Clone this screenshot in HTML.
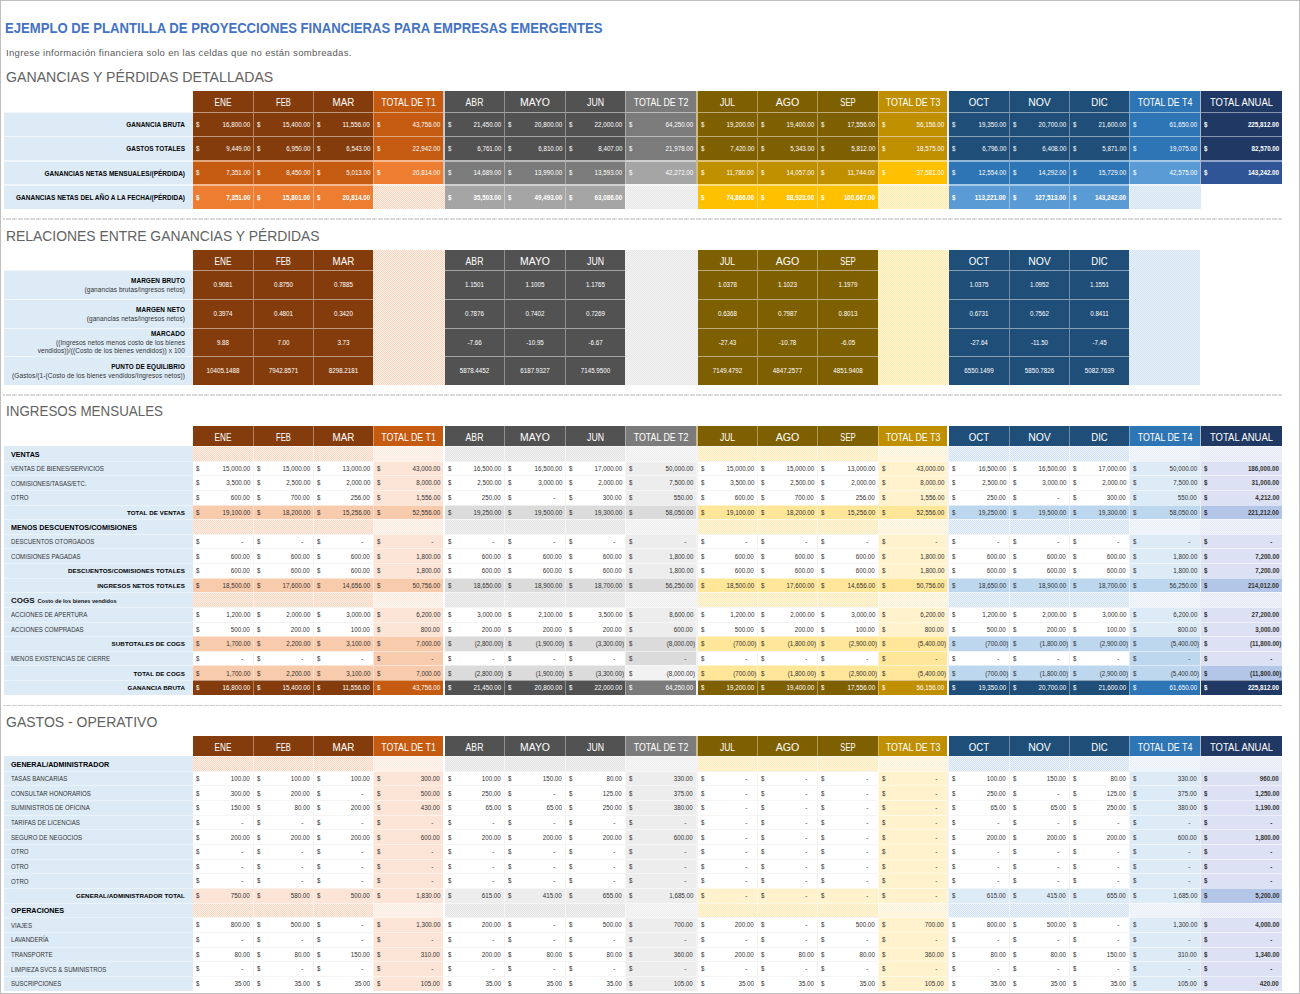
<!DOCTYPE html><html><head><meta charset="utf-8"><title>Plantilla</title><style>
*{margin:0;padding:0;box-sizing:border-box}
html,body{width:1300px;height:994px;overflow:hidden;background:#fff}
body{position:relative;font-family:"Liberation Sans", sans-serif}
body>div{position:absolute}
.t{display:flex;align-items:center;white-space:nowrap;line-height:1;position:absolute}
.tl{justify-content:flex-start}.tr{justify-content:flex-end}.tc{justify-content:center}
.c{font-size:6.8px;line-height:1;white-space:nowrap}
.c i{position:absolute;left:3px;font-style:normal;height:100%;display:flex;align-items:center;transform:scaleX(.9);transform-origin:left center}
.c b{position:absolute;right:3px;font-weight:inherit;height:100%;display:flex;align-items:center;transform:scaleX(.915);transform-origin:right center}
.cc b{left:0;right:0;justify-content:center;transform-origin:center}
.h{font-size:10.2px;color:#fff;line-height:1}
.h b{position:absolute;left:0;right:0;top:1.6px;height:100%;display:flex;align-items:center;justify-content:center;font-weight:normal}
</style></head><body>
<div style="left:0;top:0;width:1300px;height:994px;border:1px solid #BFBFBF;background:#fff"></div>
<div class="t tl" style="left:5px;top:16.3px;width:695px;height:24px;font-size:14px;color:#4472C4;font-weight:bold;transform:scaleX(.9375);transform-origin:left center">EJEMPLO DE PLANTILLA DE PROYECCIONES FINANCIERAS PARA EMPRESAS EMERGENTES</div>
<div class="t tl" style="left:6px;top:45.3px;width:694px;height:15px;font-size:9.5px;color:#595959;letter-spacing:0.34px;">Ingrese información financiera solo en las celdas que no están sombreadas.</div>
<div class="t tl" style="left:6px;top:66.8px;width:694px;height:20.0px;font-size:15px;color:#626262;transform:scaleX(0.943);transform-origin:left center">GANANCIAS Y PÉRDIDAS DETALLADAS</div>
<div class="h" style="left:193px;top:91px;width:60px;height:21px;background:#843C0C;"><b style="transform:scaleX(0.806)">ENE</b></div>
<div class="h" style="left:253px;top:91px;width:60px;height:21px;background:#843C0C;border-left:1px solid rgba(255,255,255,.36);"><b style="transform:scaleX(0.746)">FEB</b></div>
<div class="h" style="left:313px;top:91px;width:60px;height:21px;background:#843C0C;border-left:1px solid rgba(255,255,255,.36);"><b style="transform:scaleX(0.961)">MAR</b></div>
<div class="h" style="left:373px;top:91px;width:70px;height:21px;background:#C55A11;border-left:1px solid rgba(255,255,255,.36);"><b style="transform:scaleX(0.868)">TOTAL DE T1</b></div>
<div class="h" style="left:445px;top:91px;width:59px;height:21px;background:#525252;"><b style="transform:scaleX(0.849)">ABR</b></div>
<div class="h" style="left:504px;top:91px;width:61px;height:21px;background:#525252;border-left:1px solid rgba(255,255,255,.36);"><b style="transform:scaleX(1.024)">MAYO</b></div>
<div class="h" style="left:565px;top:91px;width:60px;height:21px;background:#525252;border-left:1px solid rgba(255,255,255,.36);"><b style="transform:scaleX(0.857)">JUN</b></div>
<div class="h" style="left:625px;top:91px;width:71px;height:21px;background:#7B7B7B;border-left:1px solid rgba(255,255,255,.36);"><b style="transform:scaleX(0.868)">TOTAL DE T2</b></div>
<div class="h" style="left:698px;top:91px;width:59px;height:21px;background:#7F6000;"><b style="transform:scaleX(0.832)">JUL</b></div>
<div class="h" style="left:757px;top:91px;width:60px;height:21px;background:#7F6000;border-left:1px solid rgba(255,255,255,.36);"><b style="transform:scaleX(1.045)">AGO</b></div>
<div class="h" style="left:817px;top:91px;width:61px;height:21px;background:#7F6000;border-left:1px solid rgba(255,255,255,.36);"><b style="transform:scaleX(0.749)">SEP</b></div>
<div class="h" style="left:878px;top:91px;width:69px;height:21px;background:#BF8F00;border-left:1px solid rgba(255,255,255,.36);"><b style="transform:scaleX(0.868)">TOTAL DE T3</b></div>
<div class="h" style="left:949px;top:91px;width:60px;height:21px;background:#1F4E78;"><b style="transform:scaleX(0.952)">OCT</b></div>
<div class="h" style="left:1009px;top:91px;width:60px;height:21px;background:#1F4E78;border-left:1px solid rgba(255,255,255,.36);"><b style="transform:scaleX(1.027)">NOV</b></div>
<div class="h" style="left:1069px;top:91px;width:60px;height:21px;background:#1F4E78;border-left:1px solid rgba(255,255,255,.36);"><b style="transform:scaleX(0.939)">DIC</b></div>
<div class="h" style="left:1129px;top:91px;width:71px;height:21px;background:#2E75B6;border-left:1px solid rgba(255,255,255,.36);"><b style="transform:scaleX(0.868)">TOTAL DE T4</b></div>
<div class="h" style="left:1201px;top:91px;width:81px;height:21px;background:#203864;"><b style="transform:scaleX(0.93)">TOTAL ANUAL</b></div>
<div style="left:4px;top:112px;width:189px;height:24px;background:#DDEBF7;border-top:1px solid rgba(255,255,255,.55);"></div>
<div class="t tr" style="left:4px;top:113.9px;width:189px;height:23px;font-size:6.45px;color:#000;font-weight:bold;padding:0 8px;letter-spacing:0.03px;">GANANCIA BRUTA</div>
<div class="c" style="left:193px;top:112px;width:60px;height:24px;background:#843C0C;border-top:1px solid rgba(255,255,255,.47);color:#fff;"><i style="top:0.8px">$</i><b style="top:0.8px;">16,800.00</b></div>
<div class="c" style="left:253px;top:112px;width:60px;height:24px;background:#843C0C;border-top:1px solid rgba(255,255,255,.47);border-left:1px solid rgba(255,255,255,.36);color:#fff;"><i style="top:0.8px">$</i><b style="top:0.8px;">15,400.00</b></div>
<div class="c" style="left:313px;top:112px;width:60px;height:24px;background:#843C0C;border-top:1px solid rgba(255,255,255,.47);border-left:1px solid rgba(255,255,255,.36);color:#fff;"><i style="top:0.8px">$</i><b style="top:0.8px;">11,556.00</b></div>
<div class="c" style="left:373px;top:112px;width:70px;height:24px;background:#C55A11;border-top:1px solid rgba(255,255,255,.47);border-left:1px solid rgba(255,255,255,.36);color:#fff;"><i style="top:0.8px">$</i><b style="top:0.8px;">43,756.00</b></div>
<div class="c" style="left:445px;top:112px;width:59px;height:24px;background:#525252;border-top:1px solid rgba(255,255,255,.47);color:#fff;"><i style="top:0.8px">$</i><b style="top:0.8px;">21,450.00</b></div>
<div class="c" style="left:504px;top:112px;width:61px;height:24px;background:#525252;border-top:1px solid rgba(255,255,255,.47);border-left:1px solid rgba(255,255,255,.36);color:#fff;"><i style="top:0.8px">$</i><b style="top:0.8px;">20,800.00</b></div>
<div class="c" style="left:565px;top:112px;width:60px;height:24px;background:#525252;border-top:1px solid rgba(255,255,255,.47);border-left:1px solid rgba(255,255,255,.36);color:#fff;"><i style="top:0.8px">$</i><b style="top:0.8px;">22,000.00</b></div>
<div class="c" style="left:625px;top:112px;width:71px;height:24px;background:#7B7B7B;border-top:1px solid rgba(255,255,255,.47);border-left:1px solid rgba(255,255,255,.36);color:#fff;"><i style="top:0.8px">$</i><b style="top:0.8px;">64,250.00</b></div>
<div class="c" style="left:698px;top:112px;width:59px;height:24px;background:#7F6000;border-top:1px solid rgba(255,255,255,.47);color:#fff;"><i style="top:0.8px">$</i><b style="top:0.8px;">19,200.00</b></div>
<div class="c" style="left:757px;top:112px;width:60px;height:24px;background:#7F6000;border-top:1px solid rgba(255,255,255,.47);border-left:1px solid rgba(255,255,255,.36);color:#fff;"><i style="top:0.8px">$</i><b style="top:0.8px;">19,400.00</b></div>
<div class="c" style="left:817px;top:112px;width:61px;height:24px;background:#7F6000;border-top:1px solid rgba(255,255,255,.47);border-left:1px solid rgba(255,255,255,.36);color:#fff;"><i style="top:0.8px">$</i><b style="top:0.8px;">17,556.00</b></div>
<div class="c" style="left:878px;top:112px;width:69px;height:24px;background:#BF8F00;border-top:1px solid rgba(255,255,255,.47);border-left:1px solid rgba(255,255,255,.36);color:#fff;"><i style="top:0.8px">$</i><b style="top:0.8px;">56,156.00</b></div>
<div class="c" style="left:949px;top:112px;width:60px;height:24px;background:#1F4E78;border-top:1px solid rgba(255,255,255,.47);color:#fff;"><i style="top:0.8px">$</i><b style="top:0.8px;">19,350.00</b></div>
<div class="c" style="left:1009px;top:112px;width:60px;height:24px;background:#1F4E78;border-top:1px solid rgba(255,255,255,.47);border-left:1px solid rgba(255,255,255,.36);color:#fff;"><i style="top:0.8px">$</i><b style="top:0.8px;">20,700.00</b></div>
<div class="c" style="left:1069px;top:112px;width:60px;height:24px;background:#1F4E78;border-top:1px solid rgba(255,255,255,.47);border-left:1px solid rgba(255,255,255,.36);color:#fff;"><i style="top:0.8px">$</i><b style="top:0.8px;">21,600.00</b></div>
<div class="c" style="left:1129px;top:112px;width:71px;height:24px;background:#2E75B6;border-top:1px solid rgba(255,255,255,.47);border-left:1px solid rgba(255,255,255,.36);color:#fff;"><i style="top:0.8px">$</i><b style="top:0.8px;">61,650.00</b></div>
<div class="c" style="left:1201px;top:112px;width:81px;height:24px;background:#203864;border-top:1px solid rgba(255,255,255,.47);color:#fff;font-weight:bold;"><i style="top:0.8px">$</i><b style="top:0.8px;">225,812.00</b></div>
<div style="left:4px;top:136px;width:189px;height:24px;background:#DDEBF7;border-top:1px solid rgba(255,255,255,.55);"></div>
<div class="t tr" style="left:4px;top:137.9px;width:189px;height:23px;font-size:6.45px;color:#000;font-weight:bold;padding:0 8px;letter-spacing:0.03px;">GASTOS TOTALES</div>
<div class="c" style="left:193px;top:136px;width:60px;height:24px;background:#843C0C;border-top:1px solid rgba(255,255,255,.47);color:#fff;"><i style="top:0.8px">$</i><b style="top:0.8px;">9,449.00</b></div>
<div class="c" style="left:253px;top:136px;width:60px;height:24px;background:#843C0C;border-top:1px solid rgba(255,255,255,.47);border-left:1px solid rgba(255,255,255,.36);color:#fff;"><i style="top:0.8px">$</i><b style="top:0.8px;">6,950.00</b></div>
<div class="c" style="left:313px;top:136px;width:60px;height:24px;background:#843C0C;border-top:1px solid rgba(255,255,255,.47);border-left:1px solid rgba(255,255,255,.36);color:#fff;"><i style="top:0.8px">$</i><b style="top:0.8px;">6,543.00</b></div>
<div class="c" style="left:373px;top:136px;width:70px;height:24px;background:#C55A11;border-top:1px solid rgba(255,255,255,.47);border-left:1px solid rgba(255,255,255,.36);color:#fff;"><i style="top:0.8px">$</i><b style="top:0.8px;">22,942.00</b></div>
<div class="c" style="left:445px;top:136px;width:59px;height:24px;background:#525252;border-top:1px solid rgba(255,255,255,.47);color:#fff;"><i style="top:0.8px">$</i><b style="top:0.8px;">6,761.00</b></div>
<div class="c" style="left:504px;top:136px;width:61px;height:24px;background:#525252;border-top:1px solid rgba(255,255,255,.47);border-left:1px solid rgba(255,255,255,.36);color:#fff;"><i style="top:0.8px">$</i><b style="top:0.8px;">6,810.00</b></div>
<div class="c" style="left:565px;top:136px;width:60px;height:24px;background:#525252;border-top:1px solid rgba(255,255,255,.47);border-left:1px solid rgba(255,255,255,.36);color:#fff;"><i style="top:0.8px">$</i><b style="top:0.8px;">8,407.00</b></div>
<div class="c" style="left:625px;top:136px;width:71px;height:24px;background:#7B7B7B;border-top:1px solid rgba(255,255,255,.47);border-left:1px solid rgba(255,255,255,.36);color:#fff;"><i style="top:0.8px">$</i><b style="top:0.8px;">21,978.00</b></div>
<div class="c" style="left:698px;top:136px;width:59px;height:24px;background:#7F6000;border-top:1px solid rgba(255,255,255,.47);color:#fff;"><i style="top:0.8px">$</i><b style="top:0.8px;">7,420.00</b></div>
<div class="c" style="left:757px;top:136px;width:60px;height:24px;background:#7F6000;border-top:1px solid rgba(255,255,255,.47);border-left:1px solid rgba(255,255,255,.36);color:#fff;"><i style="top:0.8px">$</i><b style="top:0.8px;">5,343.00</b></div>
<div class="c" style="left:817px;top:136px;width:61px;height:24px;background:#7F6000;border-top:1px solid rgba(255,255,255,.47);border-left:1px solid rgba(255,255,255,.36);color:#fff;"><i style="top:0.8px">$</i><b style="top:0.8px;">5,812.00</b></div>
<div class="c" style="left:878px;top:136px;width:69px;height:24px;background:#BF8F00;border-top:1px solid rgba(255,255,255,.47);border-left:1px solid rgba(255,255,255,.36);color:#fff;"><i style="top:0.8px">$</i><b style="top:0.8px;">18,575.00</b></div>
<div class="c" style="left:949px;top:136px;width:60px;height:24px;background:#1F4E78;border-top:1px solid rgba(255,255,255,.47);color:#fff;"><i style="top:0.8px">$</i><b style="top:0.8px;">6,796.00</b></div>
<div class="c" style="left:1009px;top:136px;width:60px;height:24px;background:#1F4E78;border-top:1px solid rgba(255,255,255,.47);border-left:1px solid rgba(255,255,255,.36);color:#fff;"><i style="top:0.8px">$</i><b style="top:0.8px;">6,408.00</b></div>
<div class="c" style="left:1069px;top:136px;width:60px;height:24px;background:#1F4E78;border-top:1px solid rgba(255,255,255,.47);border-left:1px solid rgba(255,255,255,.36);color:#fff;"><i style="top:0.8px">$</i><b style="top:0.8px;">5,871.00</b></div>
<div class="c" style="left:1129px;top:136px;width:71px;height:24px;background:#2E75B6;border-top:1px solid rgba(255,255,255,.47);border-left:1px solid rgba(255,255,255,.36);color:#fff;"><i style="top:0.8px">$</i><b style="top:0.8px;">19,075.00</b></div>
<div class="c" style="left:1201px;top:136px;width:81px;height:24px;background:#203864;border-top:1px solid rgba(255,255,255,.47);color:#fff;font-weight:bold;"><i style="top:0.8px">$</i><b style="top:0.8px;">82,570.00</b></div>
<div style="left:4px;top:160px;width:189px;height:24px;background:#DDEBF7;border-top:2px solid rgba(255,255,255,.55);"></div>
<div class="t tr" style="left:4px;top:162.9px;width:189px;height:22px;font-size:6.45px;color:#000;font-weight:bold;padding:0 8px;letter-spacing:0.03px;">GANANCIAS NETAS MENSUALES/(PÉRDIDA)</div>
<div class="c" style="left:193px;top:160px;width:60px;height:24px;background:#C55A11;border-top:2px solid rgba(255,255,255,.47);color:#fff;"><i style="top:0.8px">$</i><b style="top:0.8px;">7,351.00</b></div>
<div class="c" style="left:253px;top:160px;width:60px;height:24px;background:#C55A11;border-top:2px solid rgba(255,255,255,.47);border-left:1px solid rgba(255,255,255,.36);color:#fff;"><i style="top:0.8px">$</i><b style="top:0.8px;">8,450.00</b></div>
<div class="c" style="left:313px;top:160px;width:60px;height:24px;background:#C55A11;border-top:2px solid rgba(255,255,255,.47);border-left:1px solid rgba(255,255,255,.36);color:#fff;"><i style="top:0.8px">$</i><b style="top:0.8px;">5,013.00</b></div>
<div class="c" style="left:373px;top:160px;width:70px;height:24px;background:#ED7D31;border-top:2px solid rgba(255,255,255,.47);border-left:1px solid rgba(255,255,255,.36);color:#fff;"><i style="top:0.8px">$</i><b style="top:0.8px;">20,814.00</b></div>
<div class="c" style="left:445px;top:160px;width:59px;height:24px;background:#7B7B7B;border-top:2px solid rgba(255,255,255,.47);color:#fff;"><i style="top:0.8px">$</i><b style="top:0.8px;">14,689.00</b></div>
<div class="c" style="left:504px;top:160px;width:61px;height:24px;background:#7B7B7B;border-top:2px solid rgba(255,255,255,.47);border-left:1px solid rgba(255,255,255,.36);color:#fff;"><i style="top:0.8px">$</i><b style="top:0.8px;">13,990.00</b></div>
<div class="c" style="left:565px;top:160px;width:60px;height:24px;background:#7B7B7B;border-top:2px solid rgba(255,255,255,.47);border-left:1px solid rgba(255,255,255,.36);color:#fff;"><i style="top:0.8px">$</i><b style="top:0.8px;">13,593.00</b></div>
<div class="c" style="left:625px;top:160px;width:71px;height:24px;background:#A5A5A5;border-top:2px solid rgba(255,255,255,.47);border-left:1px solid rgba(255,255,255,.36);color:#fff;"><i style="top:0.8px">$</i><b style="top:0.8px;">42,272.00</b></div>
<div class="c" style="left:698px;top:160px;width:59px;height:24px;background:#BF8F00;border-top:2px solid rgba(255,255,255,.47);color:#fff;"><i style="top:0.8px">$</i><b style="top:0.8px;">11,780.00</b></div>
<div class="c" style="left:757px;top:160px;width:60px;height:24px;background:#BF8F00;border-top:2px solid rgba(255,255,255,.47);border-left:1px solid rgba(255,255,255,.36);color:#fff;"><i style="top:0.8px">$</i><b style="top:0.8px;">14,057.00</b></div>
<div class="c" style="left:817px;top:160px;width:61px;height:24px;background:#BF8F00;border-top:2px solid rgba(255,255,255,.47);border-left:1px solid rgba(255,255,255,.36);color:#fff;"><i style="top:0.8px">$</i><b style="top:0.8px;">11,744.00</b></div>
<div class="c" style="left:878px;top:160px;width:69px;height:24px;background:#FFC000;border-top:2px solid rgba(255,255,255,.47);border-left:1px solid rgba(255,255,255,.36);color:#fff;"><i style="top:0.8px">$</i><b style="top:0.8px;">37,581.00</b></div>
<div class="c" style="left:949px;top:160px;width:60px;height:24px;background:#2E75B6;border-top:2px solid rgba(255,255,255,.47);color:#fff;"><i style="top:0.8px">$</i><b style="top:0.8px;">12,554.00</b></div>
<div class="c" style="left:1009px;top:160px;width:60px;height:24px;background:#2E75B6;border-top:2px solid rgba(255,255,255,.47);border-left:1px solid rgba(255,255,255,.36);color:#fff;"><i style="top:0.8px">$</i><b style="top:0.8px;">14,292.00</b></div>
<div class="c" style="left:1069px;top:160px;width:60px;height:24px;background:#2E75B6;border-top:2px solid rgba(255,255,255,.47);border-left:1px solid rgba(255,255,255,.36);color:#fff;"><i style="top:0.8px">$</i><b style="top:0.8px;">15,729.00</b></div>
<div class="c" style="left:1129px;top:160px;width:71px;height:24px;background:#5B9BD5;border-top:2px solid rgba(255,255,255,.47);border-left:1px solid rgba(255,255,255,.36);color:#fff;"><i style="top:0.8px">$</i><b style="top:0.8px;">42,575.00</b></div>
<div class="c" style="left:1201px;top:160px;width:81px;height:24px;background:#2F5597;border-top:2px solid rgba(255,255,255,.47);color:#fff;font-weight:bold;"><i style="top:0.8px">$</i><b style="top:0.8px;">143,242.00</b></div>
<div style="left:4px;top:184px;width:189px;height:24.5px;background:#DDEBF7;border-top:2px solid rgba(255,255,255,.55);"></div>
<div class="t tr" style="left:4px;top:186.9px;width:189px;height:22.5px;font-size:6.45px;color:#000;font-weight:bold;padding:0 8px;letter-spacing:0.03px;">GANANCIAS NETAS DEL AÑO A LA FECHA/(PÉRDIDA)</div>
<div class="c" style="left:193px;top:184px;width:60px;height:24.5px;background:#ED7D31;border-top:2px solid rgba(255,255,255,.47);color:#fff;font-weight:bold;"><i style="top:0.8px">$</i><b style="top:0.8px;">7,351.00</b></div>
<div class="c" style="left:253px;top:184px;width:60px;height:24.5px;background:#ED7D31;border-top:2px solid rgba(255,255,255,.47);border-left:1px solid rgba(255,255,255,.36);color:#fff;font-weight:bold;"><i style="top:0.8px">$</i><b style="top:0.8px;">15,801.00</b></div>
<div class="c" style="left:313px;top:184px;width:60px;height:24.5px;background:#ED7D31;border-top:2px solid rgba(255,255,255,.47);border-left:1px solid rgba(255,255,255,.36);color:#fff;font-weight:bold;"><i style="top:0.8px">$</i><b style="top:0.8px;">20,814.00</b></div>
<div style="left:373px;top:184px;width:72px;height:24.5px;background:repeating-conic-gradient(#F9D4BB 0 25%,#FDF1E9 0 50%) 0 0/2px 2px;border-top:2px solid rgba(255,255,255,.5);border-left:1px solid rgba(255,255,255,.5);"></div>
<div class="c" style="left:445px;top:184px;width:59px;height:24.5px;background:#A5A5A5;border-top:2px solid rgba(255,255,255,.47);color:#fff;font-weight:bold;"><i style="top:0.8px">$</i><b style="top:0.8px;">35,503.00</b></div>
<div class="c" style="left:504px;top:184px;width:61px;height:24.5px;background:#A5A5A5;border-top:2px solid rgba(255,255,255,.47);border-left:1px solid rgba(255,255,255,.36);color:#fff;font-weight:bold;"><i style="top:0.8px">$</i><b style="top:0.8px;">49,493.00</b></div>
<div class="c" style="left:565px;top:184px;width:60px;height:24.5px;background:#A5A5A5;border-top:2px solid rgba(255,255,255,.47);border-left:1px solid rgba(255,255,255,.36);color:#fff;font-weight:bold;"><i style="top:0.8px">$</i><b style="top:0.8px;">63,086.00</b></div>
<div style="left:625px;top:184px;width:73px;height:24.5px;background:repeating-conic-gradient(#E8E8E8 0 25%,#F2F2F2 0 50%) 0 0/2px 2px;border-top:2px solid rgba(255,255,255,.5);border-left:1px solid rgba(255,255,255,.5);"></div>
<div class="c" style="left:698px;top:184px;width:59px;height:24.5px;background:#FFC000;border-top:2px solid rgba(255,255,255,.47);color:#fff;font-weight:bold;"><i style="top:0.8px">$</i><b style="top:0.8px;">74,866.00</b></div>
<div class="c" style="left:757px;top:184px;width:60px;height:24.5px;background:#FFC000;border-top:2px solid rgba(255,255,255,.47);border-left:1px solid rgba(255,255,255,.36);color:#fff;font-weight:bold;"><i style="top:0.8px">$</i><b style="top:0.8px;">88,923.00</b></div>
<div class="c" style="left:817px;top:184px;width:61px;height:24.5px;background:#FFC000;border-top:2px solid rgba(255,255,255,.47);border-left:1px solid rgba(255,255,255,.36);color:#fff;font-weight:bold;"><i style="top:0.8px">$</i><b style="top:0.8px;">100,667.00</b></div>
<div style="left:878px;top:184px;width:71px;height:24.5px;background:repeating-conic-gradient(#FFEAA8 0 25%,#FFF5DA 0 50%) 0 0/2px 2px;border-top:2px solid rgba(255,255,255,.5);border-left:1px solid rgba(255,255,255,.5);"></div>
<div class="c" style="left:949px;top:184px;width:60px;height:24.5px;background:#5B9BD5;border-top:2px solid rgba(255,255,255,.47);color:#fff;font-weight:bold;"><i style="top:0.8px">$</i><b style="top:0.8px;">113,221.00</b></div>
<div class="c" style="left:1009px;top:184px;width:60px;height:24.5px;background:#5B9BD5;border-top:2px solid rgba(255,255,255,.47);border-left:1px solid rgba(255,255,255,.36);color:#fff;font-weight:bold;"><i style="top:0.8px">$</i><b style="top:0.8px;">127,513.00</b></div>
<div class="c" style="left:1069px;top:184px;width:60px;height:24.5px;background:#5B9BD5;border-top:2px solid rgba(255,255,255,.47);border-left:1px solid rgba(255,255,255,.36);color:#fff;font-weight:bold;"><i style="top:0.8px">$</i><b style="top:0.8px;">143,242.00</b></div>
<div style="left:1129px;top:184px;width:71.5px;height:24.5px;background:repeating-conic-gradient(#D4E5F4 0 25%,#E6EFF8 0 50%) 0 0/2px 2px;border-top:2px solid rgba(255,255,255,.5);border-left:1px solid rgba(255,255,255,.5);"></div>
<div style="left:443px;top:91px;width:2px;height:93px;background:#C9C9C9;"></div>
<div style="left:696px;top:91px;width:2px;height:93px;background:#CDBB85;"></div>
<div style="left:947px;top:91px;width:2px;height:93px;background:#E8EDF6;"></div>
<div style="left:1200px;top:91px;width:1px;height:93px;background:#A9B7CF;"></div>
<div style="left:3px;top:218px;width:1279px;height:2px;background:repeating-linear-gradient(90deg,#D9D9D9 0 4.6px,transparent 4.6px 6px) -3px 0/6px 100%"></div>
<div class="t tl" style="left:6px;top:225.3px;width:694px;height:20.0px;font-size:15px;color:#626262;transform:scaleX(0.926);transform-origin:left center">RELACIONES ENTRE GANANCIAS Y PÉRDIDAS</div>
<div style="left:373px;top:249.5px;width:72px;height:135.5px;background:repeating-conic-gradient(#F9D4BB 0 25%,#FDF1E9 0 50%) 0 0/2px 2px;"></div>
<div style="left:625px;top:249.5px;width:73px;height:135.5px;background:repeating-conic-gradient(#E8E8E8 0 25%,#F2F2F2 0 50%) 0 0/2px 2px;"></div>
<div style="left:878px;top:249.5px;width:71px;height:135.5px;background:repeating-conic-gradient(#FFEAA8 0 25%,#FFF5DA 0 50%) 0 0/2px 2px;"></div>
<div style="left:1129px;top:249.5px;width:71px;height:135.5px;background:repeating-conic-gradient(#D4E5F4 0 25%,#E6EFF8 0 50%) 0 0/2px 2px;"></div>
<div class="h" style="left:193px;top:250px;width:60px;height:20px;background:#843C0C;"><b style="top:2.4px;transform:scaleX(0.806)">ENE</b></div>
<div class="h" style="left:253px;top:250px;width:60px;height:20px;background:#843C0C;border-left:1px solid rgba(255,255,255,.36);"><b style="top:2.4px;transform:scaleX(0.746)">FEB</b></div>
<div class="h" style="left:313px;top:250px;width:60px;height:20px;background:#843C0C;border-left:1px solid rgba(255,255,255,.36);"><b style="top:2.4px;transform:scaleX(0.961)">MAR</b></div>
<div class="h" style="left:445px;top:250px;width:59px;height:20px;background:#525252;"><b style="top:2.4px;transform:scaleX(0.849)">ABR</b></div>
<div class="h" style="left:504px;top:250px;width:61px;height:20px;background:#525252;border-left:1px solid rgba(255,255,255,.36);"><b style="top:2.4px;transform:scaleX(1.024)">MAYO</b></div>
<div class="h" style="left:565px;top:250px;width:60px;height:20px;background:#525252;border-left:1px solid rgba(255,255,255,.36);"><b style="top:2.4px;transform:scaleX(0.857)">JUN</b></div>
<div class="h" style="left:698px;top:250px;width:59px;height:20px;background:#7F6000;"><b style="top:2.4px;transform:scaleX(0.832)">JUL</b></div>
<div class="h" style="left:757px;top:250px;width:60px;height:20px;background:#7F6000;border-left:1px solid rgba(255,255,255,.36);"><b style="top:2.4px;transform:scaleX(1.045)">AGO</b></div>
<div class="h" style="left:817px;top:250px;width:61px;height:20px;background:#7F6000;border-left:1px solid rgba(255,255,255,.36);"><b style="top:2.4px;transform:scaleX(0.749)">SEP</b></div>
<div class="h" style="left:949px;top:250px;width:60px;height:20px;background:#1F4E78;"><b style="top:2.4px;transform:scaleX(0.952)">OCT</b></div>
<div class="h" style="left:1009px;top:250px;width:60px;height:20px;background:#1F4E78;border-left:1px solid rgba(255,255,255,.36);"><b style="top:2.4px;transform:scaleX(1.027)">NOV</b></div>
<div class="h" style="left:1069px;top:250px;width:60px;height:20px;background:#1F4E78;border-left:1px solid rgba(255,255,255,.36);"><b style="top:2.4px;transform:scaleX(0.939)">DIC</b></div>
<div style="left:4px;top:270px;width:189px;height:29px;background:#DDEBF7;border-top:1px solid rgba(255,255,255,.55);"></div>
<div class="t tr" style="left:4px;top:276.7px;width:189px;height:8.9px;font-size:6.4px;color:#000;font-weight:bold;padding:0 8px;letter-spacing:0.1px;">MARGEN BRUTO</div>
<div class="t tr" style="left:4px;top:285.6px;width:189px;height:8.9px;font-size:6.5px;color:#333;padding:0 8px;letter-spacing:0.08px;">(ganancias brutas/ingresos netos)</div>
<div class="c cc" style="left:193px;top:270px;width:60px;height:29px;background:#843C0C;border-top:1px solid rgba(255,255,255,.47);color:#fff;"><b style="top:0.8px">0.9081</b></div>
<div class="c cc" style="left:253px;top:270px;width:60px;height:29px;background:#843C0C;border-top:1px solid rgba(255,255,255,.47);border-left:1px solid rgba(255,255,255,.36);color:#fff;"><b style="top:0.8px">0.8750</b></div>
<div class="c cc" style="left:313px;top:270px;width:60px;height:29px;background:#843C0C;border-top:1px solid rgba(255,255,255,.47);border-left:1px solid rgba(255,255,255,.36);color:#fff;"><b style="top:0.8px">0.7885</b></div>
<div class="c cc" style="left:445px;top:270px;width:59px;height:29px;background:#525252;border-top:1px solid rgba(255,255,255,.47);color:#fff;"><b style="top:0.8px">1.1501</b></div>
<div class="c cc" style="left:504px;top:270px;width:61px;height:29px;background:#525252;border-top:1px solid rgba(255,255,255,.47);border-left:1px solid rgba(255,255,255,.36);color:#fff;"><b style="top:0.8px">1.1005</b></div>
<div class="c cc" style="left:565px;top:270px;width:60px;height:29px;background:#525252;border-top:1px solid rgba(255,255,255,.47);border-left:1px solid rgba(255,255,255,.36);color:#fff;"><b style="top:0.8px">1.1765</b></div>
<div class="c cc" style="left:698px;top:270px;width:59px;height:29px;background:#7F6000;border-top:1px solid rgba(255,255,255,.47);color:#fff;"><b style="top:0.8px">1.0378</b></div>
<div class="c cc" style="left:757px;top:270px;width:60px;height:29px;background:#7F6000;border-top:1px solid rgba(255,255,255,.47);border-left:1px solid rgba(255,255,255,.36);color:#fff;"><b style="top:0.8px">1.1023</b></div>
<div class="c cc" style="left:817px;top:270px;width:61px;height:29px;background:#7F6000;border-top:1px solid rgba(255,255,255,.47);border-left:1px solid rgba(255,255,255,.36);color:#fff;"><b style="top:0.8px">1.1979</b></div>
<div class="c cc" style="left:949px;top:270px;width:60px;height:29px;background:#1F4E78;border-top:1px solid rgba(255,255,255,.47);color:#fff;"><b style="top:0.8px">1.0375</b></div>
<div class="c cc" style="left:1009px;top:270px;width:60px;height:29px;background:#1F4E78;border-top:1px solid rgba(255,255,255,.47);border-left:1px solid rgba(255,255,255,.36);color:#fff;"><b style="top:0.8px">1.0952</b></div>
<div class="c cc" style="left:1069px;top:270px;width:60px;height:29px;background:#1F4E78;border-top:1px solid rgba(255,255,255,.47);border-left:1px solid rgba(255,255,255,.36);color:#fff;"><b style="top:0.8px">1.1551</b></div>
<div style="left:4px;top:299px;width:189px;height:28.5px;background:#DDEBF7;border-top:1px solid rgba(255,255,255,.55);"></div>
<div class="t tr" style="left:4px;top:305.45px;width:189px;height:8.9px;font-size:6.4px;color:#000;font-weight:bold;padding:0 8px;letter-spacing:0.1px;">MARGEN NETO</div>
<div class="t tr" style="left:4px;top:314.35px;width:189px;height:8.9px;font-size:6.5px;color:#333;padding:0 8px;letter-spacing:0.08px;">(ganancias netas/ingresos netos)</div>
<div class="c cc" style="left:193px;top:299px;width:60px;height:28.5px;background:#843C0C;border-top:1px solid rgba(255,255,255,.47);color:#fff;"><b style="top:0.8px">0.3974</b></div>
<div class="c cc" style="left:253px;top:299px;width:60px;height:28.5px;background:#843C0C;border-top:1px solid rgba(255,255,255,.47);border-left:1px solid rgba(255,255,255,.36);color:#fff;"><b style="top:0.8px">0.4801</b></div>
<div class="c cc" style="left:313px;top:299px;width:60px;height:28.5px;background:#843C0C;border-top:1px solid rgba(255,255,255,.47);border-left:1px solid rgba(255,255,255,.36);color:#fff;"><b style="top:0.8px">0.3420</b></div>
<div class="c cc" style="left:445px;top:299px;width:59px;height:28.5px;background:#525252;border-top:1px solid rgba(255,255,255,.47);color:#fff;"><b style="top:0.8px">0.7876</b></div>
<div class="c cc" style="left:504px;top:299px;width:61px;height:28.5px;background:#525252;border-top:1px solid rgba(255,255,255,.47);border-left:1px solid rgba(255,255,255,.36);color:#fff;"><b style="top:0.8px">0.7402</b></div>
<div class="c cc" style="left:565px;top:299px;width:60px;height:28.5px;background:#525252;border-top:1px solid rgba(255,255,255,.47);border-left:1px solid rgba(255,255,255,.36);color:#fff;"><b style="top:0.8px">0.7269</b></div>
<div class="c cc" style="left:698px;top:299px;width:59px;height:28.5px;background:#7F6000;border-top:1px solid rgba(255,255,255,.47);color:#fff;"><b style="top:0.8px">0.6368</b></div>
<div class="c cc" style="left:757px;top:299px;width:60px;height:28.5px;background:#7F6000;border-top:1px solid rgba(255,255,255,.47);border-left:1px solid rgba(255,255,255,.36);color:#fff;"><b style="top:0.8px">0.7987</b></div>
<div class="c cc" style="left:817px;top:299px;width:61px;height:28.5px;background:#7F6000;border-top:1px solid rgba(255,255,255,.47);border-left:1px solid rgba(255,255,255,.36);color:#fff;"><b style="top:0.8px">0.8013</b></div>
<div class="c cc" style="left:949px;top:299px;width:60px;height:28.5px;background:#1F4E78;border-top:1px solid rgba(255,255,255,.47);color:#fff;"><b style="top:0.8px">0.6731</b></div>
<div class="c cc" style="left:1009px;top:299px;width:60px;height:28.5px;background:#1F4E78;border-top:1px solid rgba(255,255,255,.47);border-left:1px solid rgba(255,255,255,.36);color:#fff;"><b style="top:0.8px">0.7562</b></div>
<div class="c cc" style="left:1069px;top:299px;width:60px;height:28.5px;background:#1F4E78;border-top:1px solid rgba(255,255,255,.47);border-left:1px solid rgba(255,255,255,.36);color:#fff;"><b style="top:0.8px">0.8411</b></div>
<div style="left:4px;top:327.5px;width:189px;height:28.5px;background:#DDEBF7;border-top:1px solid rgba(255,255,255,.55);"></div>
<div class="t tr" style="left:4px;top:329.5px;width:189px;height:8.9px;font-size:6.4px;color:#000;font-weight:bold;padding:0 8px;letter-spacing:0.1px;">MARCADO</div>
<div class="t tr" style="left:4px;top:338.4px;width:189px;height:8.9px;font-size:6.5px;color:#333;padding:0 8px;letter-spacing:0.08px;">((Ingresos netos menos costo de los bienes</div>
<div class="t tr" style="left:4px;top:347.3px;width:189px;height:8.9px;font-size:6.5px;color:#333;padding:0 8px;letter-spacing:0.08px;">vendidos))/((Costo de los bienes vendidos)) x 100</div>
<div class="c cc" style="left:193px;top:327.5px;width:60px;height:28.5px;background:#843C0C;border-top:1px solid rgba(255,255,255,.47);color:#fff;"><b style="top:0.8px">9.88</b></div>
<div class="c cc" style="left:253px;top:327.5px;width:60px;height:28.5px;background:#843C0C;border-top:1px solid rgba(255,255,255,.47);border-left:1px solid rgba(255,255,255,.36);color:#fff;"><b style="top:0.8px">7.00</b></div>
<div class="c cc" style="left:313px;top:327.5px;width:60px;height:28.5px;background:#843C0C;border-top:1px solid rgba(255,255,255,.47);border-left:1px solid rgba(255,255,255,.36);color:#fff;"><b style="top:0.8px">3.73</b></div>
<div class="c cc" style="left:445px;top:327.5px;width:59px;height:28.5px;background:#525252;border-top:1px solid rgba(255,255,255,.47);color:#fff;"><b style="top:0.8px">-7.66</b></div>
<div class="c cc" style="left:504px;top:327.5px;width:61px;height:28.5px;background:#525252;border-top:1px solid rgba(255,255,255,.47);border-left:1px solid rgba(255,255,255,.36);color:#fff;"><b style="top:0.8px">-10.95</b></div>
<div class="c cc" style="left:565px;top:327.5px;width:60px;height:28.5px;background:#525252;border-top:1px solid rgba(255,255,255,.47);border-left:1px solid rgba(255,255,255,.36);color:#fff;"><b style="top:0.8px">-6.67</b></div>
<div class="c cc" style="left:698px;top:327.5px;width:59px;height:28.5px;background:#7F6000;border-top:1px solid rgba(255,255,255,.47);color:#fff;"><b style="top:0.8px">-27.43</b></div>
<div class="c cc" style="left:757px;top:327.5px;width:60px;height:28.5px;background:#7F6000;border-top:1px solid rgba(255,255,255,.47);border-left:1px solid rgba(255,255,255,.36);color:#fff;"><b style="top:0.8px">-10.78</b></div>
<div class="c cc" style="left:817px;top:327.5px;width:61px;height:28.5px;background:#7F6000;border-top:1px solid rgba(255,255,255,.47);border-left:1px solid rgba(255,255,255,.36);color:#fff;"><b style="top:0.8px">-6.05</b></div>
<div class="c cc" style="left:949px;top:327.5px;width:60px;height:28.5px;background:#1F4E78;border-top:1px solid rgba(255,255,255,.47);color:#fff;"><b style="top:0.8px">-27.64</b></div>
<div class="c cc" style="left:1009px;top:327.5px;width:60px;height:28.5px;background:#1F4E78;border-top:1px solid rgba(255,255,255,.47);border-left:1px solid rgba(255,255,255,.36);color:#fff;"><b style="top:0.8px">-11.50</b></div>
<div class="c cc" style="left:1069px;top:327.5px;width:60px;height:28.5px;background:#1F4E78;border-top:1px solid rgba(255,255,255,.47);border-left:1px solid rgba(255,255,255,.36);color:#fff;"><b style="top:0.8px">-7.45</b></div>
<div style="left:4px;top:356px;width:189px;height:29px;background:#DDEBF7;border-top:1px solid rgba(255,255,255,.55);"></div>
<div class="t tr" style="left:4px;top:362.7px;width:189px;height:8.9px;font-size:6.4px;color:#000;font-weight:bold;padding:0 8px;letter-spacing:0.1px;">PUNTO DE EQUILIBRIO</div>
<div class="t tr" style="left:4px;top:371.6px;width:189px;height:8.9px;font-size:6.5px;color:#333;padding:0 8px;letter-spacing:0.08px;">(Gastos/(1-(Costo de los bienes vendidos/Ingresos netos))</div>
<div class="c cc" style="left:193px;top:356px;width:60px;height:29px;background:#843C0C;border-top:1px solid rgba(255,255,255,.47);color:#fff;"><b style="top:0.8px">10405.1488</b></div>
<div class="c cc" style="left:253px;top:356px;width:60px;height:29px;background:#843C0C;border-top:1px solid rgba(255,255,255,.47);border-left:1px solid rgba(255,255,255,.36);color:#fff;"><b style="top:0.8px">7942.8571</b></div>
<div class="c cc" style="left:313px;top:356px;width:60px;height:29px;background:#843C0C;border-top:1px solid rgba(255,255,255,.47);border-left:1px solid rgba(255,255,255,.36);color:#fff;"><b style="top:0.8px">8298.2181</b></div>
<div class="c cc" style="left:445px;top:356px;width:59px;height:29px;background:#525252;border-top:1px solid rgba(255,255,255,.47);color:#fff;"><b style="top:0.8px">5878.4452</b></div>
<div class="c cc" style="left:504px;top:356px;width:61px;height:29px;background:#525252;border-top:1px solid rgba(255,255,255,.47);border-left:1px solid rgba(255,255,255,.36);color:#fff;"><b style="top:0.8px">6187.9327</b></div>
<div class="c cc" style="left:565px;top:356px;width:60px;height:29px;background:#525252;border-top:1px solid rgba(255,255,255,.47);border-left:1px solid rgba(255,255,255,.36);color:#fff;"><b style="top:0.8px">7145.9500</b></div>
<div class="c cc" style="left:698px;top:356px;width:59px;height:29px;background:#7F6000;border-top:1px solid rgba(255,255,255,.47);color:#fff;"><b style="top:0.8px">7149.4792</b></div>
<div class="c cc" style="left:757px;top:356px;width:60px;height:29px;background:#7F6000;border-top:1px solid rgba(255,255,255,.47);border-left:1px solid rgba(255,255,255,.36);color:#fff;"><b style="top:0.8px">4847.2577</b></div>
<div class="c cc" style="left:817px;top:356px;width:61px;height:29px;background:#7F6000;border-top:1px solid rgba(255,255,255,.47);border-left:1px solid rgba(255,255,255,.36);color:#fff;"><b style="top:0.8px">4851.9408</b></div>
<div class="c cc" style="left:949px;top:356px;width:60px;height:29px;background:#1F4E78;border-top:1px solid rgba(255,255,255,.47);color:#fff;"><b style="top:0.8px">6550.1499</b></div>
<div class="c cc" style="left:1009px;top:356px;width:60px;height:29px;background:#1F4E78;border-top:1px solid rgba(255,255,255,.47);border-left:1px solid rgba(255,255,255,.36);color:#fff;"><b style="top:0.8px">5850.7826</b></div>
<div class="c cc" style="left:1069px;top:356px;width:60px;height:29px;background:#1F4E78;border-top:1px solid rgba(255,255,255,.47);border-left:1px solid rgba(255,255,255,.36);color:#fff;"><b style="top:0.8px">5082.7639</b></div>
<div style="left:3px;top:394px;width:1279px;height:2px;background:repeating-linear-gradient(90deg,#D9D9D9 0 4.6px,transparent 4.6px 6px) -3px 0/6px 100%"></div>
<div class="t tl" style="left:6px;top:400.8px;width:694px;height:20.0px;font-size:15px;color:#626262;transform:scaleX(0.893);transform-origin:left center">INGRESOS MENSUALES</div>
<div class="h" style="left:193px;top:426px;width:60px;height:20px;background:#843C0C;"><b style="top:2.4px;transform:scaleX(0.806)">ENE</b></div>
<div class="h" style="left:253px;top:426px;width:60px;height:20px;background:#843C0C;border-left:1px solid rgba(255,255,255,.36);"><b style="top:2.4px;transform:scaleX(0.746)">FEB</b></div>
<div class="h" style="left:313px;top:426px;width:60px;height:20px;background:#843C0C;border-left:1px solid rgba(255,255,255,.36);"><b style="top:2.4px;transform:scaleX(0.961)">MAR</b></div>
<div class="h" style="left:373px;top:426px;width:70px;height:20px;background:#C55A11;border-left:1px solid rgba(255,255,255,.36);"><b style="top:2.4px;transform:scaleX(0.868)">TOTAL DE T1</b></div>
<div class="h" style="left:445px;top:426px;width:59px;height:20px;background:#525252;"><b style="top:2.4px;transform:scaleX(0.849)">ABR</b></div>
<div class="h" style="left:504px;top:426px;width:61px;height:20px;background:#525252;border-left:1px solid rgba(255,255,255,.36);"><b style="top:2.4px;transform:scaleX(1.024)">MAYO</b></div>
<div class="h" style="left:565px;top:426px;width:60px;height:20px;background:#525252;border-left:1px solid rgba(255,255,255,.36);"><b style="top:2.4px;transform:scaleX(0.857)">JUN</b></div>
<div class="h" style="left:625px;top:426px;width:71px;height:20px;background:#7B7B7B;border-left:1px solid rgba(255,255,255,.36);"><b style="top:2.4px;transform:scaleX(0.868)">TOTAL DE T2</b></div>
<div class="h" style="left:698px;top:426px;width:59px;height:20px;background:#7F6000;"><b style="top:2.4px;transform:scaleX(0.832)">JUL</b></div>
<div class="h" style="left:757px;top:426px;width:60px;height:20px;background:#7F6000;border-left:1px solid rgba(255,255,255,.36);"><b style="top:2.4px;transform:scaleX(1.045)">AGO</b></div>
<div class="h" style="left:817px;top:426px;width:61px;height:20px;background:#7F6000;border-left:1px solid rgba(255,255,255,.36);"><b style="top:2.4px;transform:scaleX(0.749)">SEP</b></div>
<div class="h" style="left:878px;top:426px;width:69px;height:20px;background:#BF8F00;border-left:1px solid rgba(255,255,255,.36);"><b style="top:2.4px;transform:scaleX(0.868)">TOTAL DE T3</b></div>
<div class="h" style="left:949px;top:426px;width:60px;height:20px;background:#1F4E78;"><b style="top:2.4px;transform:scaleX(0.952)">OCT</b></div>
<div class="h" style="left:1009px;top:426px;width:60px;height:20px;background:#1F4E78;border-left:1px solid rgba(255,255,255,.36);"><b style="top:2.4px;transform:scaleX(1.027)">NOV</b></div>
<div class="h" style="left:1069px;top:426px;width:60px;height:20px;background:#1F4E78;border-left:1px solid rgba(255,255,255,.36);"><b style="top:2.4px;transform:scaleX(0.939)">DIC</b></div>
<div class="h" style="left:1129px;top:426px;width:71px;height:20px;background:#2E75B6;border-left:1px solid rgba(255,255,255,.36);"><b style="top:2.4px;transform:scaleX(0.868)">TOTAL DE T4</b></div>
<div class="h" style="left:1201px;top:426px;width:81px;height:20px;background:#203864;"><b style="top:2.4px;transform:scaleX(0.93)">TOTAL ANUAL</b></div>
<div style="left:4px;top:446.0px;width:189px;height:14.63px;background:#DDEBF7;"></div>
<div class="t tl" style="left:11px;top:446.9px;width:182px;height:14.63px;font-size:7.2px;color:#000;font-weight:bold;">VENTAS</div>
<div style="left:193px;top:446.0px;width:60px;height:14.63px;background:repeating-conic-gradient(#F9D6C0 0 25%,#FDEFE6 0 50%) 0 0/2px 2px;border-top:1px solid rgba(255,255,255,.5);"></div>
<div style="left:253px;top:446.0px;width:60px;height:14.63px;background:repeating-conic-gradient(#F9D6C0 0 25%,#FDEFE6 0 50%) 0 0/2px 2px;border-top:1px solid rgba(255,255,255,.5);border-left:1px solid rgba(255,255,255,.5);"></div>
<div style="left:313px;top:446.0px;width:60px;height:14.63px;background:repeating-conic-gradient(#F9D6C0 0 25%,#FDEFE6 0 50%) 0 0/2px 2px;border-top:1px solid rgba(255,255,255,.5);border-left:1px solid rgba(255,255,255,.5);"></div>
<div style="left:373px;top:446.0px;width:70px;height:14.63px;background:repeating-conic-gradient(#FCEBE0 0 25%,#FEF5EF 0 50%) 0 0/2px 2px;border-top:1px solid rgba(255,255,255,.5);border-left:1px solid rgba(255,255,255,.5);"></div>
<div style="left:445px;top:446.0px;width:59px;height:14.63px;background:repeating-conic-gradient(#E2E2E2 0 25%,#F2F2F2 0 50%) 0 0/2px 2px;border-top:1px solid rgba(255,255,255,.5);"></div>
<div style="left:504px;top:446.0px;width:61px;height:14.63px;background:repeating-conic-gradient(#E2E2E2 0 25%,#F2F2F2 0 50%) 0 0/2px 2px;border-top:1px solid rgba(255,255,255,.5);border-left:1px solid rgba(255,255,255,.5);"></div>
<div style="left:565px;top:446.0px;width:60px;height:14.63px;background:repeating-conic-gradient(#E2E2E2 0 25%,#F2F2F2 0 50%) 0 0/2px 2px;border-top:1px solid rgba(255,255,255,.5);border-left:1px solid rgba(255,255,255,.5);"></div>
<div style="left:625px;top:446.0px;width:71px;height:14.63px;background:repeating-conic-gradient(#EEEEEE 0 25%,#F7F7F7 0 50%) 0 0/2px 2px;border-top:1px solid rgba(255,255,255,.5);border-left:1px solid rgba(255,255,255,.5);"></div>
<div style="left:698px;top:446.0px;width:59px;height:14.63px;background:repeating-conic-gradient(#FDEBBE 0 25%,#FFF6DA 0 50%) 0 0/2px 2px;border-top:1px solid rgba(255,255,255,.5);"></div>
<div style="left:757px;top:446.0px;width:60px;height:14.63px;background:repeating-conic-gradient(#FDEBBE 0 25%,#FFF6DA 0 50%) 0 0/2px 2px;border-top:1px solid rgba(255,255,255,.5);border-left:1px solid rgba(255,255,255,.5);"></div>
<div style="left:817px;top:446.0px;width:61px;height:14.63px;background:repeating-conic-gradient(#FDEBBE 0 25%,#FFF6DA 0 50%) 0 0/2px 2px;border-top:1px solid rgba(255,255,255,.5);border-left:1px solid rgba(255,255,255,.5);"></div>
<div style="left:878px;top:446.0px;width:69px;height:14.63px;background:repeating-conic-gradient(#FFF1D4 0 25%,#FFF9EC 0 50%) 0 0/2px 2px;border-top:1px solid rgba(255,255,255,.5);border-left:1px solid rgba(255,255,255,.5);"></div>
<div style="left:949px;top:446.0px;width:60px;height:14.63px;background:repeating-conic-gradient(#CFE0F1 0 25%,#ECF3FA 0 50%) 0 0/2px 2px;border-top:1px solid rgba(255,255,255,.5);"></div>
<div style="left:1009px;top:446.0px;width:60px;height:14.63px;background:repeating-conic-gradient(#CFE0F1 0 25%,#ECF3FA 0 50%) 0 0/2px 2px;border-top:1px solid rgba(255,255,255,.5);border-left:1px solid rgba(255,255,255,.5);"></div>
<div style="left:1069px;top:446.0px;width:60px;height:14.63px;background:repeating-conic-gradient(#CFE0F1 0 25%,#ECF3FA 0 50%) 0 0/2px 2px;border-top:1px solid rgba(255,255,255,.5);border-left:1px solid rgba(255,255,255,.5);"></div>
<div style="left:1129px;top:446.0px;width:71px;height:14.63px;background:repeating-conic-gradient(#E8F0F9 0 25%,#F3F7FC 0 50%) 0 0/2px 2px;border-top:1px solid rgba(255,255,255,.5);border-left:1px solid rgba(255,255,255,.5);"></div>
<div style="left:1201px;top:446.0px;width:81px;height:14.63px;background:repeating-conic-gradient(#E4E9F5 0 25%,#F0F3FA 0 50%) 0 0/2px 2px;border-top:1px solid rgba(255,255,255,.5);"></div>
<div style="left:4px;top:460.63px;width:189px;height:14.63px;background:#DDEBF7;border-top:1px solid rgba(255,255,255,.38);"></div>
<div class="t tl" style="left:11px;top:462.03px;width:182px;height:14.63px;font-size:6.8px;color:#333;transform:scaleX(.895);transform-origin:left center">VENTAS DE BIENES/SERVICIOS</div>
<div class="c" style="left:193px;top:460.63px;width:60px;height:14.63px;border-top:1px solid #F4F4F4;color:#333;"><i style="top:0.8px">$</i><b style="top:0.8px;">15,000.00</b></div>
<div class="c" style="left:253px;top:460.63px;width:60px;height:14.63px;border-top:1px solid #F4F4F4;border-left:1px solid #F4F4F4;color:#333;"><i style="top:0.8px">$</i><b style="top:0.8px;">15,000.00</b></div>
<div class="c" style="left:313px;top:460.63px;width:60px;height:14.63px;border-top:1px solid #F4F4F4;border-left:1px solid #F4F4F4;color:#333;"><i style="top:0.8px">$</i><b style="top:0.8px;">13,000.00</b></div>
<div class="c" style="left:373px;top:460.63px;width:70px;height:14.63px;background:#FCE4D6;border-top:1px solid rgba(255,255,255,.5);border-left:1px solid rgba(255,255,255,.5);color:#333;"><i style="top:0.8px">$</i><b style="top:0.8px;">43,000.00</b></div>
<div class="c" style="left:445px;top:460.63px;width:59px;height:14.63px;border-top:1px solid #F4F4F4;color:#333;"><i style="top:0.8px">$</i><b style="top:0.8px;">16,500.00</b></div>
<div class="c" style="left:504px;top:460.63px;width:61px;height:14.63px;border-top:1px solid #F4F4F4;border-left:1px solid #F4F4F4;color:#333;"><i style="top:0.8px">$</i><b style="top:0.8px;">16,500.00</b></div>
<div class="c" style="left:565px;top:460.63px;width:60px;height:14.63px;border-top:1px solid #F4F4F4;border-left:1px solid #F4F4F4;color:#333;"><i style="top:0.8px">$</i><b style="top:0.8px;">17,000.00</b></div>
<div class="c" style="left:625px;top:460.63px;width:71px;height:14.63px;background:#EDEDED;border-top:1px solid rgba(255,255,255,.5);border-left:1px solid rgba(255,255,255,.5);color:#333;"><i style="top:0.8px">$</i><b style="top:0.8px;">50,000.00</b></div>
<div class="c" style="left:698px;top:460.63px;width:59px;height:14.63px;border-top:1px solid #F4F4F4;color:#333;"><i style="top:0.8px">$</i><b style="top:0.8px;">15,000.00</b></div>
<div class="c" style="left:757px;top:460.63px;width:60px;height:14.63px;border-top:1px solid #F4F4F4;border-left:1px solid #F4F4F4;color:#333;"><i style="top:0.8px">$</i><b style="top:0.8px;">15,000.00</b></div>
<div class="c" style="left:817px;top:460.63px;width:61px;height:14.63px;border-top:1px solid #F4F4F4;border-left:1px solid #F4F4F4;color:#333;"><i style="top:0.8px">$</i><b style="top:0.8px;">13,000.00</b></div>
<div class="c" style="left:878px;top:460.63px;width:69px;height:14.63px;background:#FFF2CC;border-top:1px solid rgba(255,255,255,.5);border-left:1px solid rgba(255,255,255,.5);color:#333;"><i style="top:0.8px">$</i><b style="top:0.8px;">43,000.00</b></div>
<div class="c" style="left:949px;top:460.63px;width:60px;height:14.63px;border-top:1px solid #F4F4F4;color:#333;"><i style="top:0.8px">$</i><b style="top:0.8px;">16,500.00</b></div>
<div class="c" style="left:1009px;top:460.63px;width:60px;height:14.63px;border-top:1px solid #F4F4F4;border-left:1px solid #F4F4F4;color:#333;"><i style="top:0.8px">$</i><b style="top:0.8px;">16,500.00</b></div>
<div class="c" style="left:1069px;top:460.63px;width:60px;height:14.63px;border-top:1px solid #F4F4F4;border-left:1px solid #F4F4F4;color:#333;"><i style="top:0.8px">$</i><b style="top:0.8px;">17,000.00</b></div>
<div class="c" style="left:1129px;top:460.63px;width:71px;height:14.63px;background:#DDEBF7;border-top:1px solid rgba(255,255,255,.5);border-left:1px solid rgba(255,255,255,.5);color:#333;"><i style="top:0.8px">$</i><b style="top:0.8px;">50,000.00</b></div>
<div class="c" style="left:1201px;top:460.63px;width:81px;height:14.63px;background:#DCE2F3;border-top:1px solid rgba(255,255,255,.5);color:#333;font-weight:bold;"><i style="top:0.8px">$</i><b style="top:0.8px;">186,000.00</b></div>
<div style="left:4px;top:475.26px;width:189px;height:14.63px;background:#DDEBF7;border-top:1px solid rgba(255,255,255,.38);"></div>
<div class="t tl" style="left:11px;top:476.66px;width:182px;height:14.63px;font-size:6.8px;color:#333;transform:scaleX(.895);transform-origin:left center">COMISIONES/TASAS/ETC.</div>
<div class="c" style="left:193px;top:475.26px;width:60px;height:14.63px;border-top:1px solid #F4F4F4;color:#333;"><i style="top:0.8px">$</i><b style="top:0.8px;">3,500.00</b></div>
<div class="c" style="left:253px;top:475.26px;width:60px;height:14.63px;border-top:1px solid #F4F4F4;border-left:1px solid #F4F4F4;color:#333;"><i style="top:0.8px">$</i><b style="top:0.8px;">2,500.00</b></div>
<div class="c" style="left:313px;top:475.26px;width:60px;height:14.63px;border-top:1px solid #F4F4F4;border-left:1px solid #F4F4F4;color:#333;"><i style="top:0.8px">$</i><b style="top:0.8px;">2,000.00</b></div>
<div class="c" style="left:373px;top:475.26px;width:70px;height:14.63px;background:#FCE4D6;border-top:1px solid rgba(255,255,255,.5);border-left:1px solid rgba(255,255,255,.5);color:#333;"><i style="top:0.8px">$</i><b style="top:0.8px;">8,000.00</b></div>
<div class="c" style="left:445px;top:475.26px;width:59px;height:14.63px;border-top:1px solid #F4F4F4;color:#333;"><i style="top:0.8px">$</i><b style="top:0.8px;">2,500.00</b></div>
<div class="c" style="left:504px;top:475.26px;width:61px;height:14.63px;border-top:1px solid #F4F4F4;border-left:1px solid #F4F4F4;color:#333;"><i style="top:0.8px">$</i><b style="top:0.8px;">3,000.00</b></div>
<div class="c" style="left:565px;top:475.26px;width:60px;height:14.63px;border-top:1px solid #F4F4F4;border-left:1px solid #F4F4F4;color:#333;"><i style="top:0.8px">$</i><b style="top:0.8px;">2,000.00</b></div>
<div class="c" style="left:625px;top:475.26px;width:71px;height:14.63px;background:#EDEDED;border-top:1px solid rgba(255,255,255,.5);border-left:1px solid rgba(255,255,255,.5);color:#333;"><i style="top:0.8px">$</i><b style="top:0.8px;">7,500.00</b></div>
<div class="c" style="left:698px;top:475.26px;width:59px;height:14.63px;border-top:1px solid #F4F4F4;color:#333;"><i style="top:0.8px">$</i><b style="top:0.8px;">3,500.00</b></div>
<div class="c" style="left:757px;top:475.26px;width:60px;height:14.63px;border-top:1px solid #F4F4F4;border-left:1px solid #F4F4F4;color:#333;"><i style="top:0.8px">$</i><b style="top:0.8px;">2,500.00</b></div>
<div class="c" style="left:817px;top:475.26px;width:61px;height:14.63px;border-top:1px solid #F4F4F4;border-left:1px solid #F4F4F4;color:#333;"><i style="top:0.8px">$</i><b style="top:0.8px;">2,000.00</b></div>
<div class="c" style="left:878px;top:475.26px;width:69px;height:14.63px;background:#FFF2CC;border-top:1px solid rgba(255,255,255,.5);border-left:1px solid rgba(255,255,255,.5);color:#333;"><i style="top:0.8px">$</i><b style="top:0.8px;">8,000.00</b></div>
<div class="c" style="left:949px;top:475.26px;width:60px;height:14.63px;border-top:1px solid #F4F4F4;color:#333;"><i style="top:0.8px">$</i><b style="top:0.8px;">2,500.00</b></div>
<div class="c" style="left:1009px;top:475.26px;width:60px;height:14.63px;border-top:1px solid #F4F4F4;border-left:1px solid #F4F4F4;color:#333;"><i style="top:0.8px">$</i><b style="top:0.8px;">3,000.00</b></div>
<div class="c" style="left:1069px;top:475.26px;width:60px;height:14.63px;border-top:1px solid #F4F4F4;border-left:1px solid #F4F4F4;color:#333;"><i style="top:0.8px">$</i><b style="top:0.8px;">2,000.00</b></div>
<div class="c" style="left:1129px;top:475.26px;width:71px;height:14.63px;background:#DDEBF7;border-top:1px solid rgba(255,255,255,.5);border-left:1px solid rgba(255,255,255,.5);color:#333;"><i style="top:0.8px">$</i><b style="top:0.8px;">7,500.00</b></div>
<div class="c" style="left:1201px;top:475.26px;width:81px;height:14.63px;background:#DCE2F3;border-top:1px solid rgba(255,255,255,.5);color:#333;font-weight:bold;"><i style="top:0.8px">$</i><b style="top:0.8px;">31,000.00</b></div>
<div style="left:4px;top:489.89px;width:189px;height:14.63px;background:#DDEBF7;border-top:1px solid rgba(255,255,255,.38);"></div>
<div class="t tl" style="left:11px;top:491.29px;width:182px;height:14.63px;font-size:6.8px;color:#333;transform:scaleX(.895);transform-origin:left center">OTRO</div>
<div class="c" style="left:193px;top:489.89px;width:60px;height:14.63px;border-top:1px solid #F4F4F4;color:#333;"><i style="top:0.8px">$</i><b style="top:0.8px;">600.00</b></div>
<div class="c" style="left:253px;top:489.89px;width:60px;height:14.63px;border-top:1px solid #F4F4F4;border-left:1px solid #F4F4F4;color:#333;"><i style="top:0.8px">$</i><b style="top:0.8px;">700.00</b></div>
<div class="c" style="left:313px;top:489.89px;width:60px;height:14.63px;border-top:1px solid #F4F4F4;border-left:1px solid #F4F4F4;color:#333;"><i style="top:0.8px">$</i><b style="top:0.8px;">256.00</b></div>
<div class="c" style="left:373px;top:489.89px;width:70px;height:14.63px;background:#FCE4D6;border-top:1px solid rgba(255,255,255,.5);border-left:1px solid rgba(255,255,255,.5);color:#333;"><i style="top:0.8px">$</i><b style="top:0.8px;">1,556.00</b></div>
<div class="c" style="left:445px;top:489.89px;width:59px;height:14.63px;border-top:1px solid #F4F4F4;color:#333;"><i style="top:0.8px">$</i><b style="top:0.8px;">250.00</b></div>
<div class="c" style="left:504px;top:489.89px;width:61px;height:14.63px;border-top:1px solid #F4F4F4;border-left:1px solid #F4F4F4;color:#333;"><i style="top:0.8px">$</i><b style="top:0.8px;right:9.7px;">-</b></div>
<div class="c" style="left:565px;top:489.89px;width:60px;height:14.63px;border-top:1px solid #F4F4F4;border-left:1px solid #F4F4F4;color:#333;"><i style="top:0.8px">$</i><b style="top:0.8px;">300.00</b></div>
<div class="c" style="left:625px;top:489.89px;width:71px;height:14.63px;background:#EDEDED;border-top:1px solid rgba(255,255,255,.5);border-left:1px solid rgba(255,255,255,.5);color:#333;"><i style="top:0.8px">$</i><b style="top:0.8px;">550.00</b></div>
<div class="c" style="left:698px;top:489.89px;width:59px;height:14.63px;border-top:1px solid #F4F4F4;color:#333;"><i style="top:0.8px">$</i><b style="top:0.8px;">600.00</b></div>
<div class="c" style="left:757px;top:489.89px;width:60px;height:14.63px;border-top:1px solid #F4F4F4;border-left:1px solid #F4F4F4;color:#333;"><i style="top:0.8px">$</i><b style="top:0.8px;">700.00</b></div>
<div class="c" style="left:817px;top:489.89px;width:61px;height:14.63px;border-top:1px solid #F4F4F4;border-left:1px solid #F4F4F4;color:#333;"><i style="top:0.8px">$</i><b style="top:0.8px;">256.00</b></div>
<div class="c" style="left:878px;top:489.89px;width:69px;height:14.63px;background:#FFF2CC;border-top:1px solid rgba(255,255,255,.5);border-left:1px solid rgba(255,255,255,.5);color:#333;"><i style="top:0.8px">$</i><b style="top:0.8px;">1,556.00</b></div>
<div class="c" style="left:949px;top:489.89px;width:60px;height:14.63px;border-top:1px solid #F4F4F4;color:#333;"><i style="top:0.8px">$</i><b style="top:0.8px;">250.00</b></div>
<div class="c" style="left:1009px;top:489.89px;width:60px;height:14.63px;border-top:1px solid #F4F4F4;border-left:1px solid #F4F4F4;color:#333;"><i style="top:0.8px">$</i><b style="top:0.8px;right:9.7px;">-</b></div>
<div class="c" style="left:1069px;top:489.89px;width:60px;height:14.63px;border-top:1px solid #F4F4F4;border-left:1px solid #F4F4F4;color:#333;"><i style="top:0.8px">$</i><b style="top:0.8px;">300.00</b></div>
<div class="c" style="left:1129px;top:489.89px;width:71px;height:14.63px;background:#DDEBF7;border-top:1px solid rgba(255,255,255,.5);border-left:1px solid rgba(255,255,255,.5);color:#333;"><i style="top:0.8px">$</i><b style="top:0.8px;">550.00</b></div>
<div class="c" style="left:1201px;top:489.89px;width:81px;height:14.63px;background:#DCE2F3;border-top:1px solid rgba(255,255,255,.5);color:#333;font-weight:bold;"><i style="top:0.8px">$</i><b style="top:0.8px;">4,212.00</b></div>
<div style="left:4px;top:504.52px;width:189px;height:14.63px;background:#DDEBF7;border-top:1px solid rgba(255,255,255,.38);"></div>
<div class="t tr" style="left:4px;top:505.42px;width:189px;height:14.63px;font-size:6.2px;color:#000;font-weight:bold;padding:0 8px;letter-spacing:0.1px;">TOTAL DE VENTAS</div>
<div class="c" style="left:193px;top:504.52px;width:60px;height:14.63px;background:#F8CBAD;border-top:1px solid rgba(255,255,255,.5);color:#333;"><i style="top:0.8px">$</i><b style="top:0.8px;">19,100.00</b></div>
<div class="c" style="left:253px;top:504.52px;width:60px;height:14.63px;background:#F8CBAD;border-top:1px solid rgba(255,255,255,.5);border-left:1px solid rgba(255,255,255,.5);color:#333;"><i style="top:0.8px">$</i><b style="top:0.8px;">18,200.00</b></div>
<div class="c" style="left:313px;top:504.52px;width:60px;height:14.63px;background:#F8CBAD;border-top:1px solid rgba(255,255,255,.5);border-left:1px solid rgba(255,255,255,.5);color:#333;"><i style="top:0.8px">$</i><b style="top:0.8px;">15,256.00</b></div>
<div class="c" style="left:373px;top:504.52px;width:70px;height:14.63px;background:#F8CBAD;border-top:1px solid rgba(255,255,255,.5);border-left:1px solid rgba(255,255,255,.5);color:#333;"><i style="top:0.8px">$</i><b style="top:0.8px;">52,556.00</b></div>
<div class="c" style="left:445px;top:504.52px;width:59px;height:14.63px;background:#DBDBDB;border-top:1px solid rgba(255,255,255,.5);color:#333;"><i style="top:0.8px">$</i><b style="top:0.8px;">19,250.00</b></div>
<div class="c" style="left:504px;top:504.52px;width:61px;height:14.63px;background:#DBDBDB;border-top:1px solid rgba(255,255,255,.5);border-left:1px solid rgba(255,255,255,.5);color:#333;"><i style="top:0.8px">$</i><b style="top:0.8px;">19,500.00</b></div>
<div class="c" style="left:565px;top:504.52px;width:60px;height:14.63px;background:#DBDBDB;border-top:1px solid rgba(255,255,255,.5);border-left:1px solid rgba(255,255,255,.5);color:#333;"><i style="top:0.8px">$</i><b style="top:0.8px;">19,300.00</b></div>
<div class="c" style="left:625px;top:504.52px;width:71px;height:14.63px;background:#DBDBDB;border-top:1px solid rgba(255,255,255,.5);border-left:1px solid rgba(255,255,255,.5);color:#333;"><i style="top:0.8px">$</i><b style="top:0.8px;">58,050.00</b></div>
<div class="c" style="left:698px;top:504.52px;width:59px;height:14.63px;background:#FFE699;border-top:1px solid rgba(255,255,255,.5);color:#333;"><i style="top:0.8px">$</i><b style="top:0.8px;">19,100.00</b></div>
<div class="c" style="left:757px;top:504.52px;width:60px;height:14.63px;background:#FFE699;border-top:1px solid rgba(255,255,255,.5);border-left:1px solid rgba(255,255,255,.5);color:#333;"><i style="top:0.8px">$</i><b style="top:0.8px;">18,200.00</b></div>
<div class="c" style="left:817px;top:504.52px;width:61px;height:14.63px;background:#FFE699;border-top:1px solid rgba(255,255,255,.5);border-left:1px solid rgba(255,255,255,.5);color:#333;"><i style="top:0.8px">$</i><b style="top:0.8px;">15,256.00</b></div>
<div class="c" style="left:878px;top:504.52px;width:69px;height:14.63px;background:#FFE699;border-top:1px solid rgba(255,255,255,.5);border-left:1px solid rgba(255,255,255,.5);color:#333;"><i style="top:0.8px">$</i><b style="top:0.8px;">52,556.00</b></div>
<div class="c" style="left:949px;top:504.52px;width:60px;height:14.63px;background:#BDD7EE;border-top:1px solid rgba(255,255,255,.5);color:#333;"><i style="top:0.8px">$</i><b style="top:0.8px;">19,250.00</b></div>
<div class="c" style="left:1009px;top:504.52px;width:60px;height:14.63px;background:#BDD7EE;border-top:1px solid rgba(255,255,255,.5);border-left:1px solid rgba(255,255,255,.5);color:#333;"><i style="top:0.8px">$</i><b style="top:0.8px;">19,500.00</b></div>
<div class="c" style="left:1069px;top:504.52px;width:60px;height:14.63px;background:#BDD7EE;border-top:1px solid rgba(255,255,255,.5);border-left:1px solid rgba(255,255,255,.5);color:#333;"><i style="top:0.8px">$</i><b style="top:0.8px;">19,300.00</b></div>
<div class="c" style="left:1129px;top:504.52px;width:71px;height:14.63px;background:#BDD7EE;border-top:1px solid rgba(255,255,255,.5);border-left:1px solid rgba(255,255,255,.5);color:#333;"><i style="top:0.8px">$</i><b style="top:0.8px;">58,050.00</b></div>
<div class="c" style="left:1201px;top:504.52px;width:81px;height:14.63px;background:#B4C6E7;border-top:1px solid rgba(255,255,255,.5);color:#333;font-weight:bold;"><i style="top:0.8px">$</i><b style="top:0.8px;">221,212.00</b></div>
<div style="left:4px;top:519.15px;width:189px;height:14.63px;background:#DDEBF7;border-top:1px solid rgba(255,255,255,.38);"></div>
<div class="t tl" style="left:11px;top:520.05px;width:182px;height:14.63px;font-size:7.2px;color:#000;font-weight:bold;">MENOS DESCUENTOS/COMISIONES</div>
<div style="left:193px;top:519.15px;width:60px;height:14.63px;background:repeating-conic-gradient(#F9D6C0 0 25%,#FDEFE6 0 50%) 0 0/2px 2px;border-top:1px solid rgba(255,255,255,.5);"></div>
<div style="left:253px;top:519.15px;width:60px;height:14.63px;background:repeating-conic-gradient(#F9D6C0 0 25%,#FDEFE6 0 50%) 0 0/2px 2px;border-top:1px solid rgba(255,255,255,.5);border-left:1px solid rgba(255,255,255,.5);"></div>
<div style="left:313px;top:519.15px;width:60px;height:14.63px;background:repeating-conic-gradient(#F9D6C0 0 25%,#FDEFE6 0 50%) 0 0/2px 2px;border-top:1px solid rgba(255,255,255,.5);border-left:1px solid rgba(255,255,255,.5);"></div>
<div style="left:373px;top:519.15px;width:70px;height:14.63px;background:repeating-conic-gradient(#FCEBE0 0 25%,#FEF5EF 0 50%) 0 0/2px 2px;border-top:1px solid rgba(255,255,255,.5);border-left:1px solid rgba(255,255,255,.5);"></div>
<div style="left:445px;top:519.15px;width:59px;height:14.63px;background:repeating-conic-gradient(#E2E2E2 0 25%,#F2F2F2 0 50%) 0 0/2px 2px;border-top:1px solid rgba(255,255,255,.5);"></div>
<div style="left:504px;top:519.15px;width:61px;height:14.63px;background:repeating-conic-gradient(#E2E2E2 0 25%,#F2F2F2 0 50%) 0 0/2px 2px;border-top:1px solid rgba(255,255,255,.5);border-left:1px solid rgba(255,255,255,.5);"></div>
<div style="left:565px;top:519.15px;width:60px;height:14.63px;background:repeating-conic-gradient(#E2E2E2 0 25%,#F2F2F2 0 50%) 0 0/2px 2px;border-top:1px solid rgba(255,255,255,.5);border-left:1px solid rgba(255,255,255,.5);"></div>
<div style="left:625px;top:519.15px;width:71px;height:14.63px;background:repeating-conic-gradient(#EEEEEE 0 25%,#F7F7F7 0 50%) 0 0/2px 2px;border-top:1px solid rgba(255,255,255,.5);border-left:1px solid rgba(255,255,255,.5);"></div>
<div style="left:698px;top:519.15px;width:59px;height:14.63px;background:repeating-conic-gradient(#FDEBBE 0 25%,#FFF6DA 0 50%) 0 0/2px 2px;border-top:1px solid rgba(255,255,255,.5);"></div>
<div style="left:757px;top:519.15px;width:60px;height:14.63px;background:repeating-conic-gradient(#FDEBBE 0 25%,#FFF6DA 0 50%) 0 0/2px 2px;border-top:1px solid rgba(255,255,255,.5);border-left:1px solid rgba(255,255,255,.5);"></div>
<div style="left:817px;top:519.15px;width:61px;height:14.63px;background:repeating-conic-gradient(#FDEBBE 0 25%,#FFF6DA 0 50%) 0 0/2px 2px;border-top:1px solid rgba(255,255,255,.5);border-left:1px solid rgba(255,255,255,.5);"></div>
<div style="left:878px;top:519.15px;width:69px;height:14.63px;background:repeating-conic-gradient(#FFF1D4 0 25%,#FFF9EC 0 50%) 0 0/2px 2px;border-top:1px solid rgba(255,255,255,.5);border-left:1px solid rgba(255,255,255,.5);"></div>
<div style="left:949px;top:519.15px;width:60px;height:14.63px;background:repeating-conic-gradient(#CFE0F1 0 25%,#ECF3FA 0 50%) 0 0/2px 2px;border-top:1px solid rgba(255,255,255,.5);"></div>
<div style="left:1009px;top:519.15px;width:60px;height:14.63px;background:repeating-conic-gradient(#CFE0F1 0 25%,#ECF3FA 0 50%) 0 0/2px 2px;border-top:1px solid rgba(255,255,255,.5);border-left:1px solid rgba(255,255,255,.5);"></div>
<div style="left:1069px;top:519.15px;width:60px;height:14.63px;background:repeating-conic-gradient(#CFE0F1 0 25%,#ECF3FA 0 50%) 0 0/2px 2px;border-top:1px solid rgba(255,255,255,.5);border-left:1px solid rgba(255,255,255,.5);"></div>
<div style="left:1129px;top:519.15px;width:71px;height:14.63px;background:repeating-conic-gradient(#E8F0F9 0 25%,#F3F7FC 0 50%) 0 0/2px 2px;border-top:1px solid rgba(255,255,255,.5);border-left:1px solid rgba(255,255,255,.5);"></div>
<div style="left:1201px;top:519.15px;width:81px;height:14.63px;background:repeating-conic-gradient(#E4E9F5 0 25%,#F0F3FA 0 50%) 0 0/2px 2px;border-top:1px solid rgba(255,255,255,.5);"></div>
<div style="left:4px;top:533.78px;width:189px;height:14.63px;background:#DDEBF7;border-top:1px solid rgba(255,255,255,.38);"></div>
<div class="t tl" style="left:11px;top:535.18px;width:182px;height:14.63px;font-size:6.8px;color:#333;transform:scaleX(.895);transform-origin:left center">DESCUENTOS OTORGADOS</div>
<div class="c" style="left:193px;top:533.78px;width:60px;height:14.63px;border-top:1px solid #F4F4F4;color:#333;"><i style="top:0.8px">$</i><b style="top:0.8px;right:9.7px;">-</b></div>
<div class="c" style="left:253px;top:533.78px;width:60px;height:14.63px;border-top:1px solid #F4F4F4;border-left:1px solid #F4F4F4;color:#333;"><i style="top:0.8px">$</i><b style="top:0.8px;right:9.7px;">-</b></div>
<div class="c" style="left:313px;top:533.78px;width:60px;height:14.63px;border-top:1px solid #F4F4F4;border-left:1px solid #F4F4F4;color:#333;"><i style="top:0.8px">$</i><b style="top:0.8px;right:9.7px;">-</b></div>
<div class="c" style="left:373px;top:533.78px;width:70px;height:14.63px;background:#FCE4D6;border-top:1px solid rgba(255,255,255,.5);border-left:1px solid rgba(255,255,255,.5);color:#333;"><i style="top:0.8px">$</i><b style="top:0.8px;right:9.7px;">-</b></div>
<div class="c" style="left:445px;top:533.78px;width:59px;height:14.63px;border-top:1px solid #F4F4F4;color:#333;"><i style="top:0.8px">$</i><b style="top:0.8px;right:9.7px;">-</b></div>
<div class="c" style="left:504px;top:533.78px;width:61px;height:14.63px;border-top:1px solid #F4F4F4;border-left:1px solid #F4F4F4;color:#333;"><i style="top:0.8px">$</i><b style="top:0.8px;right:9.7px;">-</b></div>
<div class="c" style="left:565px;top:533.78px;width:60px;height:14.63px;border-top:1px solid #F4F4F4;border-left:1px solid #F4F4F4;color:#333;"><i style="top:0.8px">$</i><b style="top:0.8px;right:9.7px;">-</b></div>
<div class="c" style="left:625px;top:533.78px;width:71px;height:14.63px;background:#EDEDED;border-top:1px solid rgba(255,255,255,.5);border-left:1px solid rgba(255,255,255,.5);color:#333;"><i style="top:0.8px">$</i><b style="top:0.8px;right:9.7px;">-</b></div>
<div class="c" style="left:698px;top:533.78px;width:59px;height:14.63px;border-top:1px solid #F4F4F4;color:#333;"><i style="top:0.8px">$</i><b style="top:0.8px;right:9.7px;">-</b></div>
<div class="c" style="left:757px;top:533.78px;width:60px;height:14.63px;border-top:1px solid #F4F4F4;border-left:1px solid #F4F4F4;color:#333;"><i style="top:0.8px">$</i><b style="top:0.8px;right:9.7px;">-</b></div>
<div class="c" style="left:817px;top:533.78px;width:61px;height:14.63px;border-top:1px solid #F4F4F4;border-left:1px solid #F4F4F4;color:#333;"><i style="top:0.8px">$</i><b style="top:0.8px;right:9.7px;">-</b></div>
<div class="c" style="left:878px;top:533.78px;width:69px;height:14.63px;background:#FFF2CC;border-top:1px solid rgba(255,255,255,.5);border-left:1px solid rgba(255,255,255,.5);color:#333;"><i style="top:0.8px">$</i><b style="top:0.8px;right:9.7px;">-</b></div>
<div class="c" style="left:949px;top:533.78px;width:60px;height:14.63px;border-top:1px solid #F4F4F4;color:#333;"><i style="top:0.8px">$</i><b style="top:0.8px;right:9.7px;">-</b></div>
<div class="c" style="left:1009px;top:533.78px;width:60px;height:14.63px;border-top:1px solid #F4F4F4;border-left:1px solid #F4F4F4;color:#333;"><i style="top:0.8px">$</i><b style="top:0.8px;right:9.7px;">-</b></div>
<div class="c" style="left:1069px;top:533.78px;width:60px;height:14.63px;border-top:1px solid #F4F4F4;border-left:1px solid #F4F4F4;color:#333;"><i style="top:0.8px">$</i><b style="top:0.8px;right:9.7px;">-</b></div>
<div class="c" style="left:1129px;top:533.78px;width:71px;height:14.63px;background:#DDEBF7;border-top:1px solid rgba(255,255,255,.5);border-left:1px solid rgba(255,255,255,.5);color:#333;"><i style="top:0.8px">$</i><b style="top:0.8px;right:9.7px;">-</b></div>
<div class="c" style="left:1201px;top:533.78px;width:81px;height:14.63px;background:#DCE2F3;border-top:1px solid rgba(255,255,255,.5);color:#333;font-weight:bold;"><i style="top:0.8px">$</i><b style="top:0.8px;right:9.7px;">-</b></div>
<div style="left:4px;top:548.41px;width:189px;height:14.63px;background:#DDEBF7;border-top:1px solid rgba(255,255,255,.38);"></div>
<div class="t tl" style="left:11px;top:549.81px;width:182px;height:14.63px;font-size:6.8px;color:#333;transform:scaleX(.895);transform-origin:left center">COMISIONES PAGADAS</div>
<div class="c" style="left:193px;top:548.41px;width:60px;height:14.63px;border-top:1px solid #F4F4F4;color:#333;"><i style="top:0.8px">$</i><b style="top:0.8px;">600.00</b></div>
<div class="c" style="left:253px;top:548.41px;width:60px;height:14.63px;border-top:1px solid #F4F4F4;border-left:1px solid #F4F4F4;color:#333;"><i style="top:0.8px">$</i><b style="top:0.8px;">600.00</b></div>
<div class="c" style="left:313px;top:548.41px;width:60px;height:14.63px;border-top:1px solid #F4F4F4;border-left:1px solid #F4F4F4;color:#333;"><i style="top:0.8px">$</i><b style="top:0.8px;">600.00</b></div>
<div class="c" style="left:373px;top:548.41px;width:70px;height:14.63px;background:#FCE4D6;border-top:1px solid rgba(255,255,255,.5);border-left:1px solid rgba(255,255,255,.5);color:#333;"><i style="top:0.8px">$</i><b style="top:0.8px;">1,800.00</b></div>
<div class="c" style="left:445px;top:548.41px;width:59px;height:14.63px;border-top:1px solid #F4F4F4;color:#333;"><i style="top:0.8px">$</i><b style="top:0.8px;">600.00</b></div>
<div class="c" style="left:504px;top:548.41px;width:61px;height:14.63px;border-top:1px solid #F4F4F4;border-left:1px solid #F4F4F4;color:#333;"><i style="top:0.8px">$</i><b style="top:0.8px;">600.00</b></div>
<div class="c" style="left:565px;top:548.41px;width:60px;height:14.63px;border-top:1px solid #F4F4F4;border-left:1px solid #F4F4F4;color:#333;"><i style="top:0.8px">$</i><b style="top:0.8px;">600.00</b></div>
<div class="c" style="left:625px;top:548.41px;width:71px;height:14.63px;background:#EDEDED;border-top:1px solid rgba(255,255,255,.5);border-left:1px solid rgba(255,255,255,.5);color:#333;"><i style="top:0.8px">$</i><b style="top:0.8px;">1,800.00</b></div>
<div class="c" style="left:698px;top:548.41px;width:59px;height:14.63px;border-top:1px solid #F4F4F4;color:#333;"><i style="top:0.8px">$</i><b style="top:0.8px;">600.00</b></div>
<div class="c" style="left:757px;top:548.41px;width:60px;height:14.63px;border-top:1px solid #F4F4F4;border-left:1px solid #F4F4F4;color:#333;"><i style="top:0.8px">$</i><b style="top:0.8px;">600.00</b></div>
<div class="c" style="left:817px;top:548.41px;width:61px;height:14.63px;border-top:1px solid #F4F4F4;border-left:1px solid #F4F4F4;color:#333;"><i style="top:0.8px">$</i><b style="top:0.8px;">600.00</b></div>
<div class="c" style="left:878px;top:548.41px;width:69px;height:14.63px;background:#FFF2CC;border-top:1px solid rgba(255,255,255,.5);border-left:1px solid rgba(255,255,255,.5);color:#333;"><i style="top:0.8px">$</i><b style="top:0.8px;">1,800.00</b></div>
<div class="c" style="left:949px;top:548.41px;width:60px;height:14.63px;border-top:1px solid #F4F4F4;color:#333;"><i style="top:0.8px">$</i><b style="top:0.8px;">600.00</b></div>
<div class="c" style="left:1009px;top:548.41px;width:60px;height:14.63px;border-top:1px solid #F4F4F4;border-left:1px solid #F4F4F4;color:#333;"><i style="top:0.8px">$</i><b style="top:0.8px;">600.00</b></div>
<div class="c" style="left:1069px;top:548.41px;width:60px;height:14.63px;border-top:1px solid #F4F4F4;border-left:1px solid #F4F4F4;color:#333;"><i style="top:0.8px">$</i><b style="top:0.8px;">600.00</b></div>
<div class="c" style="left:1129px;top:548.41px;width:71px;height:14.63px;background:#DDEBF7;border-top:1px solid rgba(255,255,255,.5);border-left:1px solid rgba(255,255,255,.5);color:#333;"><i style="top:0.8px">$</i><b style="top:0.8px;">1,800.00</b></div>
<div class="c" style="left:1201px;top:548.41px;width:81px;height:14.63px;background:#DCE2F3;border-top:1px solid rgba(255,255,255,.5);color:#333;font-weight:bold;"><i style="top:0.8px">$</i><b style="top:0.8px;">7,200.00</b></div>
<div style="left:4px;top:563.04px;width:189px;height:14.63px;background:#DDEBF7;border-top:1px solid rgba(255,255,255,.38);"></div>
<div class="t tr" style="left:4px;top:563.94px;width:189px;height:14.63px;font-size:6.2px;color:#000;font-weight:bold;padding:0 8px;letter-spacing:0.1px;">DESCUENTOS/COMISIONES TOTALES</div>
<div class="c" style="left:193px;top:563.04px;width:60px;height:14.63px;border-top:1px solid #F4F4F4;color:#333;"><i style="top:0.8px">$</i><b style="top:0.8px;">600.00</b></div>
<div class="c" style="left:253px;top:563.04px;width:60px;height:14.63px;border-top:1px solid #F4F4F4;border-left:1px solid #F4F4F4;color:#333;"><i style="top:0.8px">$</i><b style="top:0.8px;">600.00</b></div>
<div class="c" style="left:313px;top:563.04px;width:60px;height:14.63px;border-top:1px solid #F4F4F4;border-left:1px solid #F4F4F4;color:#333;"><i style="top:0.8px">$</i><b style="top:0.8px;">600.00</b></div>
<div class="c" style="left:373px;top:563.04px;width:70px;height:14.63px;background:#FCE4D6;border-top:1px solid rgba(255,255,255,.5);border-left:1px solid rgba(255,255,255,.5);color:#333;"><i style="top:0.8px">$</i><b style="top:0.8px;">1,800.00</b></div>
<div class="c" style="left:445px;top:563.04px;width:59px;height:14.63px;border-top:1px solid #F4F4F4;color:#333;"><i style="top:0.8px">$</i><b style="top:0.8px;">600.00</b></div>
<div class="c" style="left:504px;top:563.04px;width:61px;height:14.63px;border-top:1px solid #F4F4F4;border-left:1px solid #F4F4F4;color:#333;"><i style="top:0.8px">$</i><b style="top:0.8px;">600.00</b></div>
<div class="c" style="left:565px;top:563.04px;width:60px;height:14.63px;border-top:1px solid #F4F4F4;border-left:1px solid #F4F4F4;color:#333;"><i style="top:0.8px">$</i><b style="top:0.8px;">600.00</b></div>
<div class="c" style="left:625px;top:563.04px;width:71px;height:14.63px;background:#EDEDED;border-top:1px solid rgba(255,255,255,.5);border-left:1px solid rgba(255,255,255,.5);color:#333;"><i style="top:0.8px">$</i><b style="top:0.8px;">1,800.00</b></div>
<div class="c" style="left:698px;top:563.04px;width:59px;height:14.63px;border-top:1px solid #F4F4F4;color:#333;"><i style="top:0.8px">$</i><b style="top:0.8px;">600.00</b></div>
<div class="c" style="left:757px;top:563.04px;width:60px;height:14.63px;border-top:1px solid #F4F4F4;border-left:1px solid #F4F4F4;color:#333;"><i style="top:0.8px">$</i><b style="top:0.8px;">600.00</b></div>
<div class="c" style="left:817px;top:563.04px;width:61px;height:14.63px;border-top:1px solid #F4F4F4;border-left:1px solid #F4F4F4;color:#333;"><i style="top:0.8px">$</i><b style="top:0.8px;">600.00</b></div>
<div class="c" style="left:878px;top:563.04px;width:69px;height:14.63px;background:#FFF2CC;border-top:1px solid rgba(255,255,255,.5);border-left:1px solid rgba(255,255,255,.5);color:#333;"><i style="top:0.8px">$</i><b style="top:0.8px;">1,800.00</b></div>
<div class="c" style="left:949px;top:563.04px;width:60px;height:14.63px;border-top:1px solid #F4F4F4;color:#333;"><i style="top:0.8px">$</i><b style="top:0.8px;">600.00</b></div>
<div class="c" style="left:1009px;top:563.04px;width:60px;height:14.63px;border-top:1px solid #F4F4F4;border-left:1px solid #F4F4F4;color:#333;"><i style="top:0.8px">$</i><b style="top:0.8px;">600.00</b></div>
<div class="c" style="left:1069px;top:563.04px;width:60px;height:14.63px;border-top:1px solid #F4F4F4;border-left:1px solid #F4F4F4;color:#333;"><i style="top:0.8px">$</i><b style="top:0.8px;">600.00</b></div>
<div class="c" style="left:1129px;top:563.04px;width:71px;height:14.63px;background:#DDEBF7;border-top:1px solid rgba(255,255,255,.5);border-left:1px solid rgba(255,255,255,.5);color:#333;"><i style="top:0.8px">$</i><b style="top:0.8px;">1,800.00</b></div>
<div class="c" style="left:1201px;top:563.04px;width:81px;height:14.63px;background:#DCE2F3;border-top:1px solid rgba(255,255,255,.5);color:#333;font-weight:bold;"><i style="top:0.8px">$</i><b style="top:0.8px;">7,200.00</b></div>
<div style="left:4px;top:577.67px;width:189px;height:14.63px;background:#DDEBF7;border-top:1px solid rgba(255,255,255,.38);"></div>
<div class="t tr" style="left:4px;top:578.57px;width:189px;height:14.63px;font-size:6.2px;color:#000;font-weight:bold;padding:0 8px;letter-spacing:0.1px;">INGRESOS NETOS TOTALES</div>
<div class="c" style="left:193px;top:577.67px;width:60px;height:14.63px;background:#F8CBAD;border-top:1px solid rgba(255,255,255,.5);color:#333;"><i style="top:0.8px">$</i><b style="top:0.8px;">18,500.00</b></div>
<div class="c" style="left:253px;top:577.67px;width:60px;height:14.63px;background:#F8CBAD;border-top:1px solid rgba(255,255,255,.5);border-left:1px solid rgba(255,255,255,.5);color:#333;"><i style="top:0.8px">$</i><b style="top:0.8px;">17,600.00</b></div>
<div class="c" style="left:313px;top:577.67px;width:60px;height:14.63px;background:#F8CBAD;border-top:1px solid rgba(255,255,255,.5);border-left:1px solid rgba(255,255,255,.5);color:#333;"><i style="top:0.8px">$</i><b style="top:0.8px;">14,656.00</b></div>
<div class="c" style="left:373px;top:577.67px;width:70px;height:14.63px;background:#F8CBAD;border-top:1px solid rgba(255,255,255,.5);border-left:1px solid rgba(255,255,255,.5);color:#333;"><i style="top:0.8px">$</i><b style="top:0.8px;">50,756.00</b></div>
<div class="c" style="left:445px;top:577.67px;width:59px;height:14.63px;background:#DBDBDB;border-top:1px solid rgba(255,255,255,.5);color:#333;"><i style="top:0.8px">$</i><b style="top:0.8px;">18,650.00</b></div>
<div class="c" style="left:504px;top:577.67px;width:61px;height:14.63px;background:#DBDBDB;border-top:1px solid rgba(255,255,255,.5);border-left:1px solid rgba(255,255,255,.5);color:#333;"><i style="top:0.8px">$</i><b style="top:0.8px;">18,900.00</b></div>
<div class="c" style="left:565px;top:577.67px;width:60px;height:14.63px;background:#DBDBDB;border-top:1px solid rgba(255,255,255,.5);border-left:1px solid rgba(255,255,255,.5);color:#333;"><i style="top:0.8px">$</i><b style="top:0.8px;">18,700.00</b></div>
<div class="c" style="left:625px;top:577.67px;width:71px;height:14.63px;background:#DBDBDB;border-top:1px solid rgba(255,255,255,.5);border-left:1px solid rgba(255,255,255,.5);color:#333;"><i style="top:0.8px">$</i><b style="top:0.8px;">56,250.00</b></div>
<div class="c" style="left:698px;top:577.67px;width:59px;height:14.63px;background:#FFE699;border-top:1px solid rgba(255,255,255,.5);color:#333;"><i style="top:0.8px">$</i><b style="top:0.8px;">18,500.00</b></div>
<div class="c" style="left:757px;top:577.67px;width:60px;height:14.63px;background:#FFE699;border-top:1px solid rgba(255,255,255,.5);border-left:1px solid rgba(255,255,255,.5);color:#333;"><i style="top:0.8px">$</i><b style="top:0.8px;">17,600.00</b></div>
<div class="c" style="left:817px;top:577.67px;width:61px;height:14.63px;background:#FFE699;border-top:1px solid rgba(255,255,255,.5);border-left:1px solid rgba(255,255,255,.5);color:#333;"><i style="top:0.8px">$</i><b style="top:0.8px;">14,656.00</b></div>
<div class="c" style="left:878px;top:577.67px;width:69px;height:14.63px;background:#FFE699;border-top:1px solid rgba(255,255,255,.5);border-left:1px solid rgba(255,255,255,.5);color:#333;"><i style="top:0.8px">$</i><b style="top:0.8px;">50,756.00</b></div>
<div class="c" style="left:949px;top:577.67px;width:60px;height:14.63px;background:#BDD7EE;border-top:1px solid rgba(255,255,255,.5);color:#333;"><i style="top:0.8px">$</i><b style="top:0.8px;">18,650.00</b></div>
<div class="c" style="left:1009px;top:577.67px;width:60px;height:14.63px;background:#BDD7EE;border-top:1px solid rgba(255,255,255,.5);border-left:1px solid rgba(255,255,255,.5);color:#333;"><i style="top:0.8px">$</i><b style="top:0.8px;">18,900.00</b></div>
<div class="c" style="left:1069px;top:577.67px;width:60px;height:14.63px;background:#BDD7EE;border-top:1px solid rgba(255,255,255,.5);border-left:1px solid rgba(255,255,255,.5);color:#333;"><i style="top:0.8px">$</i><b style="top:0.8px;">18,700.00</b></div>
<div class="c" style="left:1129px;top:577.67px;width:71px;height:14.63px;background:#BDD7EE;border-top:1px solid rgba(255,255,255,.5);border-left:1px solid rgba(255,255,255,.5);color:#333;"><i style="top:0.8px">$</i><b style="top:0.8px;">56,250.00</b></div>
<div class="c" style="left:1201px;top:577.67px;width:81px;height:14.63px;background:#B4C6E7;border-top:1px solid rgba(255,255,255,.5);color:#333;font-weight:bold;"><i style="top:0.8px">$</i><b style="top:0.8px;">214,012.00</b></div>
<div style="left:4px;top:592.3px;width:189px;height:14.63px;background:#DDEBF7;border-top:1px solid rgba(255,255,255,.38);"></div>
<div class="t tl" style="left:11px;top:593.1999999999999px;width:180px;height:14.63px;color:#111;font-weight:bold;font-size:8px">COGS<span style="font-size:5.6px;margin-left:3px;position:relative;top:0.8px">Costo de los bienes vendidos</span></div>
<div style="left:193px;top:592.3px;width:60px;height:14.63px;background:repeating-conic-gradient(#F9D6C0 0 25%,#FDEFE6 0 50%) 0 0/2px 2px;border-top:1px solid rgba(255,255,255,.5);"></div>
<div style="left:253px;top:592.3px;width:60px;height:14.63px;background:repeating-conic-gradient(#F9D6C0 0 25%,#FDEFE6 0 50%) 0 0/2px 2px;border-top:1px solid rgba(255,255,255,.5);border-left:1px solid rgba(255,255,255,.5);"></div>
<div style="left:313px;top:592.3px;width:60px;height:14.63px;background:repeating-conic-gradient(#F9D6C0 0 25%,#FDEFE6 0 50%) 0 0/2px 2px;border-top:1px solid rgba(255,255,255,.5);border-left:1px solid rgba(255,255,255,.5);"></div>
<div style="left:373px;top:592.3px;width:70px;height:14.63px;background:repeating-conic-gradient(#FCEBE0 0 25%,#FEF5EF 0 50%) 0 0/2px 2px;border-top:1px solid rgba(255,255,255,.5);border-left:1px solid rgba(255,255,255,.5);"></div>
<div style="left:445px;top:592.3px;width:59px;height:14.63px;background:repeating-conic-gradient(#E2E2E2 0 25%,#F2F2F2 0 50%) 0 0/2px 2px;border-top:1px solid rgba(255,255,255,.5);"></div>
<div style="left:504px;top:592.3px;width:61px;height:14.63px;background:repeating-conic-gradient(#E2E2E2 0 25%,#F2F2F2 0 50%) 0 0/2px 2px;border-top:1px solid rgba(255,255,255,.5);border-left:1px solid rgba(255,255,255,.5);"></div>
<div style="left:565px;top:592.3px;width:60px;height:14.63px;background:repeating-conic-gradient(#E2E2E2 0 25%,#F2F2F2 0 50%) 0 0/2px 2px;border-top:1px solid rgba(255,255,255,.5);border-left:1px solid rgba(255,255,255,.5);"></div>
<div style="left:625px;top:592.3px;width:71px;height:14.63px;background:repeating-conic-gradient(#EEEEEE 0 25%,#F7F7F7 0 50%) 0 0/2px 2px;border-top:1px solid rgba(255,255,255,.5);border-left:1px solid rgba(255,255,255,.5);"></div>
<div style="left:698px;top:592.3px;width:59px;height:14.63px;background:repeating-conic-gradient(#FDEBBE 0 25%,#FFF6DA 0 50%) 0 0/2px 2px;border-top:1px solid rgba(255,255,255,.5);"></div>
<div style="left:757px;top:592.3px;width:60px;height:14.63px;background:repeating-conic-gradient(#FDEBBE 0 25%,#FFF6DA 0 50%) 0 0/2px 2px;border-top:1px solid rgba(255,255,255,.5);border-left:1px solid rgba(255,255,255,.5);"></div>
<div style="left:817px;top:592.3px;width:61px;height:14.63px;background:repeating-conic-gradient(#FDEBBE 0 25%,#FFF6DA 0 50%) 0 0/2px 2px;border-top:1px solid rgba(255,255,255,.5);border-left:1px solid rgba(255,255,255,.5);"></div>
<div style="left:878px;top:592.3px;width:69px;height:14.63px;background:repeating-conic-gradient(#FFF1D4 0 25%,#FFF9EC 0 50%) 0 0/2px 2px;border-top:1px solid rgba(255,255,255,.5);border-left:1px solid rgba(255,255,255,.5);"></div>
<div style="left:949px;top:592.3px;width:60px;height:14.63px;background:repeating-conic-gradient(#CFE0F1 0 25%,#ECF3FA 0 50%) 0 0/2px 2px;border-top:1px solid rgba(255,255,255,.5);"></div>
<div style="left:1009px;top:592.3px;width:60px;height:14.63px;background:repeating-conic-gradient(#CFE0F1 0 25%,#ECF3FA 0 50%) 0 0/2px 2px;border-top:1px solid rgba(255,255,255,.5);border-left:1px solid rgba(255,255,255,.5);"></div>
<div style="left:1069px;top:592.3px;width:60px;height:14.63px;background:repeating-conic-gradient(#CFE0F1 0 25%,#ECF3FA 0 50%) 0 0/2px 2px;border-top:1px solid rgba(255,255,255,.5);border-left:1px solid rgba(255,255,255,.5);"></div>
<div style="left:1129px;top:592.3px;width:71px;height:14.63px;background:repeating-conic-gradient(#E8F0F9 0 25%,#F3F7FC 0 50%) 0 0/2px 2px;border-top:1px solid rgba(255,255,255,.5);border-left:1px solid rgba(255,255,255,.5);"></div>
<div style="left:1201px;top:592.3px;width:81px;height:14.63px;background:repeating-conic-gradient(#E4E9F5 0 25%,#F0F3FA 0 50%) 0 0/2px 2px;border-top:1px solid rgba(255,255,255,.5);"></div>
<div style="left:4px;top:606.93px;width:189px;height:14.63px;background:#DDEBF7;border-top:1px solid rgba(255,255,255,.38);"></div>
<div class="t tl" style="left:11px;top:608.33px;width:182px;height:14.63px;font-size:6.8px;color:#333;transform:scaleX(.895);transform-origin:left center">ACCIONES DE APERTURA</div>
<div class="c" style="left:193px;top:606.93px;width:60px;height:14.63px;border-top:1px solid #F4F4F4;color:#333;"><i style="top:0.8px">$</i><b style="top:0.8px;">1,200.00</b></div>
<div class="c" style="left:253px;top:606.93px;width:60px;height:14.63px;border-top:1px solid #F4F4F4;border-left:1px solid #F4F4F4;color:#333;"><i style="top:0.8px">$</i><b style="top:0.8px;">2,000.00</b></div>
<div class="c" style="left:313px;top:606.93px;width:60px;height:14.63px;border-top:1px solid #F4F4F4;border-left:1px solid #F4F4F4;color:#333;"><i style="top:0.8px">$</i><b style="top:0.8px;">3,000.00</b></div>
<div class="c" style="left:373px;top:606.93px;width:70px;height:14.63px;background:#FCE4D6;border-top:1px solid rgba(255,255,255,.5);border-left:1px solid rgba(255,255,255,.5);color:#333;"><i style="top:0.8px">$</i><b style="top:0.8px;">6,200.00</b></div>
<div class="c" style="left:445px;top:606.93px;width:59px;height:14.63px;border-top:1px solid #F4F4F4;color:#333;"><i style="top:0.8px">$</i><b style="top:0.8px;">3,000.00</b></div>
<div class="c" style="left:504px;top:606.93px;width:61px;height:14.63px;border-top:1px solid #F4F4F4;border-left:1px solid #F4F4F4;color:#333;"><i style="top:0.8px">$</i><b style="top:0.8px;">2,100.00</b></div>
<div class="c" style="left:565px;top:606.93px;width:60px;height:14.63px;border-top:1px solid #F4F4F4;border-left:1px solid #F4F4F4;color:#333;"><i style="top:0.8px">$</i><b style="top:0.8px;">3,500.00</b></div>
<div class="c" style="left:625px;top:606.93px;width:71px;height:14.63px;background:#EDEDED;border-top:1px solid rgba(255,255,255,.5);border-left:1px solid rgba(255,255,255,.5);color:#333;"><i style="top:0.8px">$</i><b style="top:0.8px;">8,600.00</b></div>
<div class="c" style="left:698px;top:606.93px;width:59px;height:14.63px;border-top:1px solid #F4F4F4;color:#333;"><i style="top:0.8px">$</i><b style="top:0.8px;">1,200.00</b></div>
<div class="c" style="left:757px;top:606.93px;width:60px;height:14.63px;border-top:1px solid #F4F4F4;border-left:1px solid #F4F4F4;color:#333;"><i style="top:0.8px">$</i><b style="top:0.8px;">2,000.00</b></div>
<div class="c" style="left:817px;top:606.93px;width:61px;height:14.63px;border-top:1px solid #F4F4F4;border-left:1px solid #F4F4F4;color:#333;"><i style="top:0.8px">$</i><b style="top:0.8px;">3,000.00</b></div>
<div class="c" style="left:878px;top:606.93px;width:69px;height:14.63px;background:#FFF2CC;border-top:1px solid rgba(255,255,255,.5);border-left:1px solid rgba(255,255,255,.5);color:#333;"><i style="top:0.8px">$</i><b style="top:0.8px;">6,200.00</b></div>
<div class="c" style="left:949px;top:606.93px;width:60px;height:14.63px;border-top:1px solid #F4F4F4;color:#333;"><i style="top:0.8px">$</i><b style="top:0.8px;">1,200.00</b></div>
<div class="c" style="left:1009px;top:606.93px;width:60px;height:14.63px;border-top:1px solid #F4F4F4;border-left:1px solid #F4F4F4;color:#333;"><i style="top:0.8px">$</i><b style="top:0.8px;">2,000.00</b></div>
<div class="c" style="left:1069px;top:606.93px;width:60px;height:14.63px;border-top:1px solid #F4F4F4;border-left:1px solid #F4F4F4;color:#333;"><i style="top:0.8px">$</i><b style="top:0.8px;">3,000.00</b></div>
<div class="c" style="left:1129px;top:606.93px;width:71px;height:14.63px;background:#DDEBF7;border-top:1px solid rgba(255,255,255,.5);border-left:1px solid rgba(255,255,255,.5);color:#333;"><i style="top:0.8px">$</i><b style="top:0.8px;">6,200.00</b></div>
<div class="c" style="left:1201px;top:606.93px;width:81px;height:14.63px;background:#DCE2F3;border-top:1px solid rgba(255,255,255,.5);color:#333;font-weight:bold;"><i style="top:0.8px">$</i><b style="top:0.8px;">27,200.00</b></div>
<div style="left:4px;top:621.56px;width:189px;height:14.63px;background:#DDEBF7;border-top:1px solid rgba(255,255,255,.38);"></div>
<div class="t tl" style="left:11px;top:622.96px;width:182px;height:14.63px;font-size:6.8px;color:#333;transform:scaleX(.895);transform-origin:left center">ACCIONES COMPRADAS</div>
<div class="c" style="left:193px;top:621.56px;width:60px;height:14.63px;border-top:1px solid #F4F4F4;color:#333;"><i style="top:0.8px">$</i><b style="top:0.8px;">500.00</b></div>
<div class="c" style="left:253px;top:621.56px;width:60px;height:14.63px;border-top:1px solid #F4F4F4;border-left:1px solid #F4F4F4;color:#333;"><i style="top:0.8px">$</i><b style="top:0.8px;">200.00</b></div>
<div class="c" style="left:313px;top:621.56px;width:60px;height:14.63px;border-top:1px solid #F4F4F4;border-left:1px solid #F4F4F4;color:#333;"><i style="top:0.8px">$</i><b style="top:0.8px;">100.00</b></div>
<div class="c" style="left:373px;top:621.56px;width:70px;height:14.63px;background:#FCE4D6;border-top:1px solid rgba(255,255,255,.5);border-left:1px solid rgba(255,255,255,.5);color:#333;"><i style="top:0.8px">$</i><b style="top:0.8px;">800.00</b></div>
<div class="c" style="left:445px;top:621.56px;width:59px;height:14.63px;border-top:1px solid #F4F4F4;color:#333;"><i style="top:0.8px">$</i><b style="top:0.8px;">200.00</b></div>
<div class="c" style="left:504px;top:621.56px;width:61px;height:14.63px;border-top:1px solid #F4F4F4;border-left:1px solid #F4F4F4;color:#333;"><i style="top:0.8px">$</i><b style="top:0.8px;">200.00</b></div>
<div class="c" style="left:565px;top:621.56px;width:60px;height:14.63px;border-top:1px solid #F4F4F4;border-left:1px solid #F4F4F4;color:#333;"><i style="top:0.8px">$</i><b style="top:0.8px;">200.00</b></div>
<div class="c" style="left:625px;top:621.56px;width:71px;height:14.63px;background:#EDEDED;border-top:1px solid rgba(255,255,255,.5);border-left:1px solid rgba(255,255,255,.5);color:#333;"><i style="top:0.8px">$</i><b style="top:0.8px;">600.00</b></div>
<div class="c" style="left:698px;top:621.56px;width:59px;height:14.63px;border-top:1px solid #F4F4F4;color:#333;"><i style="top:0.8px">$</i><b style="top:0.8px;">500.00</b></div>
<div class="c" style="left:757px;top:621.56px;width:60px;height:14.63px;border-top:1px solid #F4F4F4;border-left:1px solid #F4F4F4;color:#333;"><i style="top:0.8px">$</i><b style="top:0.8px;">200.00</b></div>
<div class="c" style="left:817px;top:621.56px;width:61px;height:14.63px;border-top:1px solid #F4F4F4;border-left:1px solid #F4F4F4;color:#333;"><i style="top:0.8px">$</i><b style="top:0.8px;">100.00</b></div>
<div class="c" style="left:878px;top:621.56px;width:69px;height:14.63px;background:#FFF2CC;border-top:1px solid rgba(255,255,255,.5);border-left:1px solid rgba(255,255,255,.5);color:#333;"><i style="top:0.8px">$</i><b style="top:0.8px;">800.00</b></div>
<div class="c" style="left:949px;top:621.56px;width:60px;height:14.63px;border-top:1px solid #F4F4F4;color:#333;"><i style="top:0.8px">$</i><b style="top:0.8px;">500.00</b></div>
<div class="c" style="left:1009px;top:621.56px;width:60px;height:14.63px;border-top:1px solid #F4F4F4;border-left:1px solid #F4F4F4;color:#333;"><i style="top:0.8px">$</i><b style="top:0.8px;">200.00</b></div>
<div class="c" style="left:1069px;top:621.56px;width:60px;height:14.63px;border-top:1px solid #F4F4F4;border-left:1px solid #F4F4F4;color:#333;"><i style="top:0.8px">$</i><b style="top:0.8px;">100.00</b></div>
<div class="c" style="left:1129px;top:621.56px;width:71px;height:14.63px;background:#DDEBF7;border-top:1px solid rgba(255,255,255,.5);border-left:1px solid rgba(255,255,255,.5);color:#333;"><i style="top:0.8px">$</i><b style="top:0.8px;">800.00</b></div>
<div class="c" style="left:1201px;top:621.56px;width:81px;height:14.63px;background:#DCE2F3;border-top:1px solid rgba(255,255,255,.5);color:#333;font-weight:bold;"><i style="top:0.8px">$</i><b style="top:0.8px;">3,000.00</b></div>
<div style="left:4px;top:636.19px;width:189px;height:14.63px;background:#DDEBF7;border-top:1px solid rgba(255,255,255,.38);"></div>
<div class="t tr" style="left:4px;top:637.09px;width:189px;height:14.63px;font-size:6.2px;color:#000;font-weight:bold;padding:0 8px;letter-spacing:0.1px;">SUBTOTALES DE COGS</div>
<div class="c" style="left:193px;top:636.19px;width:60px;height:14.63px;background:#F8CBAD;border-top:1px solid rgba(255,255,255,.5);color:#333;"><i style="top:0.8px">$</i><b style="top:0.8px;">1,700.00</b></div>
<div class="c" style="left:253px;top:636.19px;width:60px;height:14.63px;background:#F8CBAD;border-top:1px solid rgba(255,255,255,.5);border-left:1px solid rgba(255,255,255,.5);color:#333;"><i style="top:0.8px">$</i><b style="top:0.8px;">2,200.00</b></div>
<div class="c" style="left:313px;top:636.19px;width:60px;height:14.63px;background:#F8CBAD;border-top:1px solid rgba(255,255,255,.5);border-left:1px solid rgba(255,255,255,.5);color:#333;"><i style="top:0.8px">$</i><b style="top:0.8px;">3,100.00</b></div>
<div class="c" style="left:373px;top:636.19px;width:70px;height:14.63px;background:#F8CBAD;border-top:1px solid rgba(255,255,255,.5);border-left:1px solid rgba(255,255,255,.5);color:#333;"><i style="top:0.8px">$</i><b style="top:0.8px;">7,000.00</b></div>
<div class="c" style="left:445px;top:636.19px;width:59px;height:14.63px;background:#DBDBDB;border-top:1px solid rgba(255,255,255,.5);color:#333;"><i style="top:0.8px">$</i><b style="top:0.8px;right:1px;">(2,800.00)</b></div>
<div class="c" style="left:504px;top:636.19px;width:61px;height:14.63px;background:#DBDBDB;border-top:1px solid rgba(255,255,255,.5);border-left:1px solid rgba(255,255,255,.5);color:#333;"><i style="top:0.8px">$</i><b style="top:0.8px;right:1px;">(1,900.00)</b></div>
<div class="c" style="left:565px;top:636.19px;width:60px;height:14.63px;background:#DBDBDB;border-top:1px solid rgba(255,255,255,.5);border-left:1px solid rgba(255,255,255,.5);color:#333;"><i style="top:0.8px">$</i><b style="top:0.8px;right:1px;">(3,300.00)</b></div>
<div class="c" style="left:625px;top:636.19px;width:71px;height:14.63px;background:#DBDBDB;border-top:1px solid rgba(255,255,255,.5);border-left:1px solid rgba(255,255,255,.5);color:#333;"><i style="top:0.8px">$</i><b style="top:0.8px;right:1px;">(8,000.00)</b></div>
<div class="c" style="left:698px;top:636.19px;width:59px;height:14.63px;background:#FFE699;border-top:1px solid rgba(255,255,255,.5);color:#333;"><i style="top:0.8px">$</i><b style="top:0.8px;right:1px;">(700.00)</b></div>
<div class="c" style="left:757px;top:636.19px;width:60px;height:14.63px;background:#FFE699;border-top:1px solid rgba(255,255,255,.5);border-left:1px solid rgba(255,255,255,.5);color:#333;"><i style="top:0.8px">$</i><b style="top:0.8px;right:1px;">(1,800.00)</b></div>
<div class="c" style="left:817px;top:636.19px;width:61px;height:14.63px;background:#FFE699;border-top:1px solid rgba(255,255,255,.5);border-left:1px solid rgba(255,255,255,.5);color:#333;"><i style="top:0.8px">$</i><b style="top:0.8px;right:1px;">(2,900.00)</b></div>
<div class="c" style="left:878px;top:636.19px;width:69px;height:14.63px;background:#FFE699;border-top:1px solid rgba(255,255,255,.5);border-left:1px solid rgba(255,255,255,.5);color:#333;"><i style="top:0.8px">$</i><b style="top:0.8px;right:1px;">(5,400.00)</b></div>
<div class="c" style="left:949px;top:636.19px;width:60px;height:14.63px;background:#BDD7EE;border-top:1px solid rgba(255,255,255,.5);color:#333;"><i style="top:0.8px">$</i><b style="top:0.8px;right:1px;">(700.00)</b></div>
<div class="c" style="left:1009px;top:636.19px;width:60px;height:14.63px;background:#BDD7EE;border-top:1px solid rgba(255,255,255,.5);border-left:1px solid rgba(255,255,255,.5);color:#333;"><i style="top:0.8px">$</i><b style="top:0.8px;right:1px;">(1,800.00)</b></div>
<div class="c" style="left:1069px;top:636.19px;width:60px;height:14.63px;background:#BDD7EE;border-top:1px solid rgba(255,255,255,.5);border-left:1px solid rgba(255,255,255,.5);color:#333;"><i style="top:0.8px">$</i><b style="top:0.8px;right:1px;">(2,900.00)</b></div>
<div class="c" style="left:1129px;top:636.19px;width:71px;height:14.63px;background:#BDD7EE;border-top:1px solid rgba(255,255,255,.5);border-left:1px solid rgba(255,255,255,.5);color:#333;"><i style="top:0.8px">$</i><b style="top:0.8px;right:1px;">(5,400.00)</b></div>
<div class="c" style="left:1201px;top:636.19px;width:81px;height:14.63px;background:#DCE2F3;border-top:1px solid rgba(255,255,255,.5);color:#333;font-weight:bold;"><i style="top:0.8px">$</i><b style="top:0.8px;right:1px;">(11,800.00)</b></div>
<div style="left:4px;top:650.82px;width:189px;height:14.63px;background:#DDEBF7;border-top:1px solid rgba(255,255,255,.38);"></div>
<div class="t tl" style="left:11px;top:652.22px;width:182px;height:14.63px;font-size:6.8px;color:#333;transform:scaleX(.895);transform-origin:left center">MENOS EXISTENCIAS DE CIERRE</div>
<div class="c" style="left:193px;top:650.82px;width:60px;height:14.63px;border-top:1px solid #F4F4F4;color:#333;"><i style="top:0.8px">$</i><b style="top:0.8px;right:9.7px;">-</b></div>
<div class="c" style="left:253px;top:650.82px;width:60px;height:14.63px;border-top:1px solid #F4F4F4;border-left:1px solid #F4F4F4;color:#333;"><i style="top:0.8px">$</i><b style="top:0.8px;right:9.7px;">-</b></div>
<div class="c" style="left:313px;top:650.82px;width:60px;height:14.63px;border-top:1px solid #F4F4F4;border-left:1px solid #F4F4F4;color:#333;"><i style="top:0.8px">$</i><b style="top:0.8px;right:9.7px;">-</b></div>
<div class="c" style="left:373px;top:650.82px;width:70px;height:14.63px;background:#F8CBAD;border-top:1px solid rgba(255,255,255,.5);border-left:1px solid rgba(255,255,255,.5);color:#333;"><i style="top:0.8px">$</i><b style="top:0.8px;right:9.7px;">-</b></div>
<div class="c" style="left:445px;top:650.82px;width:59px;height:14.63px;border-top:1px solid #F4F4F4;color:#333;"><i style="top:0.8px">$</i><b style="top:0.8px;right:9.7px;">-</b></div>
<div class="c" style="left:504px;top:650.82px;width:61px;height:14.63px;border-top:1px solid #F4F4F4;border-left:1px solid #F4F4F4;color:#333;"><i style="top:0.8px">$</i><b style="top:0.8px;right:9.7px;">-</b></div>
<div class="c" style="left:565px;top:650.82px;width:60px;height:14.63px;border-top:1px solid #F4F4F4;border-left:1px solid #F4F4F4;color:#333;"><i style="top:0.8px">$</i><b style="top:0.8px;right:9.7px;">-</b></div>
<div class="c" style="left:625px;top:650.82px;width:71px;height:14.63px;background:#DBDBDB;border-top:1px solid rgba(255,255,255,.5);border-left:1px solid rgba(255,255,255,.5);color:#333;"><i style="top:0.8px">$</i><b style="top:0.8px;right:9.7px;">-</b></div>
<div class="c" style="left:698px;top:650.82px;width:59px;height:14.63px;border-top:1px solid #F4F4F4;color:#333;"><i style="top:0.8px">$</i><b style="top:0.8px;right:9.7px;">-</b></div>
<div class="c" style="left:757px;top:650.82px;width:60px;height:14.63px;border-top:1px solid #F4F4F4;border-left:1px solid #F4F4F4;color:#333;"><i style="top:0.8px">$</i><b style="top:0.8px;right:9.7px;">-</b></div>
<div class="c" style="left:817px;top:650.82px;width:61px;height:14.63px;border-top:1px solid #F4F4F4;border-left:1px solid #F4F4F4;color:#333;"><i style="top:0.8px">$</i><b style="top:0.8px;right:9.7px;">-</b></div>
<div class="c" style="left:878px;top:650.82px;width:69px;height:14.63px;background:#FFE699;border-top:1px solid rgba(255,255,255,.5);border-left:1px solid rgba(255,255,255,.5);color:#333;"><i style="top:0.8px">$</i><b style="top:0.8px;right:9.7px;">-</b></div>
<div class="c" style="left:949px;top:650.82px;width:60px;height:14.63px;border-top:1px solid #F4F4F4;color:#333;"><i style="top:0.8px">$</i><b style="top:0.8px;right:9.7px;">-</b></div>
<div class="c" style="left:1009px;top:650.82px;width:60px;height:14.63px;border-top:1px solid #F4F4F4;border-left:1px solid #F4F4F4;color:#333;"><i style="top:0.8px">$</i><b style="top:0.8px;right:9.7px;">-</b></div>
<div class="c" style="left:1069px;top:650.82px;width:60px;height:14.63px;border-top:1px solid #F4F4F4;border-left:1px solid #F4F4F4;color:#333;"><i style="top:0.8px">$</i><b style="top:0.8px;right:9.7px;">-</b></div>
<div class="c" style="left:1129px;top:650.82px;width:71px;height:14.63px;background:#BDD7EE;border-top:1px solid rgba(255,255,255,.5);border-left:1px solid rgba(255,255,255,.5);color:#333;"><i style="top:0.8px">$</i><b style="top:0.8px;right:9.7px;">-</b></div>
<div class="c" style="left:1201px;top:650.82px;width:81px;height:14.63px;background:#DCE2F3;border-top:1px solid rgba(255,255,255,.5);color:#333;font-weight:bold;"><i style="top:0.8px">$</i><b style="top:0.8px;right:9.7px;">-</b></div>
<div style="left:4px;top:665.45px;width:189px;height:14.63px;background:#DDEBF7;border-top:1px solid rgba(255,255,255,.38);"></div>
<div class="t tr" style="left:4px;top:666.35px;width:189px;height:14.63px;font-size:6.2px;color:#000;font-weight:bold;padding:0 8px;letter-spacing:0.1px;">TOTAL DE COGS</div>
<div class="c" style="left:193px;top:665.45px;width:60px;height:14.63px;background:#F8CBAD;border-top:1px solid rgba(255,255,255,.5);color:#333;"><i style="top:0.8px">$</i><b style="top:0.8px;">1,700.00</b></div>
<div class="c" style="left:253px;top:665.45px;width:60px;height:14.63px;background:#F8CBAD;border-top:1px solid rgba(255,255,255,.5);border-left:1px solid rgba(255,255,255,.5);color:#333;"><i style="top:0.8px">$</i><b style="top:0.8px;">2,200.00</b></div>
<div class="c" style="left:313px;top:665.45px;width:60px;height:14.63px;background:#F8CBAD;border-top:1px solid rgba(255,255,255,.5);border-left:1px solid rgba(255,255,255,.5);color:#333;"><i style="top:0.8px">$</i><b style="top:0.8px;">3,100.00</b></div>
<div class="c" style="left:373px;top:665.45px;width:70px;height:14.63px;background:#F8CBAD;border-top:1px solid rgba(255,255,255,.5);border-left:1px solid rgba(255,255,255,.5);color:#333;"><i style="top:0.8px">$</i><b style="top:0.8px;">7,000.00</b></div>
<div class="c" style="left:445px;top:665.45px;width:59px;height:14.63px;background:#DBDBDB;border-top:1px solid rgba(255,255,255,.5);color:#333;"><i style="top:0.8px">$</i><b style="top:0.8px;right:1px;">(2,800.00)</b></div>
<div class="c" style="left:504px;top:665.45px;width:61px;height:14.63px;background:#DBDBDB;border-top:1px solid rgba(255,255,255,.5);border-left:1px solid rgba(255,255,255,.5);color:#333;"><i style="top:0.8px">$</i><b style="top:0.8px;right:1px;">(1,900.00)</b></div>
<div class="c" style="left:565px;top:665.45px;width:60px;height:14.63px;background:#DBDBDB;border-top:1px solid rgba(255,255,255,.5);border-left:1px solid rgba(255,255,255,.5);color:#333;"><i style="top:0.8px">$</i><b style="top:0.8px;right:1px;">(3,300.00)</b></div>
<div class="c" style="left:625px;top:665.45px;width:71px;height:14.63px;background:#F2F2F2;border-top:1px solid rgba(255,255,255,.5);border-left:1px solid rgba(255,255,255,.5);color:#333;"><i style="top:0.8px">$</i><b style="top:0.8px;right:1px;">(8,000.00)</b></div>
<div class="c" style="left:698px;top:665.45px;width:59px;height:14.63px;background:#FFE699;border-top:1px solid rgba(255,255,255,.5);color:#333;"><i style="top:0.8px">$</i><b style="top:0.8px;right:1px;">(700.00)</b></div>
<div class="c" style="left:757px;top:665.45px;width:60px;height:14.63px;background:#FFE699;border-top:1px solid rgba(255,255,255,.5);border-left:1px solid rgba(255,255,255,.5);color:#333;"><i style="top:0.8px">$</i><b style="top:0.8px;right:1px;">(1,800.00)</b></div>
<div class="c" style="left:817px;top:665.45px;width:61px;height:14.63px;background:#FFE699;border-top:1px solid rgba(255,255,255,.5);border-left:1px solid rgba(255,255,255,.5);color:#333;"><i style="top:0.8px">$</i><b style="top:0.8px;right:1px;">(2,900.00)</b></div>
<div class="c" style="left:878px;top:665.45px;width:69px;height:14.63px;background:#FFE699;border-top:1px solid rgba(255,255,255,.5);border-left:1px solid rgba(255,255,255,.5);color:#333;"><i style="top:0.8px">$</i><b style="top:0.8px;right:1px;">(5,400.00)</b></div>
<div class="c" style="left:949px;top:665.45px;width:60px;height:14.63px;background:#BDD7EE;border-top:1px solid rgba(255,255,255,.5);color:#333;"><i style="top:0.8px">$</i><b style="top:0.8px;right:1px;">(700.00)</b></div>
<div class="c" style="left:1009px;top:665.45px;width:60px;height:14.63px;background:#BDD7EE;border-top:1px solid rgba(255,255,255,.5);border-left:1px solid rgba(255,255,255,.5);color:#333;"><i style="top:0.8px">$</i><b style="top:0.8px;right:1px;">(1,800.00)</b></div>
<div class="c" style="left:1069px;top:665.45px;width:60px;height:14.63px;background:#BDD7EE;border-top:1px solid rgba(255,255,255,.5);border-left:1px solid rgba(255,255,255,.5);color:#333;"><i style="top:0.8px">$</i><b style="top:0.8px;right:1px;">(2,900.00)</b></div>
<div class="c" style="left:1129px;top:665.45px;width:71px;height:14.63px;background:#BDD7EE;border-top:1px solid rgba(255,255,255,.5);border-left:1px solid rgba(255,255,255,.5);color:#333;"><i style="top:0.8px">$</i><b style="top:0.8px;right:1px;">(5,400.00)</b></div>
<div class="c" style="left:1201px;top:665.45px;width:81px;height:14.63px;background:#B4C6E7;border-top:1px solid rgba(255,255,255,.5);color:#333;font-weight:bold;"><i style="top:0.8px">$</i><b style="top:0.8px;right:1px;">(11,800.00)</b></div>
<div style="left:4px;top:680.08px;width:189px;height:14.63px;background:#DDEBF7;border-top:1px solid rgba(255,255,255,.38);"></div>
<div class="t tr" style="left:4px;top:680.98px;width:189px;height:14.63px;font-size:6.2px;color:#000;font-weight:bold;padding:0 8px;letter-spacing:0.1px;">GANANCIA BRUTA</div>
<div class="c" style="left:193px;top:680.08px;width:60px;height:14.63px;background:#843C0C;border-top:1px solid rgba(255,255,255,.47);color:#fff;"><i style="top:0.8px">$</i><b style="top:0.8px;">16,800.00</b></div>
<div class="c" style="left:253px;top:680.08px;width:60px;height:14.63px;background:#843C0C;border-top:1px solid rgba(255,255,255,.47);border-left:1px solid rgba(255,255,255,.36);color:#fff;"><i style="top:0.8px">$</i><b style="top:0.8px;">15,400.00</b></div>
<div class="c" style="left:313px;top:680.08px;width:60px;height:14.63px;background:#843C0C;border-top:1px solid rgba(255,255,255,.47);border-left:1px solid rgba(255,255,255,.36);color:#fff;"><i style="top:0.8px">$</i><b style="top:0.8px;">11,556.00</b></div>
<div class="c" style="left:373px;top:680.08px;width:70px;height:14.63px;background:#C55A11;border-top:1px solid rgba(255,255,255,.47);border-left:1px solid rgba(255,255,255,.36);color:#fff;"><i style="top:0.8px">$</i><b style="top:0.8px;">43,756.00</b></div>
<div class="c" style="left:445px;top:680.08px;width:59px;height:14.63px;background:#525252;border-top:1px solid rgba(255,255,255,.47);color:#fff;"><i style="top:0.8px">$</i><b style="top:0.8px;">21,450.00</b></div>
<div class="c" style="left:504px;top:680.08px;width:61px;height:14.63px;background:#525252;border-top:1px solid rgba(255,255,255,.47);border-left:1px solid rgba(255,255,255,.36);color:#fff;"><i style="top:0.8px">$</i><b style="top:0.8px;">20,800.00</b></div>
<div class="c" style="left:565px;top:680.08px;width:60px;height:14.63px;background:#525252;border-top:1px solid rgba(255,255,255,.47);border-left:1px solid rgba(255,255,255,.36);color:#fff;"><i style="top:0.8px">$</i><b style="top:0.8px;">22,000.00</b></div>
<div class="c" style="left:625px;top:680.08px;width:71px;height:14.63px;background:#7B7B7B;border-top:1px solid rgba(255,255,255,.47);border-left:1px solid rgba(255,255,255,.36);color:#fff;"><i style="top:0.8px">$</i><b style="top:0.8px;">64,250.00</b></div>
<div class="c" style="left:698px;top:680.08px;width:59px;height:14.63px;background:#7F6000;border-top:1px solid rgba(255,255,255,.47);color:#fff;"><i style="top:0.8px">$</i><b style="top:0.8px;">19,200.00</b></div>
<div class="c" style="left:757px;top:680.08px;width:60px;height:14.63px;background:#7F6000;border-top:1px solid rgba(255,255,255,.47);border-left:1px solid rgba(255,255,255,.36);color:#fff;"><i style="top:0.8px">$</i><b style="top:0.8px;">19,400.00</b></div>
<div class="c" style="left:817px;top:680.08px;width:61px;height:14.63px;background:#7F6000;border-top:1px solid rgba(255,255,255,.47);border-left:1px solid rgba(255,255,255,.36);color:#fff;"><i style="top:0.8px">$</i><b style="top:0.8px;">17,556.00</b></div>
<div class="c" style="left:878px;top:680.08px;width:69px;height:14.63px;background:#BF8F00;border-top:1px solid rgba(255,255,255,.47);border-left:1px solid rgba(255,255,255,.36);color:#fff;"><i style="top:0.8px">$</i><b style="top:0.8px;">56,156.00</b></div>
<div class="c" style="left:949px;top:680.08px;width:60px;height:14.63px;background:#1F4E78;border-top:1px solid rgba(255,255,255,.47);color:#fff;"><i style="top:0.8px">$</i><b style="top:0.8px;">19,350.00</b></div>
<div class="c" style="left:1009px;top:680.08px;width:60px;height:14.63px;background:#1F4E78;border-top:1px solid rgba(255,255,255,.47);border-left:1px solid rgba(255,255,255,.36);color:#fff;"><i style="top:0.8px">$</i><b style="top:0.8px;">20,700.00</b></div>
<div class="c" style="left:1069px;top:680.08px;width:60px;height:14.63px;background:#1F4E78;border-top:1px solid rgba(255,255,255,.47);border-left:1px solid rgba(255,255,255,.36);color:#fff;"><i style="top:0.8px">$</i><b style="top:0.8px;">21,600.00</b></div>
<div class="c" style="left:1129px;top:680.08px;width:71px;height:14.63px;background:#2E75B6;border-top:1px solid rgba(255,255,255,.47);border-left:1px solid rgba(255,255,255,.36);color:#fff;"><i style="top:0.8px">$</i><b style="top:0.8px;">61,650.00</b></div>
<div class="c" style="left:1201px;top:680.08px;width:81px;height:14.63px;background:#203864;border-top:1px solid rgba(255,255,255,.47);color:#fff;font-weight:bold;"><i style="top:0.8px">$</i><b style="top:0.8px;">225,812.00</b></div>
<div style="left:443px;top:446px;width:2px;height:248.71px;background:#FFFFFF;"></div>
<div style="left:443px;top:426px;width:2px;height:20px;background:#FFFFFF;"></div>
<div style="left:696px;top:446px;width:2px;height:248.71px;background:#F3F3F3;"></div>
<div style="left:696px;top:426px;width:2px;height:20px;background:#CDBB85;"></div>
<div style="left:947px;top:446px;width:2px;height:248.71px;background:#F3F3F3;"></div>
<div style="left:947px;top:426px;width:2px;height:20px;background:#FFFFFF;"></div>
<div style="left:1200px;top:446px;width:1px;height:248.71px;background:#ECEEF5;"></div>
<div style="left:1200px;top:426px;width:1px;height:20px;background:#A9B7CF;"></div>
<div style="left:3px;top:705px;width:1279px;height:1px;background:repeating-linear-gradient(90deg,#CCCCCC 0 4.6px,transparent 4.6px 6px) -3px 0/6px 100%"></div>
<div class="t tl" style="left:6px;top:711.2px;width:694px;height:20.0px;font-size:15px;color:#626262;transform:scaleX(0.934);transform-origin:left center">GASTOS - OPERATIVO</div>
<div class="h" style="left:193px;top:736px;width:60px;height:20px;background:#843C0C;"><b style="top:2.4px;transform:scaleX(0.806)">ENE</b></div>
<div class="h" style="left:253px;top:736px;width:60px;height:20px;background:#843C0C;border-left:1px solid rgba(255,255,255,.36);"><b style="top:2.4px;transform:scaleX(0.746)">FEB</b></div>
<div class="h" style="left:313px;top:736px;width:60px;height:20px;background:#843C0C;border-left:1px solid rgba(255,255,255,.36);"><b style="top:2.4px;transform:scaleX(0.961)">MAR</b></div>
<div class="h" style="left:373px;top:736px;width:70px;height:20px;background:#C55A11;border-left:1px solid rgba(255,255,255,.36);"><b style="top:2.4px;transform:scaleX(0.868)">TOTAL DE T1</b></div>
<div class="h" style="left:445px;top:736px;width:59px;height:20px;background:#525252;"><b style="top:2.4px;transform:scaleX(0.849)">ABR</b></div>
<div class="h" style="left:504px;top:736px;width:61px;height:20px;background:#525252;border-left:1px solid rgba(255,255,255,.36);"><b style="top:2.4px;transform:scaleX(1.024)">MAYO</b></div>
<div class="h" style="left:565px;top:736px;width:60px;height:20px;background:#525252;border-left:1px solid rgba(255,255,255,.36);"><b style="top:2.4px;transform:scaleX(0.857)">JUN</b></div>
<div class="h" style="left:625px;top:736px;width:71px;height:20px;background:#7B7B7B;border-left:1px solid rgba(255,255,255,.36);"><b style="top:2.4px;transform:scaleX(0.868)">TOTAL DE T2</b></div>
<div class="h" style="left:698px;top:736px;width:59px;height:20px;background:#7F6000;"><b style="top:2.4px;transform:scaleX(0.832)">JUL</b></div>
<div class="h" style="left:757px;top:736px;width:60px;height:20px;background:#7F6000;border-left:1px solid rgba(255,255,255,.36);"><b style="top:2.4px;transform:scaleX(1.045)">AGO</b></div>
<div class="h" style="left:817px;top:736px;width:61px;height:20px;background:#7F6000;border-left:1px solid rgba(255,255,255,.36);"><b style="top:2.4px;transform:scaleX(0.749)">SEP</b></div>
<div class="h" style="left:878px;top:736px;width:69px;height:20px;background:#BF8F00;border-left:1px solid rgba(255,255,255,.36);"><b style="top:2.4px;transform:scaleX(0.868)">TOTAL DE T3</b></div>
<div class="h" style="left:949px;top:736px;width:60px;height:20px;background:#1F4E78;"><b style="top:2.4px;transform:scaleX(0.952)">OCT</b></div>
<div class="h" style="left:1009px;top:736px;width:60px;height:20px;background:#1F4E78;border-left:1px solid rgba(255,255,255,.36);"><b style="top:2.4px;transform:scaleX(1.027)">NOV</b></div>
<div class="h" style="left:1069px;top:736px;width:60px;height:20px;background:#1F4E78;border-left:1px solid rgba(255,255,255,.36);"><b style="top:2.4px;transform:scaleX(0.939)">DIC</b></div>
<div class="h" style="left:1129px;top:736px;width:71px;height:20px;background:#2E75B6;border-left:1px solid rgba(255,255,255,.36);"><b style="top:2.4px;transform:scaleX(0.868)">TOTAL DE T4</b></div>
<div class="h" style="left:1201px;top:736px;width:81px;height:20px;background:#203864;"><b style="top:2.4px;transform:scaleX(0.93)">TOTAL ANUAL</b></div>
<div style="left:4px;top:756.0px;width:189px;height:14.66px;background:#DDEBF7;"></div>
<div class="t tl" style="left:11px;top:756.9px;width:182px;height:14.66px;font-size:7.2px;color:#000;font-weight:bold;">GENERAL/ADMINISTRADOR</div>
<div style="left:193px;top:756.0px;width:60px;height:14.66px;background:repeating-conic-gradient(#F9D6C0 0 25%,#FDEFE6 0 50%) 0 0/2px 2px;border-top:1px solid rgba(255,255,255,.5);"></div>
<div style="left:253px;top:756.0px;width:60px;height:14.66px;background:repeating-conic-gradient(#F9D6C0 0 25%,#FDEFE6 0 50%) 0 0/2px 2px;border-top:1px solid rgba(255,255,255,.5);border-left:1px solid rgba(255,255,255,.5);"></div>
<div style="left:313px;top:756.0px;width:60px;height:14.66px;background:repeating-conic-gradient(#F9D6C0 0 25%,#FDEFE6 0 50%) 0 0/2px 2px;border-top:1px solid rgba(255,255,255,.5);border-left:1px solid rgba(255,255,255,.5);"></div>
<div style="left:373px;top:756.0px;width:70px;height:14.66px;background:repeating-conic-gradient(#FCEBE0 0 25%,#FEF5EF 0 50%) 0 0/2px 2px;border-top:1px solid rgba(255,255,255,.5);border-left:1px solid rgba(255,255,255,.5);"></div>
<div style="left:445px;top:756.0px;width:59px;height:14.66px;background:repeating-conic-gradient(#E2E2E2 0 25%,#F2F2F2 0 50%) 0 0/2px 2px;border-top:1px solid rgba(255,255,255,.5);"></div>
<div style="left:504px;top:756.0px;width:61px;height:14.66px;background:repeating-conic-gradient(#E2E2E2 0 25%,#F2F2F2 0 50%) 0 0/2px 2px;border-top:1px solid rgba(255,255,255,.5);border-left:1px solid rgba(255,255,255,.5);"></div>
<div style="left:565px;top:756.0px;width:60px;height:14.66px;background:repeating-conic-gradient(#E2E2E2 0 25%,#F2F2F2 0 50%) 0 0/2px 2px;border-top:1px solid rgba(255,255,255,.5);border-left:1px solid rgba(255,255,255,.5);"></div>
<div style="left:625px;top:756.0px;width:71px;height:14.66px;background:repeating-conic-gradient(#EEEEEE 0 25%,#F7F7F7 0 50%) 0 0/2px 2px;border-top:1px solid rgba(255,255,255,.5);border-left:1px solid rgba(255,255,255,.5);"></div>
<div style="left:698px;top:756.0px;width:59px;height:14.66px;background:repeating-conic-gradient(#FDEBBE 0 25%,#FFF6DA 0 50%) 0 0/2px 2px;border-top:1px solid rgba(255,255,255,.5);"></div>
<div style="left:757px;top:756.0px;width:60px;height:14.66px;background:repeating-conic-gradient(#FDEBBE 0 25%,#FFF6DA 0 50%) 0 0/2px 2px;border-top:1px solid rgba(255,255,255,.5);border-left:1px solid rgba(255,255,255,.5);"></div>
<div style="left:817px;top:756.0px;width:61px;height:14.66px;background:repeating-conic-gradient(#FDEBBE 0 25%,#FFF6DA 0 50%) 0 0/2px 2px;border-top:1px solid rgba(255,255,255,.5);border-left:1px solid rgba(255,255,255,.5);"></div>
<div style="left:878px;top:756.0px;width:69px;height:14.66px;background:repeating-conic-gradient(#FFF1D4 0 25%,#FFF9EC 0 50%) 0 0/2px 2px;border-top:1px solid rgba(255,255,255,.5);border-left:1px solid rgba(255,255,255,.5);"></div>
<div style="left:949px;top:756.0px;width:60px;height:14.66px;background:repeating-conic-gradient(#CFE0F1 0 25%,#ECF3FA 0 50%) 0 0/2px 2px;border-top:1px solid rgba(255,255,255,.5);"></div>
<div style="left:1009px;top:756.0px;width:60px;height:14.66px;background:repeating-conic-gradient(#CFE0F1 0 25%,#ECF3FA 0 50%) 0 0/2px 2px;border-top:1px solid rgba(255,255,255,.5);border-left:1px solid rgba(255,255,255,.5);"></div>
<div style="left:1069px;top:756.0px;width:60px;height:14.66px;background:repeating-conic-gradient(#CFE0F1 0 25%,#ECF3FA 0 50%) 0 0/2px 2px;border-top:1px solid rgba(255,255,255,.5);border-left:1px solid rgba(255,255,255,.5);"></div>
<div style="left:1129px;top:756.0px;width:71px;height:14.66px;background:repeating-conic-gradient(#E8F0F9 0 25%,#F3F7FC 0 50%) 0 0/2px 2px;border-top:1px solid rgba(255,255,255,.5);border-left:1px solid rgba(255,255,255,.5);"></div>
<div style="left:1201px;top:756.0px;width:81px;height:14.66px;background:repeating-conic-gradient(#E4E9F5 0 25%,#F0F3FA 0 50%) 0 0/2px 2px;border-top:1px solid rgba(255,255,255,.5);"></div>
<div style="left:4px;top:770.66px;width:189px;height:14.66px;background:#DDEBF7;border-top:1px solid rgba(255,255,255,.38);"></div>
<div class="t tl" style="left:11px;top:772.06px;width:182px;height:14.66px;font-size:6.8px;color:#333;transform:scaleX(.895);transform-origin:left center">TASAS BANCARIAS</div>
<div class="c" style="left:193px;top:770.66px;width:60px;height:14.66px;border-top:1px solid #F4F4F4;color:#333;"><i style="top:0.8px">$</i><b style="top:0.8px;">100.00</b></div>
<div class="c" style="left:253px;top:770.66px;width:60px;height:14.66px;border-top:1px solid #F4F4F4;border-left:1px solid #F4F4F4;color:#333;"><i style="top:0.8px">$</i><b style="top:0.8px;">100.00</b></div>
<div class="c" style="left:313px;top:770.66px;width:60px;height:14.66px;border-top:1px solid #F4F4F4;border-left:1px solid #F4F4F4;color:#333;"><i style="top:0.8px">$</i><b style="top:0.8px;">100.00</b></div>
<div class="c" style="left:373px;top:770.66px;width:70px;height:14.66px;background:#FCE4D6;border-top:1px solid rgba(255,255,255,.5);border-left:1px solid rgba(255,255,255,.5);color:#333;"><i style="top:0.8px">$</i><b style="top:0.8px;">300.00</b></div>
<div class="c" style="left:445px;top:770.66px;width:59px;height:14.66px;border-top:1px solid #F4F4F4;color:#333;"><i style="top:0.8px">$</i><b style="top:0.8px;">100.00</b></div>
<div class="c" style="left:504px;top:770.66px;width:61px;height:14.66px;border-top:1px solid #F4F4F4;border-left:1px solid #F4F4F4;color:#333;"><i style="top:0.8px">$</i><b style="top:0.8px;">150.00</b></div>
<div class="c" style="left:565px;top:770.66px;width:60px;height:14.66px;border-top:1px solid #F4F4F4;border-left:1px solid #F4F4F4;color:#333;"><i style="top:0.8px">$</i><b style="top:0.8px;">80.00</b></div>
<div class="c" style="left:625px;top:770.66px;width:71px;height:14.66px;background:#EDEDED;border-top:1px solid rgba(255,255,255,.5);border-left:1px solid rgba(255,255,255,.5);color:#333;"><i style="top:0.8px">$</i><b style="top:0.8px;">330.00</b></div>
<div class="c" style="left:698px;top:770.66px;width:59px;height:14.66px;border-top:1px solid #F4F4F4;color:#333;"><i style="top:0.8px">$</i><b style="top:0.8px;right:9.7px;">-</b></div>
<div class="c" style="left:757px;top:770.66px;width:60px;height:14.66px;border-top:1px solid #F4F4F4;border-left:1px solid #F4F4F4;color:#333;"><i style="top:0.8px">$</i><b style="top:0.8px;right:9.7px;">-</b></div>
<div class="c" style="left:817px;top:770.66px;width:61px;height:14.66px;border-top:1px solid #F4F4F4;border-left:1px solid #F4F4F4;color:#333;"><i style="top:0.8px">$</i><b style="top:0.8px;right:9.7px;">-</b></div>
<div class="c" style="left:878px;top:770.66px;width:69px;height:14.66px;background:#FFF2CC;border-top:1px solid rgba(255,255,255,.5);border-left:1px solid rgba(255,255,255,.5);color:#333;"><i style="top:0.8px">$</i><b style="top:0.8px;right:9.7px;">-</b></div>
<div class="c" style="left:949px;top:770.66px;width:60px;height:14.66px;border-top:1px solid #F4F4F4;color:#333;"><i style="top:0.8px">$</i><b style="top:0.8px;">100.00</b></div>
<div class="c" style="left:1009px;top:770.66px;width:60px;height:14.66px;border-top:1px solid #F4F4F4;border-left:1px solid #F4F4F4;color:#333;"><i style="top:0.8px">$</i><b style="top:0.8px;">150.00</b></div>
<div class="c" style="left:1069px;top:770.66px;width:60px;height:14.66px;border-top:1px solid #F4F4F4;border-left:1px solid #F4F4F4;color:#333;"><i style="top:0.8px">$</i><b style="top:0.8px;">80.00</b></div>
<div class="c" style="left:1129px;top:770.66px;width:71px;height:14.66px;background:#DDEBF7;border-top:1px solid rgba(255,255,255,.5);border-left:1px solid rgba(255,255,255,.5);color:#333;"><i style="top:0.8px">$</i><b style="top:0.8px;">330.00</b></div>
<div class="c" style="left:1201px;top:770.66px;width:81px;height:14.66px;background:#DCE2F3;border-top:1px solid rgba(255,255,255,.5);color:#333;font-weight:bold;"><i style="top:0.8px">$</i><b style="top:0.8px;">960.00</b></div>
<div style="left:4px;top:785.32px;width:189px;height:14.66px;background:#DDEBF7;border-top:1px solid rgba(255,255,255,.38);"></div>
<div class="t tl" style="left:11px;top:786.72px;width:182px;height:14.66px;font-size:6.8px;color:#333;transform:scaleX(.895);transform-origin:left center">CONSULTAR HONORARIOS</div>
<div class="c" style="left:193px;top:785.32px;width:60px;height:14.66px;border-top:1px solid #F4F4F4;color:#333;"><i style="top:0.8px">$</i><b style="top:0.8px;">300.00</b></div>
<div class="c" style="left:253px;top:785.32px;width:60px;height:14.66px;border-top:1px solid #F4F4F4;border-left:1px solid #F4F4F4;color:#333;"><i style="top:0.8px">$</i><b style="top:0.8px;">200.00</b></div>
<div class="c" style="left:313px;top:785.32px;width:60px;height:14.66px;border-top:1px solid #F4F4F4;border-left:1px solid #F4F4F4;color:#333;"><i style="top:0.8px">$</i><b style="top:0.8px;right:9.7px;">-</b></div>
<div class="c" style="left:373px;top:785.32px;width:70px;height:14.66px;background:#FCE4D6;border-top:1px solid rgba(255,255,255,.5);border-left:1px solid rgba(255,255,255,.5);color:#333;"><i style="top:0.8px">$</i><b style="top:0.8px;">500.00</b></div>
<div class="c" style="left:445px;top:785.32px;width:59px;height:14.66px;border-top:1px solid #F4F4F4;color:#333;"><i style="top:0.8px">$</i><b style="top:0.8px;">250.00</b></div>
<div class="c" style="left:504px;top:785.32px;width:61px;height:14.66px;border-top:1px solid #F4F4F4;border-left:1px solid #F4F4F4;color:#333;"><i style="top:0.8px">$</i><b style="top:0.8px;right:9.7px;">-</b></div>
<div class="c" style="left:565px;top:785.32px;width:60px;height:14.66px;border-top:1px solid #F4F4F4;border-left:1px solid #F4F4F4;color:#333;"><i style="top:0.8px">$</i><b style="top:0.8px;">125.00</b></div>
<div class="c" style="left:625px;top:785.32px;width:71px;height:14.66px;background:#EDEDED;border-top:1px solid rgba(255,255,255,.5);border-left:1px solid rgba(255,255,255,.5);color:#333;"><i style="top:0.8px">$</i><b style="top:0.8px;">375.00</b></div>
<div class="c" style="left:698px;top:785.32px;width:59px;height:14.66px;border-top:1px solid #F4F4F4;color:#333;"><i style="top:0.8px">$</i><b style="top:0.8px;right:9.7px;">-</b></div>
<div class="c" style="left:757px;top:785.32px;width:60px;height:14.66px;border-top:1px solid #F4F4F4;border-left:1px solid #F4F4F4;color:#333;"><i style="top:0.8px">$</i><b style="top:0.8px;right:9.7px;">-</b></div>
<div class="c" style="left:817px;top:785.32px;width:61px;height:14.66px;border-top:1px solid #F4F4F4;border-left:1px solid #F4F4F4;color:#333;"><i style="top:0.8px">$</i><b style="top:0.8px;right:9.7px;">-</b></div>
<div class="c" style="left:878px;top:785.32px;width:69px;height:14.66px;background:#FFF2CC;border-top:1px solid rgba(255,255,255,.5);border-left:1px solid rgba(255,255,255,.5);color:#333;"><i style="top:0.8px">$</i><b style="top:0.8px;right:9.7px;">-</b></div>
<div class="c" style="left:949px;top:785.32px;width:60px;height:14.66px;border-top:1px solid #F4F4F4;color:#333;"><i style="top:0.8px">$</i><b style="top:0.8px;">250.00</b></div>
<div class="c" style="left:1009px;top:785.32px;width:60px;height:14.66px;border-top:1px solid #F4F4F4;border-left:1px solid #F4F4F4;color:#333;"><i style="top:0.8px">$</i><b style="top:0.8px;right:9.7px;">-</b></div>
<div class="c" style="left:1069px;top:785.32px;width:60px;height:14.66px;border-top:1px solid #F4F4F4;border-left:1px solid #F4F4F4;color:#333;"><i style="top:0.8px">$</i><b style="top:0.8px;">125.00</b></div>
<div class="c" style="left:1129px;top:785.32px;width:71px;height:14.66px;background:#DDEBF7;border-top:1px solid rgba(255,255,255,.5);border-left:1px solid rgba(255,255,255,.5);color:#333;"><i style="top:0.8px">$</i><b style="top:0.8px;">375.00</b></div>
<div class="c" style="left:1201px;top:785.32px;width:81px;height:14.66px;background:#DCE2F3;border-top:1px solid rgba(255,255,255,.5);color:#333;font-weight:bold;"><i style="top:0.8px">$</i><b style="top:0.8px;">1,250.00</b></div>
<div style="left:4px;top:799.98px;width:189px;height:14.66px;background:#DDEBF7;border-top:1px solid rgba(255,255,255,.38);"></div>
<div class="t tl" style="left:11px;top:801.38px;width:182px;height:14.66px;font-size:6.8px;color:#333;transform:scaleX(.895);transform-origin:left center">SUMINISTROS DE OFICINA</div>
<div class="c" style="left:193px;top:799.98px;width:60px;height:14.66px;border-top:1px solid #F4F4F4;color:#333;"><i style="top:0.8px">$</i><b style="top:0.8px;">150.00</b></div>
<div class="c" style="left:253px;top:799.98px;width:60px;height:14.66px;border-top:1px solid #F4F4F4;border-left:1px solid #F4F4F4;color:#333;"><i style="top:0.8px">$</i><b style="top:0.8px;">80.00</b></div>
<div class="c" style="left:313px;top:799.98px;width:60px;height:14.66px;border-top:1px solid #F4F4F4;border-left:1px solid #F4F4F4;color:#333;"><i style="top:0.8px">$</i><b style="top:0.8px;">200.00</b></div>
<div class="c" style="left:373px;top:799.98px;width:70px;height:14.66px;background:#FCE4D6;border-top:1px solid rgba(255,255,255,.5);border-left:1px solid rgba(255,255,255,.5);color:#333;"><i style="top:0.8px">$</i><b style="top:0.8px;">430.00</b></div>
<div class="c" style="left:445px;top:799.98px;width:59px;height:14.66px;border-top:1px solid #F4F4F4;color:#333;"><i style="top:0.8px">$</i><b style="top:0.8px;">65.00</b></div>
<div class="c" style="left:504px;top:799.98px;width:61px;height:14.66px;border-top:1px solid #F4F4F4;border-left:1px solid #F4F4F4;color:#333;"><i style="top:0.8px">$</i><b style="top:0.8px;">65.00</b></div>
<div class="c" style="left:565px;top:799.98px;width:60px;height:14.66px;border-top:1px solid #F4F4F4;border-left:1px solid #F4F4F4;color:#333;"><i style="top:0.8px">$</i><b style="top:0.8px;">250.00</b></div>
<div class="c" style="left:625px;top:799.98px;width:71px;height:14.66px;background:#EDEDED;border-top:1px solid rgba(255,255,255,.5);border-left:1px solid rgba(255,255,255,.5);color:#333;"><i style="top:0.8px">$</i><b style="top:0.8px;">380.00</b></div>
<div class="c" style="left:698px;top:799.98px;width:59px;height:14.66px;border-top:1px solid #F4F4F4;color:#333;"><i style="top:0.8px">$</i><b style="top:0.8px;right:9.7px;">-</b></div>
<div class="c" style="left:757px;top:799.98px;width:60px;height:14.66px;border-top:1px solid #F4F4F4;border-left:1px solid #F4F4F4;color:#333;"><i style="top:0.8px">$</i><b style="top:0.8px;right:9.7px;">-</b></div>
<div class="c" style="left:817px;top:799.98px;width:61px;height:14.66px;border-top:1px solid #F4F4F4;border-left:1px solid #F4F4F4;color:#333;"><i style="top:0.8px">$</i><b style="top:0.8px;right:9.7px;">-</b></div>
<div class="c" style="left:878px;top:799.98px;width:69px;height:14.66px;background:#FFF2CC;border-top:1px solid rgba(255,255,255,.5);border-left:1px solid rgba(255,255,255,.5);color:#333;"><i style="top:0.8px">$</i><b style="top:0.8px;right:9.7px;">-</b></div>
<div class="c" style="left:949px;top:799.98px;width:60px;height:14.66px;border-top:1px solid #F4F4F4;color:#333;"><i style="top:0.8px">$</i><b style="top:0.8px;">65.00</b></div>
<div class="c" style="left:1009px;top:799.98px;width:60px;height:14.66px;border-top:1px solid #F4F4F4;border-left:1px solid #F4F4F4;color:#333;"><i style="top:0.8px">$</i><b style="top:0.8px;">65.00</b></div>
<div class="c" style="left:1069px;top:799.98px;width:60px;height:14.66px;border-top:1px solid #F4F4F4;border-left:1px solid #F4F4F4;color:#333;"><i style="top:0.8px">$</i><b style="top:0.8px;">250.00</b></div>
<div class="c" style="left:1129px;top:799.98px;width:71px;height:14.66px;background:#DDEBF7;border-top:1px solid rgba(255,255,255,.5);border-left:1px solid rgba(255,255,255,.5);color:#333;"><i style="top:0.8px">$</i><b style="top:0.8px;">380.00</b></div>
<div class="c" style="left:1201px;top:799.98px;width:81px;height:14.66px;background:#DCE2F3;border-top:1px solid rgba(255,255,255,.5);color:#333;font-weight:bold;"><i style="top:0.8px">$</i><b style="top:0.8px;">1,190.00</b></div>
<div style="left:4px;top:814.64px;width:189px;height:14.66px;background:#DDEBF7;border-top:1px solid rgba(255,255,255,.38);"></div>
<div class="t tl" style="left:11px;top:816.04px;width:182px;height:14.66px;font-size:6.8px;color:#333;transform:scaleX(.895);transform-origin:left center">TARIFAS DE LICENCIAS</div>
<div class="c" style="left:193px;top:814.64px;width:60px;height:14.66px;border-top:1px solid #F4F4F4;color:#333;"><i style="top:0.8px">$</i><b style="top:0.8px;right:9.7px;">-</b></div>
<div class="c" style="left:253px;top:814.64px;width:60px;height:14.66px;border-top:1px solid #F4F4F4;border-left:1px solid #F4F4F4;color:#333;"><i style="top:0.8px">$</i><b style="top:0.8px;right:9.7px;">-</b></div>
<div class="c" style="left:313px;top:814.64px;width:60px;height:14.66px;border-top:1px solid #F4F4F4;border-left:1px solid #F4F4F4;color:#333;"><i style="top:0.8px">$</i><b style="top:0.8px;right:9.7px;">-</b></div>
<div class="c" style="left:373px;top:814.64px;width:70px;height:14.66px;background:#FCE4D6;border-top:1px solid rgba(255,255,255,.5);border-left:1px solid rgba(255,255,255,.5);color:#333;"><i style="top:0.8px">$</i><b style="top:0.8px;right:9.7px;">-</b></div>
<div class="c" style="left:445px;top:814.64px;width:59px;height:14.66px;border-top:1px solid #F4F4F4;color:#333;"><i style="top:0.8px">$</i><b style="top:0.8px;right:9.7px;">-</b></div>
<div class="c" style="left:504px;top:814.64px;width:61px;height:14.66px;border-top:1px solid #F4F4F4;border-left:1px solid #F4F4F4;color:#333;"><i style="top:0.8px">$</i><b style="top:0.8px;right:9.7px;">-</b></div>
<div class="c" style="left:565px;top:814.64px;width:60px;height:14.66px;border-top:1px solid #F4F4F4;border-left:1px solid #F4F4F4;color:#333;"><i style="top:0.8px">$</i><b style="top:0.8px;right:9.7px;">-</b></div>
<div class="c" style="left:625px;top:814.64px;width:71px;height:14.66px;background:#EDEDED;border-top:1px solid rgba(255,255,255,.5);border-left:1px solid rgba(255,255,255,.5);color:#333;"><i style="top:0.8px">$</i><b style="top:0.8px;right:9.7px;">-</b></div>
<div class="c" style="left:698px;top:814.64px;width:59px;height:14.66px;border-top:1px solid #F4F4F4;color:#333;"><i style="top:0.8px">$</i><b style="top:0.8px;right:9.7px;">-</b></div>
<div class="c" style="left:757px;top:814.64px;width:60px;height:14.66px;border-top:1px solid #F4F4F4;border-left:1px solid #F4F4F4;color:#333;"><i style="top:0.8px">$</i><b style="top:0.8px;right:9.7px;">-</b></div>
<div class="c" style="left:817px;top:814.64px;width:61px;height:14.66px;border-top:1px solid #F4F4F4;border-left:1px solid #F4F4F4;color:#333;"><i style="top:0.8px">$</i><b style="top:0.8px;right:9.7px;">-</b></div>
<div class="c" style="left:878px;top:814.64px;width:69px;height:14.66px;background:#FFF2CC;border-top:1px solid rgba(255,255,255,.5);border-left:1px solid rgba(255,255,255,.5);color:#333;"><i style="top:0.8px">$</i><b style="top:0.8px;right:9.7px;">-</b></div>
<div class="c" style="left:949px;top:814.64px;width:60px;height:14.66px;border-top:1px solid #F4F4F4;color:#333;"><i style="top:0.8px">$</i><b style="top:0.8px;right:9.7px;">-</b></div>
<div class="c" style="left:1009px;top:814.64px;width:60px;height:14.66px;border-top:1px solid #F4F4F4;border-left:1px solid #F4F4F4;color:#333;"><i style="top:0.8px">$</i><b style="top:0.8px;right:9.7px;">-</b></div>
<div class="c" style="left:1069px;top:814.64px;width:60px;height:14.66px;border-top:1px solid #F4F4F4;border-left:1px solid #F4F4F4;color:#333;"><i style="top:0.8px">$</i><b style="top:0.8px;right:9.7px;">-</b></div>
<div class="c" style="left:1129px;top:814.64px;width:71px;height:14.66px;background:#DDEBF7;border-top:1px solid rgba(255,255,255,.5);border-left:1px solid rgba(255,255,255,.5);color:#333;"><i style="top:0.8px">$</i><b style="top:0.8px;right:9.7px;">-</b></div>
<div class="c" style="left:1201px;top:814.64px;width:81px;height:14.66px;background:#DCE2F3;border-top:1px solid rgba(255,255,255,.5);color:#333;font-weight:bold;"><i style="top:0.8px">$</i><b style="top:0.8px;right:9.7px;">-</b></div>
<div style="left:4px;top:829.3px;width:189px;height:14.66px;background:#DDEBF7;border-top:1px solid rgba(255,255,255,.38);"></div>
<div class="t tl" style="left:11px;top:830.7px;width:182px;height:14.66px;font-size:6.8px;color:#333;transform:scaleX(.895);transform-origin:left center">SEGURO DE NEGOCIOS</div>
<div class="c" style="left:193px;top:829.3px;width:60px;height:14.66px;border-top:1px solid #F4F4F4;color:#333;"><i style="top:0.8px">$</i><b style="top:0.8px;">200.00</b></div>
<div class="c" style="left:253px;top:829.3px;width:60px;height:14.66px;border-top:1px solid #F4F4F4;border-left:1px solid #F4F4F4;color:#333;"><i style="top:0.8px">$</i><b style="top:0.8px;">200.00</b></div>
<div class="c" style="left:313px;top:829.3px;width:60px;height:14.66px;border-top:1px solid #F4F4F4;border-left:1px solid #F4F4F4;color:#333;"><i style="top:0.8px">$</i><b style="top:0.8px;">200.00</b></div>
<div class="c" style="left:373px;top:829.3px;width:70px;height:14.66px;background:#FCE4D6;border-top:1px solid rgba(255,255,255,.5);border-left:1px solid rgba(255,255,255,.5);color:#333;"><i style="top:0.8px">$</i><b style="top:0.8px;">600.00</b></div>
<div class="c" style="left:445px;top:829.3px;width:59px;height:14.66px;border-top:1px solid #F4F4F4;color:#333;"><i style="top:0.8px">$</i><b style="top:0.8px;">200.00</b></div>
<div class="c" style="left:504px;top:829.3px;width:61px;height:14.66px;border-top:1px solid #F4F4F4;border-left:1px solid #F4F4F4;color:#333;"><i style="top:0.8px">$</i><b style="top:0.8px;">200.00</b></div>
<div class="c" style="left:565px;top:829.3px;width:60px;height:14.66px;border-top:1px solid #F4F4F4;border-left:1px solid #F4F4F4;color:#333;"><i style="top:0.8px">$</i><b style="top:0.8px;">200.00</b></div>
<div class="c" style="left:625px;top:829.3px;width:71px;height:14.66px;background:#EDEDED;border-top:1px solid rgba(255,255,255,.5);border-left:1px solid rgba(255,255,255,.5);color:#333;"><i style="top:0.8px">$</i><b style="top:0.8px;">600.00</b></div>
<div class="c" style="left:698px;top:829.3px;width:59px;height:14.66px;border-top:1px solid #F4F4F4;color:#333;"><i style="top:0.8px">$</i><b style="top:0.8px;right:9.7px;">-</b></div>
<div class="c" style="left:757px;top:829.3px;width:60px;height:14.66px;border-top:1px solid #F4F4F4;border-left:1px solid #F4F4F4;color:#333;"><i style="top:0.8px">$</i><b style="top:0.8px;right:9.7px;">-</b></div>
<div class="c" style="left:817px;top:829.3px;width:61px;height:14.66px;border-top:1px solid #F4F4F4;border-left:1px solid #F4F4F4;color:#333;"><i style="top:0.8px">$</i><b style="top:0.8px;right:9.7px;">-</b></div>
<div class="c" style="left:878px;top:829.3px;width:69px;height:14.66px;background:#FFF2CC;border-top:1px solid rgba(255,255,255,.5);border-left:1px solid rgba(255,255,255,.5);color:#333;"><i style="top:0.8px">$</i><b style="top:0.8px;right:9.7px;">-</b></div>
<div class="c" style="left:949px;top:829.3px;width:60px;height:14.66px;border-top:1px solid #F4F4F4;color:#333;"><i style="top:0.8px">$</i><b style="top:0.8px;">200.00</b></div>
<div class="c" style="left:1009px;top:829.3px;width:60px;height:14.66px;border-top:1px solid #F4F4F4;border-left:1px solid #F4F4F4;color:#333;"><i style="top:0.8px">$</i><b style="top:0.8px;">200.00</b></div>
<div class="c" style="left:1069px;top:829.3px;width:60px;height:14.66px;border-top:1px solid #F4F4F4;border-left:1px solid #F4F4F4;color:#333;"><i style="top:0.8px">$</i><b style="top:0.8px;">200.00</b></div>
<div class="c" style="left:1129px;top:829.3px;width:71px;height:14.66px;background:#DDEBF7;border-top:1px solid rgba(255,255,255,.5);border-left:1px solid rgba(255,255,255,.5);color:#333;"><i style="top:0.8px">$</i><b style="top:0.8px;">600.00</b></div>
<div class="c" style="left:1201px;top:829.3px;width:81px;height:14.66px;background:#DCE2F3;border-top:1px solid rgba(255,255,255,.5);color:#333;font-weight:bold;"><i style="top:0.8px">$</i><b style="top:0.8px;">1,800.00</b></div>
<div style="left:4px;top:843.96px;width:189px;height:14.66px;background:#DDEBF7;border-top:1px solid rgba(255,255,255,.38);"></div>
<div class="t tl" style="left:11px;top:845.36px;width:182px;height:14.66px;font-size:6.8px;color:#333;transform:scaleX(.895);transform-origin:left center">OTRO</div>
<div class="c" style="left:193px;top:843.96px;width:60px;height:14.66px;border-top:1px solid #F4F4F4;color:#333;"><i style="top:0.8px">$</i><b style="top:0.8px;right:9.7px;">-</b></div>
<div class="c" style="left:253px;top:843.96px;width:60px;height:14.66px;border-top:1px solid #F4F4F4;border-left:1px solid #F4F4F4;color:#333;"><i style="top:0.8px">$</i><b style="top:0.8px;right:9.7px;">-</b></div>
<div class="c" style="left:313px;top:843.96px;width:60px;height:14.66px;border-top:1px solid #F4F4F4;border-left:1px solid #F4F4F4;color:#333;"><i style="top:0.8px">$</i><b style="top:0.8px;right:9.7px;">-</b></div>
<div class="c" style="left:373px;top:843.96px;width:70px;height:14.66px;background:#FCE4D6;border-top:1px solid rgba(255,255,255,.5);border-left:1px solid rgba(255,255,255,.5);color:#333;"><i style="top:0.8px">$</i><b style="top:0.8px;right:9.7px;">-</b></div>
<div class="c" style="left:445px;top:843.96px;width:59px;height:14.66px;border-top:1px solid #F4F4F4;color:#333;"><i style="top:0.8px">$</i><b style="top:0.8px;right:9.7px;">-</b></div>
<div class="c" style="left:504px;top:843.96px;width:61px;height:14.66px;border-top:1px solid #F4F4F4;border-left:1px solid #F4F4F4;color:#333;"><i style="top:0.8px">$</i><b style="top:0.8px;right:9.7px;">-</b></div>
<div class="c" style="left:565px;top:843.96px;width:60px;height:14.66px;border-top:1px solid #F4F4F4;border-left:1px solid #F4F4F4;color:#333;"><i style="top:0.8px">$</i><b style="top:0.8px;right:9.7px;">-</b></div>
<div class="c" style="left:625px;top:843.96px;width:71px;height:14.66px;background:#EDEDED;border-top:1px solid rgba(255,255,255,.5);border-left:1px solid rgba(255,255,255,.5);color:#333;"><i style="top:0.8px">$</i><b style="top:0.8px;right:9.7px;">-</b></div>
<div class="c" style="left:698px;top:843.96px;width:59px;height:14.66px;border-top:1px solid #F4F4F4;color:#333;"><i style="top:0.8px">$</i><b style="top:0.8px;right:9.7px;">-</b></div>
<div class="c" style="left:757px;top:843.96px;width:60px;height:14.66px;border-top:1px solid #F4F4F4;border-left:1px solid #F4F4F4;color:#333;"><i style="top:0.8px">$</i><b style="top:0.8px;right:9.7px;">-</b></div>
<div class="c" style="left:817px;top:843.96px;width:61px;height:14.66px;border-top:1px solid #F4F4F4;border-left:1px solid #F4F4F4;color:#333;"><i style="top:0.8px">$</i><b style="top:0.8px;right:9.7px;">-</b></div>
<div class="c" style="left:878px;top:843.96px;width:69px;height:14.66px;background:#FFF2CC;border-top:1px solid rgba(255,255,255,.5);border-left:1px solid rgba(255,255,255,.5);color:#333;"><i style="top:0.8px">$</i><b style="top:0.8px;right:9.7px;">-</b></div>
<div class="c" style="left:949px;top:843.96px;width:60px;height:14.66px;border-top:1px solid #F4F4F4;color:#333;"><i style="top:0.8px">$</i><b style="top:0.8px;right:9.7px;">-</b></div>
<div class="c" style="left:1009px;top:843.96px;width:60px;height:14.66px;border-top:1px solid #F4F4F4;border-left:1px solid #F4F4F4;color:#333;"><i style="top:0.8px">$</i><b style="top:0.8px;right:9.7px;">-</b></div>
<div class="c" style="left:1069px;top:843.96px;width:60px;height:14.66px;border-top:1px solid #F4F4F4;border-left:1px solid #F4F4F4;color:#333;"><i style="top:0.8px">$</i><b style="top:0.8px;right:9.7px;">-</b></div>
<div class="c" style="left:1129px;top:843.96px;width:71px;height:14.66px;background:#DDEBF7;border-top:1px solid rgba(255,255,255,.5);border-left:1px solid rgba(255,255,255,.5);color:#333;"><i style="top:0.8px">$</i><b style="top:0.8px;right:9.7px;">-</b></div>
<div class="c" style="left:1201px;top:843.96px;width:81px;height:14.66px;background:#DCE2F3;border-top:1px solid rgba(255,255,255,.5);color:#333;font-weight:bold;"><i style="top:0.8px">$</i><b style="top:0.8px;right:9.7px;">-</b></div>
<div style="left:4px;top:858.62px;width:189px;height:14.66px;background:#DDEBF7;border-top:1px solid rgba(255,255,255,.38);"></div>
<div class="t tl" style="left:11px;top:860.02px;width:182px;height:14.66px;font-size:6.8px;color:#333;transform:scaleX(.895);transform-origin:left center">OTRO</div>
<div class="c" style="left:193px;top:858.62px;width:60px;height:14.66px;border-top:1px solid #F4F4F4;color:#333;"><i style="top:0.8px">$</i><b style="top:0.8px;right:9.7px;">-</b></div>
<div class="c" style="left:253px;top:858.62px;width:60px;height:14.66px;border-top:1px solid #F4F4F4;border-left:1px solid #F4F4F4;color:#333;"><i style="top:0.8px">$</i><b style="top:0.8px;right:9.7px;">-</b></div>
<div class="c" style="left:313px;top:858.62px;width:60px;height:14.66px;border-top:1px solid #F4F4F4;border-left:1px solid #F4F4F4;color:#333;"><i style="top:0.8px">$</i><b style="top:0.8px;right:9.7px;">-</b></div>
<div class="c" style="left:373px;top:858.62px;width:70px;height:14.66px;background:#FCE4D6;border-top:1px solid rgba(255,255,255,.5);border-left:1px solid rgba(255,255,255,.5);color:#333;"><i style="top:0.8px">$</i><b style="top:0.8px;right:9.7px;">-</b></div>
<div class="c" style="left:445px;top:858.62px;width:59px;height:14.66px;border-top:1px solid #F4F4F4;color:#333;"><i style="top:0.8px">$</i><b style="top:0.8px;right:9.7px;">-</b></div>
<div class="c" style="left:504px;top:858.62px;width:61px;height:14.66px;border-top:1px solid #F4F4F4;border-left:1px solid #F4F4F4;color:#333;"><i style="top:0.8px">$</i><b style="top:0.8px;right:9.7px;">-</b></div>
<div class="c" style="left:565px;top:858.62px;width:60px;height:14.66px;border-top:1px solid #F4F4F4;border-left:1px solid #F4F4F4;color:#333;"><i style="top:0.8px">$</i><b style="top:0.8px;right:9.7px;">-</b></div>
<div class="c" style="left:625px;top:858.62px;width:71px;height:14.66px;background:#EDEDED;border-top:1px solid rgba(255,255,255,.5);border-left:1px solid rgba(255,255,255,.5);color:#333;"><i style="top:0.8px">$</i><b style="top:0.8px;right:9.7px;">-</b></div>
<div class="c" style="left:698px;top:858.62px;width:59px;height:14.66px;border-top:1px solid #F4F4F4;color:#333;"><i style="top:0.8px">$</i><b style="top:0.8px;right:9.7px;">-</b></div>
<div class="c" style="left:757px;top:858.62px;width:60px;height:14.66px;border-top:1px solid #F4F4F4;border-left:1px solid #F4F4F4;color:#333;"><i style="top:0.8px">$</i><b style="top:0.8px;right:9.7px;">-</b></div>
<div class="c" style="left:817px;top:858.62px;width:61px;height:14.66px;border-top:1px solid #F4F4F4;border-left:1px solid #F4F4F4;color:#333;"><i style="top:0.8px">$</i><b style="top:0.8px;right:9.7px;">-</b></div>
<div class="c" style="left:878px;top:858.62px;width:69px;height:14.66px;background:#FFF2CC;border-top:1px solid rgba(255,255,255,.5);border-left:1px solid rgba(255,255,255,.5);color:#333;"><i style="top:0.8px">$</i><b style="top:0.8px;right:9.7px;">-</b></div>
<div class="c" style="left:949px;top:858.62px;width:60px;height:14.66px;border-top:1px solid #F4F4F4;color:#333;"><i style="top:0.8px">$</i><b style="top:0.8px;right:9.7px;">-</b></div>
<div class="c" style="left:1009px;top:858.62px;width:60px;height:14.66px;border-top:1px solid #F4F4F4;border-left:1px solid #F4F4F4;color:#333;"><i style="top:0.8px">$</i><b style="top:0.8px;right:9.7px;">-</b></div>
<div class="c" style="left:1069px;top:858.62px;width:60px;height:14.66px;border-top:1px solid #F4F4F4;border-left:1px solid #F4F4F4;color:#333;"><i style="top:0.8px">$</i><b style="top:0.8px;right:9.7px;">-</b></div>
<div class="c" style="left:1129px;top:858.62px;width:71px;height:14.66px;background:#DDEBF7;border-top:1px solid rgba(255,255,255,.5);border-left:1px solid rgba(255,255,255,.5);color:#333;"><i style="top:0.8px">$</i><b style="top:0.8px;right:9.7px;">-</b></div>
<div class="c" style="left:1201px;top:858.62px;width:81px;height:14.66px;background:#DCE2F3;border-top:1px solid rgba(255,255,255,.5);color:#333;font-weight:bold;"><i style="top:0.8px">$</i><b style="top:0.8px;right:9.7px;">-</b></div>
<div style="left:4px;top:873.28px;width:189px;height:14.66px;background:#DDEBF7;border-top:1px solid rgba(255,255,255,.38);"></div>
<div class="t tl" style="left:11px;top:874.68px;width:182px;height:14.66px;font-size:6.8px;color:#333;transform:scaleX(.895);transform-origin:left center">OTRO</div>
<div class="c" style="left:193px;top:873.28px;width:60px;height:14.66px;border-top:1px solid #F4F4F4;color:#333;"><i style="top:0.8px">$</i><b style="top:0.8px;right:9.7px;">-</b></div>
<div class="c" style="left:253px;top:873.28px;width:60px;height:14.66px;border-top:1px solid #F4F4F4;border-left:1px solid #F4F4F4;color:#333;"><i style="top:0.8px">$</i><b style="top:0.8px;right:9.7px;">-</b></div>
<div class="c" style="left:313px;top:873.28px;width:60px;height:14.66px;border-top:1px solid #F4F4F4;border-left:1px solid #F4F4F4;color:#333;"><i style="top:0.8px">$</i><b style="top:0.8px;right:9.7px;">-</b></div>
<div class="c" style="left:373px;top:873.28px;width:70px;height:14.66px;background:#FCE4D6;border-top:1px solid rgba(255,255,255,.5);border-left:1px solid rgba(255,255,255,.5);color:#333;"><i style="top:0.8px">$</i><b style="top:0.8px;right:9.7px;">-</b></div>
<div class="c" style="left:445px;top:873.28px;width:59px;height:14.66px;border-top:1px solid #F4F4F4;color:#333;"><i style="top:0.8px">$</i><b style="top:0.8px;right:9.7px;">-</b></div>
<div class="c" style="left:504px;top:873.28px;width:61px;height:14.66px;border-top:1px solid #F4F4F4;border-left:1px solid #F4F4F4;color:#333;"><i style="top:0.8px">$</i><b style="top:0.8px;right:9.7px;">-</b></div>
<div class="c" style="left:565px;top:873.28px;width:60px;height:14.66px;border-top:1px solid #F4F4F4;border-left:1px solid #F4F4F4;color:#333;"><i style="top:0.8px">$</i><b style="top:0.8px;right:9.7px;">-</b></div>
<div class="c" style="left:625px;top:873.28px;width:71px;height:14.66px;background:#EDEDED;border-top:1px solid rgba(255,255,255,.5);border-left:1px solid rgba(255,255,255,.5);color:#333;"><i style="top:0.8px">$</i><b style="top:0.8px;right:9.7px;">-</b></div>
<div class="c" style="left:698px;top:873.28px;width:59px;height:14.66px;border-top:1px solid #F4F4F4;color:#333;"><i style="top:0.8px">$</i><b style="top:0.8px;right:9.7px;">-</b></div>
<div class="c" style="left:757px;top:873.28px;width:60px;height:14.66px;border-top:1px solid #F4F4F4;border-left:1px solid #F4F4F4;color:#333;"><i style="top:0.8px">$</i><b style="top:0.8px;right:9.7px;">-</b></div>
<div class="c" style="left:817px;top:873.28px;width:61px;height:14.66px;border-top:1px solid #F4F4F4;border-left:1px solid #F4F4F4;color:#333;"><i style="top:0.8px">$</i><b style="top:0.8px;right:9.7px;">-</b></div>
<div class="c" style="left:878px;top:873.28px;width:69px;height:14.66px;background:#FFF2CC;border-top:1px solid rgba(255,255,255,.5);border-left:1px solid rgba(255,255,255,.5);color:#333;"><i style="top:0.8px">$</i><b style="top:0.8px;right:9.7px;">-</b></div>
<div class="c" style="left:949px;top:873.28px;width:60px;height:14.66px;border-top:1px solid #F4F4F4;color:#333;"><i style="top:0.8px">$</i><b style="top:0.8px;right:9.7px;">-</b></div>
<div class="c" style="left:1009px;top:873.28px;width:60px;height:14.66px;border-top:1px solid #F4F4F4;border-left:1px solid #F4F4F4;color:#333;"><i style="top:0.8px">$</i><b style="top:0.8px;right:9.7px;">-</b></div>
<div class="c" style="left:1069px;top:873.28px;width:60px;height:14.66px;border-top:1px solid #F4F4F4;border-left:1px solid #F4F4F4;color:#333;"><i style="top:0.8px">$</i><b style="top:0.8px;right:9.7px;">-</b></div>
<div class="c" style="left:1129px;top:873.28px;width:71px;height:14.66px;background:#DDEBF7;border-top:1px solid rgba(255,255,255,.5);border-left:1px solid rgba(255,255,255,.5);color:#333;"><i style="top:0.8px">$</i><b style="top:0.8px;right:9.7px;">-</b></div>
<div class="c" style="left:1201px;top:873.28px;width:81px;height:14.66px;background:#DCE2F3;border-top:1px solid rgba(255,255,255,.5);color:#333;font-weight:bold;"><i style="top:0.8px">$</i><b style="top:0.8px;right:9.7px;">-</b></div>
<div style="left:4px;top:887.94px;width:189px;height:14.66px;background:#DDEBF7;border-top:1px solid rgba(255,255,255,.38);"></div>
<div class="t tr" style="left:4px;top:888.84px;width:189px;height:14.66px;font-size:6.2px;color:#000;font-weight:bold;padding:0 8px;letter-spacing:0.1px;">GENERAL/ADMINISTRADOR TOTAL</div>
<div class="c" style="left:193px;top:887.94px;width:60px;height:14.66px;background:#FCE4D6;border-top:1px solid rgba(255,255,255,.5);color:#333;"><i style="top:0.8px">$</i><b style="top:0.8px;">750.00</b></div>
<div class="c" style="left:253px;top:887.94px;width:60px;height:14.66px;background:#FCE4D6;border-top:1px solid rgba(255,255,255,.5);border-left:1px solid rgba(255,255,255,.5);color:#333;"><i style="top:0.8px">$</i><b style="top:0.8px;">580.00</b></div>
<div class="c" style="left:313px;top:887.94px;width:60px;height:14.66px;background:#FCE4D6;border-top:1px solid rgba(255,255,255,.5);border-left:1px solid rgba(255,255,255,.5);color:#333;"><i style="top:0.8px">$</i><b style="top:0.8px;">500.00</b></div>
<div class="c" style="left:373px;top:887.94px;width:70px;height:14.66px;background:#FCE4D6;border-top:1px solid rgba(255,255,255,.5);border-left:1px solid rgba(255,255,255,.5);color:#333;"><i style="top:0.8px">$</i><b style="top:0.8px;">1,830.00</b></div>
<div class="c" style="left:445px;top:887.94px;width:59px;height:14.66px;background:#EDEDED;border-top:1px solid rgba(255,255,255,.5);color:#333;"><i style="top:0.8px">$</i><b style="top:0.8px;">615.00</b></div>
<div class="c" style="left:504px;top:887.94px;width:61px;height:14.66px;background:#EDEDED;border-top:1px solid rgba(255,255,255,.5);border-left:1px solid rgba(255,255,255,.5);color:#333;"><i style="top:0.8px">$</i><b style="top:0.8px;">415.00</b></div>
<div class="c" style="left:565px;top:887.94px;width:60px;height:14.66px;background:#EDEDED;border-top:1px solid rgba(255,255,255,.5);border-left:1px solid rgba(255,255,255,.5);color:#333;"><i style="top:0.8px">$</i><b style="top:0.8px;">655.00</b></div>
<div class="c" style="left:625px;top:887.94px;width:71px;height:14.66px;background:#EDEDED;border-top:1px solid rgba(255,255,255,.5);border-left:1px solid rgba(255,255,255,.5);color:#333;"><i style="top:0.8px">$</i><b style="top:0.8px;">1,685.00</b></div>
<div class="c" style="left:698px;top:887.94px;width:59px;height:14.66px;background:#FFF2CC;border-top:1px solid rgba(255,255,255,.5);color:#333;"><i style="top:0.8px">$</i><b style="top:0.8px;right:9.7px;">-</b></div>
<div class="c" style="left:757px;top:887.94px;width:60px;height:14.66px;background:#FFF2CC;border-top:1px solid rgba(255,255,255,.5);border-left:1px solid rgba(255,255,255,.5);color:#333;"><i style="top:0.8px">$</i><b style="top:0.8px;right:9.7px;">-</b></div>
<div class="c" style="left:817px;top:887.94px;width:61px;height:14.66px;background:#FFF2CC;border-top:1px solid rgba(255,255,255,.5);border-left:1px solid rgba(255,255,255,.5);color:#333;"><i style="top:0.8px">$</i><b style="top:0.8px;right:9.7px;">-</b></div>
<div class="c" style="left:878px;top:887.94px;width:69px;height:14.66px;background:#FFF2CC;border-top:1px solid rgba(255,255,255,.5);border-left:1px solid rgba(255,255,255,.5);color:#333;"><i style="top:0.8px">$</i><b style="top:0.8px;right:9.7px;">-</b></div>
<div class="c" style="left:949px;top:887.94px;width:60px;height:14.66px;background:#DDEBF7;border-top:1px solid rgba(255,255,255,.5);color:#333;"><i style="top:0.8px">$</i><b style="top:0.8px;">615.00</b></div>
<div class="c" style="left:1009px;top:887.94px;width:60px;height:14.66px;background:#DDEBF7;border-top:1px solid rgba(255,255,255,.5);border-left:1px solid rgba(255,255,255,.5);color:#333;"><i style="top:0.8px">$</i><b style="top:0.8px;">415.00</b></div>
<div class="c" style="left:1069px;top:887.94px;width:60px;height:14.66px;background:#DDEBF7;border-top:1px solid rgba(255,255,255,.5);border-left:1px solid rgba(255,255,255,.5);color:#333;"><i style="top:0.8px">$</i><b style="top:0.8px;">655.00</b></div>
<div class="c" style="left:1129px;top:887.94px;width:71px;height:14.66px;background:#DDEBF7;border-top:1px solid rgba(255,255,255,.5);border-left:1px solid rgba(255,255,255,.5);color:#333;"><i style="top:0.8px">$</i><b style="top:0.8px;">1,685.00</b></div>
<div class="c" style="left:1201px;top:887.94px;width:81px;height:14.66px;background:#B4C6E7;border-top:1px solid rgba(255,255,255,.5);color:#333;font-weight:bold;"><i style="top:0.8px">$</i><b style="top:0.8px;">5,200.00</b></div>
<div style="left:4px;top:902.6px;width:189px;height:14.66px;background:#DDEBF7;border-top:1px solid rgba(255,255,255,.38);"></div>
<div class="t tl" style="left:11px;top:903.5px;width:182px;height:14.66px;font-size:7.2px;color:#000;font-weight:bold;">OPERACIONES</div>
<div style="left:193px;top:902.6px;width:60px;height:14.66px;background:repeating-conic-gradient(#F9D6C0 0 25%,#FDEFE6 0 50%) 0 0/2px 2px;border-top:1px solid rgba(255,255,255,.5);"></div>
<div style="left:253px;top:902.6px;width:60px;height:14.66px;background:repeating-conic-gradient(#F9D6C0 0 25%,#FDEFE6 0 50%) 0 0/2px 2px;border-top:1px solid rgba(255,255,255,.5);border-left:1px solid rgba(255,255,255,.5);"></div>
<div style="left:313px;top:902.6px;width:60px;height:14.66px;background:repeating-conic-gradient(#F9D6C0 0 25%,#FDEFE6 0 50%) 0 0/2px 2px;border-top:1px solid rgba(255,255,255,.5);border-left:1px solid rgba(255,255,255,.5);"></div>
<div style="left:373px;top:902.6px;width:70px;height:14.66px;background:repeating-conic-gradient(#FCEBE0 0 25%,#FEF5EF 0 50%) 0 0/2px 2px;border-top:1px solid rgba(255,255,255,.5);border-left:1px solid rgba(255,255,255,.5);"></div>
<div style="left:445px;top:902.6px;width:59px;height:14.66px;background:repeating-conic-gradient(#E2E2E2 0 25%,#F2F2F2 0 50%) 0 0/2px 2px;border-top:1px solid rgba(255,255,255,.5);"></div>
<div style="left:504px;top:902.6px;width:61px;height:14.66px;background:repeating-conic-gradient(#E2E2E2 0 25%,#F2F2F2 0 50%) 0 0/2px 2px;border-top:1px solid rgba(255,255,255,.5);border-left:1px solid rgba(255,255,255,.5);"></div>
<div style="left:565px;top:902.6px;width:60px;height:14.66px;background:repeating-conic-gradient(#E2E2E2 0 25%,#F2F2F2 0 50%) 0 0/2px 2px;border-top:1px solid rgba(255,255,255,.5);border-left:1px solid rgba(255,255,255,.5);"></div>
<div style="left:625px;top:902.6px;width:71px;height:14.66px;background:repeating-conic-gradient(#EEEEEE 0 25%,#F7F7F7 0 50%) 0 0/2px 2px;border-top:1px solid rgba(255,255,255,.5);border-left:1px solid rgba(255,255,255,.5);"></div>
<div style="left:698px;top:902.6px;width:59px;height:14.66px;background:repeating-conic-gradient(#FDEBBE 0 25%,#FFF6DA 0 50%) 0 0/2px 2px;border-top:1px solid rgba(255,255,255,.5);"></div>
<div style="left:757px;top:902.6px;width:60px;height:14.66px;background:repeating-conic-gradient(#FDEBBE 0 25%,#FFF6DA 0 50%) 0 0/2px 2px;border-top:1px solid rgba(255,255,255,.5);border-left:1px solid rgba(255,255,255,.5);"></div>
<div style="left:817px;top:902.6px;width:61px;height:14.66px;background:repeating-conic-gradient(#FDEBBE 0 25%,#FFF6DA 0 50%) 0 0/2px 2px;border-top:1px solid rgba(255,255,255,.5);border-left:1px solid rgba(255,255,255,.5);"></div>
<div style="left:878px;top:902.6px;width:69px;height:14.66px;background:repeating-conic-gradient(#FFF1D4 0 25%,#FFF9EC 0 50%) 0 0/2px 2px;border-top:1px solid rgba(255,255,255,.5);border-left:1px solid rgba(255,255,255,.5);"></div>
<div style="left:949px;top:902.6px;width:60px;height:14.66px;background:repeating-conic-gradient(#CFE0F1 0 25%,#ECF3FA 0 50%) 0 0/2px 2px;border-top:1px solid rgba(255,255,255,.5);"></div>
<div style="left:1009px;top:902.6px;width:60px;height:14.66px;background:repeating-conic-gradient(#CFE0F1 0 25%,#ECF3FA 0 50%) 0 0/2px 2px;border-top:1px solid rgba(255,255,255,.5);border-left:1px solid rgba(255,255,255,.5);"></div>
<div style="left:1069px;top:902.6px;width:60px;height:14.66px;background:repeating-conic-gradient(#CFE0F1 0 25%,#ECF3FA 0 50%) 0 0/2px 2px;border-top:1px solid rgba(255,255,255,.5);border-left:1px solid rgba(255,255,255,.5);"></div>
<div style="left:1129px;top:902.6px;width:71px;height:14.66px;background:repeating-conic-gradient(#E8F0F9 0 25%,#F3F7FC 0 50%) 0 0/2px 2px;border-top:1px solid rgba(255,255,255,.5);border-left:1px solid rgba(255,255,255,.5);"></div>
<div style="left:1201px;top:902.6px;width:81px;height:14.66px;background:repeating-conic-gradient(#E4E9F5 0 25%,#F0F3FA 0 50%) 0 0/2px 2px;border-top:1px solid rgba(255,255,255,.5);"></div>
<div style="left:4px;top:917.26px;width:189px;height:14.66px;background:#DDEBF7;border-top:1px solid rgba(255,255,255,.38);"></div>
<div class="t tl" style="left:11px;top:918.66px;width:182px;height:14.66px;font-size:6.8px;color:#333;transform:scaleX(.895);transform-origin:left center">VIAJES</div>
<div class="c" style="left:193px;top:917.26px;width:60px;height:14.66px;border-top:1px solid #F4F4F4;color:#333;"><i style="top:0.8px">$</i><b style="top:0.8px;">800.00</b></div>
<div class="c" style="left:253px;top:917.26px;width:60px;height:14.66px;border-top:1px solid #F4F4F4;border-left:1px solid #F4F4F4;color:#333;"><i style="top:0.8px">$</i><b style="top:0.8px;">500.00</b></div>
<div class="c" style="left:313px;top:917.26px;width:60px;height:14.66px;border-top:1px solid #F4F4F4;border-left:1px solid #F4F4F4;color:#333;"><i style="top:0.8px">$</i><b style="top:0.8px;right:9.7px;">-</b></div>
<div class="c" style="left:373px;top:917.26px;width:70px;height:14.66px;background:#FCE4D6;border-top:1px solid rgba(255,255,255,.5);border-left:1px solid rgba(255,255,255,.5);color:#333;"><i style="top:0.8px">$</i><b style="top:0.8px;">1,300.00</b></div>
<div class="c" style="left:445px;top:917.26px;width:59px;height:14.66px;border-top:1px solid #F4F4F4;color:#333;"><i style="top:0.8px">$</i><b style="top:0.8px;">200.00</b></div>
<div class="c" style="left:504px;top:917.26px;width:61px;height:14.66px;border-top:1px solid #F4F4F4;border-left:1px solid #F4F4F4;color:#333;"><i style="top:0.8px">$</i><b style="top:0.8px;right:9.7px;">-</b></div>
<div class="c" style="left:565px;top:917.26px;width:60px;height:14.66px;border-top:1px solid #F4F4F4;border-left:1px solid #F4F4F4;color:#333;"><i style="top:0.8px">$</i><b style="top:0.8px;">500.00</b></div>
<div class="c" style="left:625px;top:917.26px;width:71px;height:14.66px;background:#EDEDED;border-top:1px solid rgba(255,255,255,.5);border-left:1px solid rgba(255,255,255,.5);color:#333;"><i style="top:0.8px">$</i><b style="top:0.8px;">700.00</b></div>
<div class="c" style="left:698px;top:917.26px;width:59px;height:14.66px;border-top:1px solid #F4F4F4;color:#333;"><i style="top:0.8px">$</i><b style="top:0.8px;">200.00</b></div>
<div class="c" style="left:757px;top:917.26px;width:60px;height:14.66px;border-top:1px solid #F4F4F4;border-left:1px solid #F4F4F4;color:#333;"><i style="top:0.8px">$</i><b style="top:0.8px;right:9.7px;">-</b></div>
<div class="c" style="left:817px;top:917.26px;width:61px;height:14.66px;border-top:1px solid #F4F4F4;border-left:1px solid #F4F4F4;color:#333;"><i style="top:0.8px">$</i><b style="top:0.8px;">500.00</b></div>
<div class="c" style="left:878px;top:917.26px;width:69px;height:14.66px;background:#FFF2CC;border-top:1px solid rgba(255,255,255,.5);border-left:1px solid rgba(255,255,255,.5);color:#333;"><i style="top:0.8px">$</i><b style="top:0.8px;">700.00</b></div>
<div class="c" style="left:949px;top:917.26px;width:60px;height:14.66px;border-top:1px solid #F4F4F4;color:#333;"><i style="top:0.8px">$</i><b style="top:0.8px;">800.00</b></div>
<div class="c" style="left:1009px;top:917.26px;width:60px;height:14.66px;border-top:1px solid #F4F4F4;border-left:1px solid #F4F4F4;color:#333;"><i style="top:0.8px">$</i><b style="top:0.8px;">500.00</b></div>
<div class="c" style="left:1069px;top:917.26px;width:60px;height:14.66px;border-top:1px solid #F4F4F4;border-left:1px solid #F4F4F4;color:#333;"><i style="top:0.8px">$</i><b style="top:0.8px;right:9.7px;">-</b></div>
<div class="c" style="left:1129px;top:917.26px;width:71px;height:14.66px;background:#DDEBF7;border-top:1px solid rgba(255,255,255,.5);border-left:1px solid rgba(255,255,255,.5);color:#333;"><i style="top:0.8px">$</i><b style="top:0.8px;">1,300.00</b></div>
<div class="c" style="left:1201px;top:917.26px;width:81px;height:14.66px;background:#DCE2F3;border-top:1px solid rgba(255,255,255,.5);color:#333;font-weight:bold;"><i style="top:0.8px">$</i><b style="top:0.8px;">4,000.00</b></div>
<div style="left:4px;top:931.92px;width:189px;height:14.66px;background:#DDEBF7;border-top:1px solid rgba(255,255,255,.38);"></div>
<div class="t tl" style="left:11px;top:933.32px;width:182px;height:14.66px;font-size:6.8px;color:#333;transform:scaleX(.895);transform-origin:left center">LAVANDERÍA</div>
<div class="c" style="left:193px;top:931.92px;width:60px;height:14.66px;border-top:1px solid #F4F4F4;color:#333;"><i style="top:0.8px">$</i><b style="top:0.8px;right:9.7px;">-</b></div>
<div class="c" style="left:253px;top:931.92px;width:60px;height:14.66px;border-top:1px solid #F4F4F4;border-left:1px solid #F4F4F4;color:#333;"><i style="top:0.8px">$</i><b style="top:0.8px;right:9.7px;">-</b></div>
<div class="c" style="left:313px;top:931.92px;width:60px;height:14.66px;border-top:1px solid #F4F4F4;border-left:1px solid #F4F4F4;color:#333;"><i style="top:0.8px">$</i><b style="top:0.8px;right:9.7px;">-</b></div>
<div class="c" style="left:373px;top:931.92px;width:70px;height:14.66px;background:#FCE4D6;border-top:1px solid rgba(255,255,255,.5);border-left:1px solid rgba(255,255,255,.5);color:#333;"><i style="top:0.8px">$</i><b style="top:0.8px;right:9.7px;">-</b></div>
<div class="c" style="left:445px;top:931.92px;width:59px;height:14.66px;border-top:1px solid #F4F4F4;color:#333;"><i style="top:0.8px">$</i><b style="top:0.8px;right:9.7px;">-</b></div>
<div class="c" style="left:504px;top:931.92px;width:61px;height:14.66px;border-top:1px solid #F4F4F4;border-left:1px solid #F4F4F4;color:#333;"><i style="top:0.8px">$</i><b style="top:0.8px;right:9.7px;">-</b></div>
<div class="c" style="left:565px;top:931.92px;width:60px;height:14.66px;border-top:1px solid #F4F4F4;border-left:1px solid #F4F4F4;color:#333;"><i style="top:0.8px">$</i><b style="top:0.8px;right:9.7px;">-</b></div>
<div class="c" style="left:625px;top:931.92px;width:71px;height:14.66px;background:#EDEDED;border-top:1px solid rgba(255,255,255,.5);border-left:1px solid rgba(255,255,255,.5);color:#333;"><i style="top:0.8px">$</i><b style="top:0.8px;right:9.7px;">-</b></div>
<div class="c" style="left:698px;top:931.92px;width:59px;height:14.66px;border-top:1px solid #F4F4F4;color:#333;"><i style="top:0.8px">$</i><b style="top:0.8px;right:9.7px;">-</b></div>
<div class="c" style="left:757px;top:931.92px;width:60px;height:14.66px;border-top:1px solid #F4F4F4;border-left:1px solid #F4F4F4;color:#333;"><i style="top:0.8px">$</i><b style="top:0.8px;right:9.7px;">-</b></div>
<div class="c" style="left:817px;top:931.92px;width:61px;height:14.66px;border-top:1px solid #F4F4F4;border-left:1px solid #F4F4F4;color:#333;"><i style="top:0.8px">$</i><b style="top:0.8px;right:9.7px;">-</b></div>
<div class="c" style="left:878px;top:931.92px;width:69px;height:14.66px;background:#FFF2CC;border-top:1px solid rgba(255,255,255,.5);border-left:1px solid rgba(255,255,255,.5);color:#333;"><i style="top:0.8px">$</i><b style="top:0.8px;right:9.7px;">-</b></div>
<div class="c" style="left:949px;top:931.92px;width:60px;height:14.66px;border-top:1px solid #F4F4F4;color:#333;"><i style="top:0.8px">$</i><b style="top:0.8px;right:9.7px;">-</b></div>
<div class="c" style="left:1009px;top:931.92px;width:60px;height:14.66px;border-top:1px solid #F4F4F4;border-left:1px solid #F4F4F4;color:#333;"><i style="top:0.8px">$</i><b style="top:0.8px;right:9.7px;">-</b></div>
<div class="c" style="left:1069px;top:931.92px;width:60px;height:14.66px;border-top:1px solid #F4F4F4;border-left:1px solid #F4F4F4;color:#333;"><i style="top:0.8px">$</i><b style="top:0.8px;right:9.7px;">-</b></div>
<div class="c" style="left:1129px;top:931.92px;width:71px;height:14.66px;background:#DDEBF7;border-top:1px solid rgba(255,255,255,.5);border-left:1px solid rgba(255,255,255,.5);color:#333;"><i style="top:0.8px">$</i><b style="top:0.8px;right:9.7px;">-</b></div>
<div class="c" style="left:1201px;top:931.92px;width:81px;height:14.66px;background:#DCE2F3;border-top:1px solid rgba(255,255,255,.5);color:#333;font-weight:bold;"><i style="top:0.8px">$</i><b style="top:0.8px;right:9.7px;">-</b></div>
<div style="left:4px;top:946.58px;width:189px;height:14.66px;background:#DDEBF7;border-top:1px solid rgba(255,255,255,.38);"></div>
<div class="t tl" style="left:11px;top:947.98px;width:182px;height:14.66px;font-size:6.8px;color:#333;transform:scaleX(.895);transform-origin:left center">TRANSPORTE</div>
<div class="c" style="left:193px;top:946.58px;width:60px;height:14.66px;border-top:1px solid #F4F4F4;color:#333;"><i style="top:0.8px">$</i><b style="top:0.8px;">80.00</b></div>
<div class="c" style="left:253px;top:946.58px;width:60px;height:14.66px;border-top:1px solid #F4F4F4;border-left:1px solid #F4F4F4;color:#333;"><i style="top:0.8px">$</i><b style="top:0.8px;">80.00</b></div>
<div class="c" style="left:313px;top:946.58px;width:60px;height:14.66px;border-top:1px solid #F4F4F4;border-left:1px solid #F4F4F4;color:#333;"><i style="top:0.8px">$</i><b style="top:0.8px;">150.00</b></div>
<div class="c" style="left:373px;top:946.58px;width:70px;height:14.66px;background:#FCE4D6;border-top:1px solid rgba(255,255,255,.5);border-left:1px solid rgba(255,255,255,.5);color:#333;"><i style="top:0.8px">$</i><b style="top:0.8px;">310.00</b></div>
<div class="c" style="left:445px;top:946.58px;width:59px;height:14.66px;border-top:1px solid #F4F4F4;color:#333;"><i style="top:0.8px">$</i><b style="top:0.8px;">200.00</b></div>
<div class="c" style="left:504px;top:946.58px;width:61px;height:14.66px;border-top:1px solid #F4F4F4;border-left:1px solid #F4F4F4;color:#333;"><i style="top:0.8px">$</i><b style="top:0.8px;">80.00</b></div>
<div class="c" style="left:565px;top:946.58px;width:60px;height:14.66px;border-top:1px solid #F4F4F4;border-left:1px solid #F4F4F4;color:#333;"><i style="top:0.8px">$</i><b style="top:0.8px;">80.00</b></div>
<div class="c" style="left:625px;top:946.58px;width:71px;height:14.66px;background:#EDEDED;border-top:1px solid rgba(255,255,255,.5);border-left:1px solid rgba(255,255,255,.5);color:#333;"><i style="top:0.8px">$</i><b style="top:0.8px;">360.00</b></div>
<div class="c" style="left:698px;top:946.58px;width:59px;height:14.66px;border-top:1px solid #F4F4F4;color:#333;"><i style="top:0.8px">$</i><b style="top:0.8px;">200.00</b></div>
<div class="c" style="left:757px;top:946.58px;width:60px;height:14.66px;border-top:1px solid #F4F4F4;border-left:1px solid #F4F4F4;color:#333;"><i style="top:0.8px">$</i><b style="top:0.8px;">80.00</b></div>
<div class="c" style="left:817px;top:946.58px;width:61px;height:14.66px;border-top:1px solid #F4F4F4;border-left:1px solid #F4F4F4;color:#333;"><i style="top:0.8px">$</i><b style="top:0.8px;">80.00</b></div>
<div class="c" style="left:878px;top:946.58px;width:69px;height:14.66px;background:#FFF2CC;border-top:1px solid rgba(255,255,255,.5);border-left:1px solid rgba(255,255,255,.5);color:#333;"><i style="top:0.8px">$</i><b style="top:0.8px;">360.00</b></div>
<div class="c" style="left:949px;top:946.58px;width:60px;height:14.66px;border-top:1px solid #F4F4F4;color:#333;"><i style="top:0.8px">$</i><b style="top:0.8px;">80.00</b></div>
<div class="c" style="left:1009px;top:946.58px;width:60px;height:14.66px;border-top:1px solid #F4F4F4;border-left:1px solid #F4F4F4;color:#333;"><i style="top:0.8px">$</i><b style="top:0.8px;">80.00</b></div>
<div class="c" style="left:1069px;top:946.58px;width:60px;height:14.66px;border-top:1px solid #F4F4F4;border-left:1px solid #F4F4F4;color:#333;"><i style="top:0.8px">$</i><b style="top:0.8px;">150.00</b></div>
<div class="c" style="left:1129px;top:946.58px;width:71px;height:14.66px;background:#DDEBF7;border-top:1px solid rgba(255,255,255,.5);border-left:1px solid rgba(255,255,255,.5);color:#333;"><i style="top:0.8px">$</i><b style="top:0.8px;">310.00</b></div>
<div class="c" style="left:1201px;top:946.58px;width:81px;height:14.66px;background:#DCE2F3;border-top:1px solid rgba(255,255,255,.5);color:#333;font-weight:bold;"><i style="top:0.8px">$</i><b style="top:0.8px;">1,340.00</b></div>
<div style="left:4px;top:961.24px;width:189px;height:14.66px;background:#DDEBF7;border-top:1px solid rgba(255,255,255,.38);"></div>
<div class="t tl" style="left:11px;top:962.64px;width:182px;height:14.66px;font-size:6.8px;color:#333;transform:scaleX(.895);transform-origin:left center">LIMPIEZA SVCS &amp; SUMINISTROS</div>
<div class="c" style="left:193px;top:961.24px;width:60px;height:14.66px;border-top:1px solid #F4F4F4;color:#333;"><i style="top:0.8px">$</i><b style="top:0.8px;right:9.7px;">-</b></div>
<div class="c" style="left:253px;top:961.24px;width:60px;height:14.66px;border-top:1px solid #F4F4F4;border-left:1px solid #F4F4F4;color:#333;"><i style="top:0.8px">$</i><b style="top:0.8px;right:9.7px;">-</b></div>
<div class="c" style="left:313px;top:961.24px;width:60px;height:14.66px;border-top:1px solid #F4F4F4;border-left:1px solid #F4F4F4;color:#333;"><i style="top:0.8px">$</i><b style="top:0.8px;right:9.7px;">-</b></div>
<div class="c" style="left:373px;top:961.24px;width:70px;height:14.66px;background:#FCE4D6;border-top:1px solid rgba(255,255,255,.5);border-left:1px solid rgba(255,255,255,.5);color:#333;"><i style="top:0.8px">$</i><b style="top:0.8px;right:9.7px;">-</b></div>
<div class="c" style="left:445px;top:961.24px;width:59px;height:14.66px;border-top:1px solid #F4F4F4;color:#333;"><i style="top:0.8px">$</i><b style="top:0.8px;right:9.7px;">-</b></div>
<div class="c" style="left:504px;top:961.24px;width:61px;height:14.66px;border-top:1px solid #F4F4F4;border-left:1px solid #F4F4F4;color:#333;"><i style="top:0.8px">$</i><b style="top:0.8px;right:9.7px;">-</b></div>
<div class="c" style="left:565px;top:961.24px;width:60px;height:14.66px;border-top:1px solid #F4F4F4;border-left:1px solid #F4F4F4;color:#333;"><i style="top:0.8px">$</i><b style="top:0.8px;right:9.7px;">-</b></div>
<div class="c" style="left:625px;top:961.24px;width:71px;height:14.66px;background:#EDEDED;border-top:1px solid rgba(255,255,255,.5);border-left:1px solid rgba(255,255,255,.5);color:#333;"><i style="top:0.8px">$</i><b style="top:0.8px;right:9.7px;">-</b></div>
<div class="c" style="left:698px;top:961.24px;width:59px;height:14.66px;border-top:1px solid #F4F4F4;color:#333;"><i style="top:0.8px">$</i><b style="top:0.8px;right:9.7px;">-</b></div>
<div class="c" style="left:757px;top:961.24px;width:60px;height:14.66px;border-top:1px solid #F4F4F4;border-left:1px solid #F4F4F4;color:#333;"><i style="top:0.8px">$</i><b style="top:0.8px;right:9.7px;">-</b></div>
<div class="c" style="left:817px;top:961.24px;width:61px;height:14.66px;border-top:1px solid #F4F4F4;border-left:1px solid #F4F4F4;color:#333;"><i style="top:0.8px">$</i><b style="top:0.8px;right:9.7px;">-</b></div>
<div class="c" style="left:878px;top:961.24px;width:69px;height:14.66px;background:#FFF2CC;border-top:1px solid rgba(255,255,255,.5);border-left:1px solid rgba(255,255,255,.5);color:#333;"><i style="top:0.8px">$</i><b style="top:0.8px;right:9.7px;">-</b></div>
<div class="c" style="left:949px;top:961.24px;width:60px;height:14.66px;border-top:1px solid #F4F4F4;color:#333;"><i style="top:0.8px">$</i><b style="top:0.8px;right:9.7px;">-</b></div>
<div class="c" style="left:1009px;top:961.24px;width:60px;height:14.66px;border-top:1px solid #F4F4F4;border-left:1px solid #F4F4F4;color:#333;"><i style="top:0.8px">$</i><b style="top:0.8px;right:9.7px;">-</b></div>
<div class="c" style="left:1069px;top:961.24px;width:60px;height:14.66px;border-top:1px solid #F4F4F4;border-left:1px solid #F4F4F4;color:#333;"><i style="top:0.8px">$</i><b style="top:0.8px;right:9.7px;">-</b></div>
<div class="c" style="left:1129px;top:961.24px;width:71px;height:14.66px;background:#DDEBF7;border-top:1px solid rgba(255,255,255,.5);border-left:1px solid rgba(255,255,255,.5);color:#333;"><i style="top:0.8px">$</i><b style="top:0.8px;right:9.7px;">-</b></div>
<div class="c" style="left:1201px;top:961.24px;width:81px;height:14.66px;background:#DCE2F3;border-top:1px solid rgba(255,255,255,.5);color:#333;font-weight:bold;"><i style="top:0.8px">$</i><b style="top:0.8px;right:9.7px;">-</b></div>
<div style="left:4px;top:975.9px;width:189px;height:14.66px;background:#DDEBF7;border-top:1px solid rgba(255,255,255,.38);"></div>
<div class="t tl" style="left:11px;top:977.3px;width:182px;height:14.66px;font-size:6.8px;color:#333;transform:scaleX(.895);transform-origin:left center">SUSCRIPCIONES</div>
<div class="c" style="left:193px;top:975.9px;width:60px;height:14.66px;border-top:1px solid #F4F4F4;color:#333;"><i style="top:0.8px">$</i><b style="top:0.8px;">35.00</b></div>
<div class="c" style="left:253px;top:975.9px;width:60px;height:14.66px;border-top:1px solid #F4F4F4;border-left:1px solid #F4F4F4;color:#333;"><i style="top:0.8px">$</i><b style="top:0.8px;">35.00</b></div>
<div class="c" style="left:313px;top:975.9px;width:60px;height:14.66px;border-top:1px solid #F4F4F4;border-left:1px solid #F4F4F4;color:#333;"><i style="top:0.8px">$</i><b style="top:0.8px;">35.00</b></div>
<div class="c" style="left:373px;top:975.9px;width:70px;height:14.66px;background:#FCE4D6;border-top:1px solid rgba(255,255,255,.5);border-left:1px solid rgba(255,255,255,.5);color:#333;"><i style="top:0.8px">$</i><b style="top:0.8px;">105.00</b></div>
<div class="c" style="left:445px;top:975.9px;width:59px;height:14.66px;border-top:1px solid #F4F4F4;color:#333;"><i style="top:0.8px">$</i><b style="top:0.8px;">35.00</b></div>
<div class="c" style="left:504px;top:975.9px;width:61px;height:14.66px;border-top:1px solid #F4F4F4;border-left:1px solid #F4F4F4;color:#333;"><i style="top:0.8px">$</i><b style="top:0.8px;">35.00</b></div>
<div class="c" style="left:565px;top:975.9px;width:60px;height:14.66px;border-top:1px solid #F4F4F4;border-left:1px solid #F4F4F4;color:#333;"><i style="top:0.8px">$</i><b style="top:0.8px;">35.00</b></div>
<div class="c" style="left:625px;top:975.9px;width:71px;height:14.66px;background:#EDEDED;border-top:1px solid rgba(255,255,255,.5);border-left:1px solid rgba(255,255,255,.5);color:#333;"><i style="top:0.8px">$</i><b style="top:0.8px;">105.00</b></div>
<div class="c" style="left:698px;top:975.9px;width:59px;height:14.66px;border-top:1px solid #F4F4F4;color:#333;"><i style="top:0.8px">$</i><b style="top:0.8px;">35.00</b></div>
<div class="c" style="left:757px;top:975.9px;width:60px;height:14.66px;border-top:1px solid #F4F4F4;border-left:1px solid #F4F4F4;color:#333;"><i style="top:0.8px">$</i><b style="top:0.8px;">35.00</b></div>
<div class="c" style="left:817px;top:975.9px;width:61px;height:14.66px;border-top:1px solid #F4F4F4;border-left:1px solid #F4F4F4;color:#333;"><i style="top:0.8px">$</i><b style="top:0.8px;">35.00</b></div>
<div class="c" style="left:878px;top:975.9px;width:69px;height:14.66px;background:#FFF2CC;border-top:1px solid rgba(255,255,255,.5);border-left:1px solid rgba(255,255,255,.5);color:#333;"><i style="top:0.8px">$</i><b style="top:0.8px;">105.00</b></div>
<div class="c" style="left:949px;top:975.9px;width:60px;height:14.66px;border-top:1px solid #F4F4F4;color:#333;"><i style="top:0.8px">$</i><b style="top:0.8px;">35.00</b></div>
<div class="c" style="left:1009px;top:975.9px;width:60px;height:14.66px;border-top:1px solid #F4F4F4;border-left:1px solid #F4F4F4;color:#333;"><i style="top:0.8px">$</i><b style="top:0.8px;">35.00</b></div>
<div class="c" style="left:1069px;top:975.9px;width:60px;height:14.66px;border-top:1px solid #F4F4F4;border-left:1px solid #F4F4F4;color:#333;"><i style="top:0.8px">$</i><b style="top:0.8px;">35.00</b></div>
<div class="c" style="left:1129px;top:975.9px;width:71px;height:14.66px;background:#DDEBF7;border-top:1px solid rgba(255,255,255,.5);border-left:1px solid rgba(255,255,255,.5);color:#333;"><i style="top:0.8px">$</i><b style="top:0.8px;">105.00</b></div>
<div class="c" style="left:1201px;top:975.9px;width:81px;height:14.66px;background:#DCE2F3;border-top:1px solid rgba(255,255,255,.5);color:#333;font-weight:bold;"><i style="top:0.8px">$</i><b style="top:0.8px;">420.00</b></div>
<div style="left:443px;top:756px;width:2px;height:234.56px;background:#FFFFFF;"></div>
<div style="left:443px;top:736px;width:2px;height:20px;background:#FFFFFF;"></div>
<div style="left:696px;top:756px;width:2px;height:234.56px;background:#F3F3F3;"></div>
<div style="left:696px;top:736px;width:2px;height:20px;background:#CDBB85;"></div>
<div style="left:947px;top:756px;width:2px;height:234.56px;background:#F3F3F3;"></div>
<div style="left:947px;top:736px;width:2px;height:20px;background:#FFFFFF;"></div>
<div style="left:1200px;top:756px;width:1px;height:234.56px;background:#ECEEF5;"></div>
<div style="left:1200px;top:736px;width:1px;height:20px;background:#A9B7CF;"></div>
</body></html>
